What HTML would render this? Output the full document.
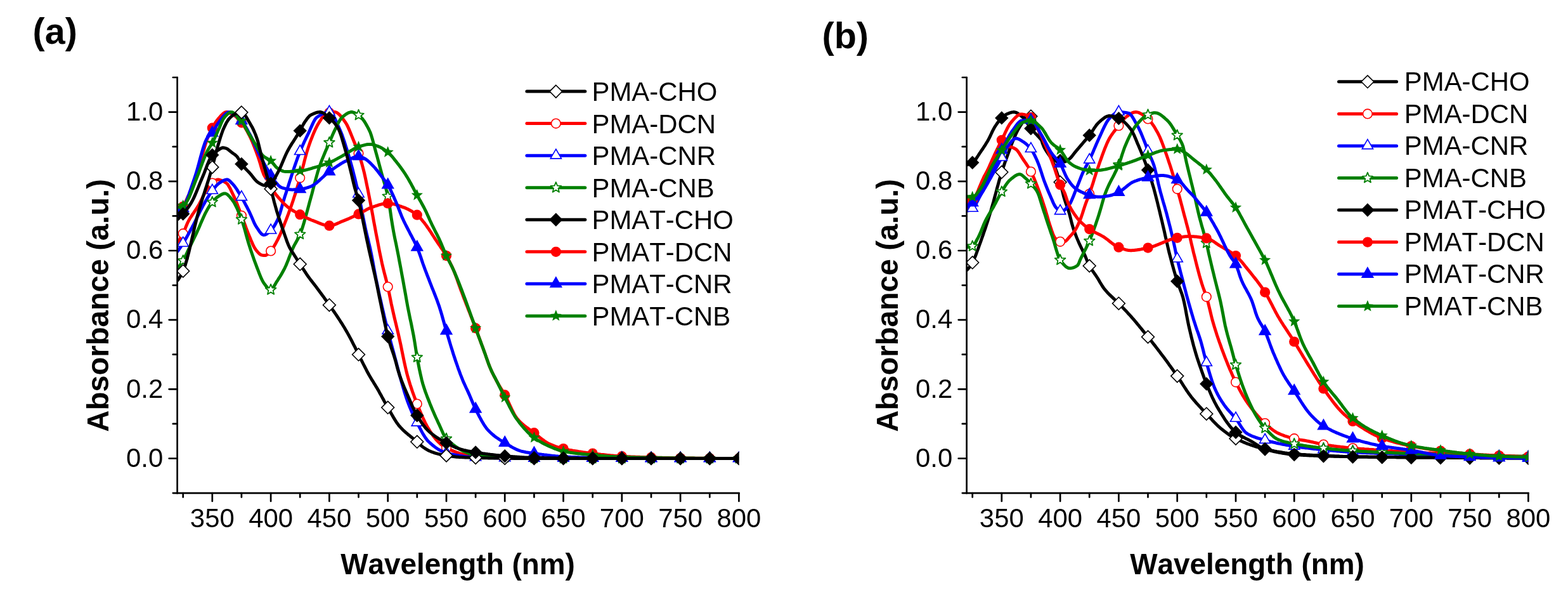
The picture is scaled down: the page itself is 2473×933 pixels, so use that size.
<!DOCTYPE html><html><head><meta charset="utf-8"><title>Absorbance spectra</title><style>html,body{margin:0;padding:0;background:#fff;}svg{display:block;} text{font-kerning:none;}</style></head><body>
<svg width="2473" height="933" viewBox="0 0 2473 933">
<rect width="2473" height="933" fill="#fff"/>
<text x="51.5" y="69.0" font-family="Liberation Sans, Arial, sans-serif" font-weight="bold" font-size="57.5">(a)</text>
<text x="1296.5" y="75.9" font-family="Liberation Sans, Arial, sans-serif" font-weight="bold" font-size="57.5">(b)</text>
<clipPath id="ca"><rect x="279.6" y="100" width="885.9" height="680"/></clipPath>
<g clip-path="url(#ca)">
<path d="M279.4,382.4 281.3,380.2 283.1,377.6 285,374.7 286.8,371.6 288.7,368.2 290.5,364.3 292.3,359.7 294.2,355 296,350.8 297.9,347.2 299.7,344 301.6,341.1 303.4,338.3 305.3,335.6 307.1,332.9 309,330.2 310.8,327.4 312.7,324.4 314.5,321.1 316.3,317.6 318.2,313.8 320,310 321.9,306.3 323.7,302.7 325.6,299.5 327.4,296.7 329.3,294.3 331.1,292.1 333,290.2 334.8,288.5 336.6,286.9 338.5,285.3 340.3,284 342.2,283.2 344,283.1 345.9,283.3 347.7,283.8 349.6,284.5 351.4,285.3 353.3,286.2 355.1,287.3 356.9,288.5 358.8,290.2 360.6,292.9 362.5,296.2 364.3,299.9 366.2,303.8 368,307.6 369.9,311.6 371.7,315.9 373.6,320.5 375.4,325.3 377.3,330.1 379.1,335 380.9,339.8 382.8,344.7 384.6,349.7 386.5,354.7 388.3,359.7 390.2,364.6 392,369.3 393.9,373.7 395.7,378.2 397.6,382.6 399.4,386.7 401.2,390.2 403.1,393 404.9,395.4 406.8,397.6 408.6,399.5 410.5,401 412.3,401.9 414.2,402.3 416,402.5 417.9,402.6 419.7,402.2 421.6,401 423.4,399.4 425.2,397.5 427.1,395.5 428.9,393.3 430.8,390.7 432.6,387.6 434.5,384.3 436.3,380.9 438.2,377.3 440,373.6 441.9,369.6 443.7,365.4 445.5,361 447.4,356.4 449.2,351.7 451.1,346.9 452.9,342.1 454.8,337.2 456.6,332.2 458.5,327 460.3,321.7 462.2,316.2 464,310.6 465.9,304.9 467.7,299 469.5,292.9 471.4,286.7 473.2,280.3 475.1,273.6 476.9,266.5 478.8,259.2 480.6,251.9 482.5,244.9 484.3,238.4 486.2,232.5 488,227.2 489.8,222.2 491.7,217.3 493.5,212.7 495.4,208.3 497.2,204.2 499.1,200.4 500.9,196.9 502.8,193.8 504.6,190.9 506.5,188 508.3,185.2 510.2,182.7 512,180.6 513.8,179.1 515.7,178.2 517.5,177.8 519.4,177.5 521.2,177.1 523.1,176.9 524.9,176.7 526.8,176.6 528.6,176.6 530.5,177.1 532.3,178.1 534.1,179.6 536,181.4 537.8,183.5 539.7,185.9 541.5,188.3 543.4,190.9 545.2,193.5 547.1,196.6 548.9,200.4 550.8,204.6 552.6,209 554.5,213.6 556.3,218.1 558.1,222.5 560,226.9 561.8,231.5 563.7,236.4 565.5,241.6 567.4,247.1 569.2,253 571.1,259.3 572.9,266.1 574.8,273.7 576.6,281.9 578.4,290.7 580.3,299.8 582.1,309.1 584,318.5 585.8,328.3 587.7,338.5 589.5,348.7 591.4,358.8 593.2,368.5 595.1,378.1 596.9,387.6 598.7,397 600.6,406 602.4,414.6 604.3,422.6 606.1,429.9 608,437 609.8,444.2 611.7,452 613.5,460.7 615.4,469.9 617.2,479.1 619.1,487.6 620.9,495.6 622.7,503.4 624.6,511.1 626.4,518.8 628.3,526.6 630.1,534.7 632,543.3 633.8,552.3 635.7,561.4 637.5,570.3 639.4,578.8 641.2,586.5 643,593.3 644.9,599.7 646.7,605.7 648.6,611.4 650.4,616.8 652.3,622 654.1,627 656,631.8 657.8,636.5 659.7,641.1 661.5,645.6 663.4,650.1 665.2,654.4 667,658.5 668.9,662.5 670.7,666.3 672.6,669.9 674.4,673.3 676.3,676.4 678.1,679.3 680,682.1 681.8,684.8 683.7,687.4 685.5,689.8 687.3,692.1 689.2,694.2 691,696.2 692.9,698 694.7,699.7 696.6,701.2 698.4,702.7 700.3,704 702.1,705.2 704,706.1 705.8,707 707.7,707.8 709.5,708.6 711.3,709.4 713.2,710.1 715,710.9 716.9,711.6 718.7,712.3 720.6,713 722.4,713.6 724.3,714.3 726.1,714.9 728,715.4 729.8,716 731.6,716.5 733.5,717 735.3,717.4 737.2,717.8 739,718.2 740.9,718.6 742.7,718.9 744.6,719.1 746.4,719.4 748.3,719.6 750.1,719.8 752,719.9 753.8,720.1 755.6,720.2 757.5,720.3 759.3,720.5 761.2,720.6 763,720.7 764.9,720.8 766.7,720.9 768.6,721 770.4,721.1 772.3,721.2 774.1,721.3 775.9,721.3 777.8,721.4 779.6,721.5 781.5,721.6 783.3,721.6 785.2,721.7 787,721.7 788.9,721.8 790.7,721.8 792.6,721.9 794.4,721.9 796.2,722 798.1,722 799.9,722 801.8,722.1 803.6,722.1 805.5,722.1 807.3,722.2 809.2,722.2 811,722.2 812.9,722.2 814.7,722.3 816.6,722.3 818.4,722.3 820.2,722.3 822.1,722.4 823.9,722.4 825.8,722.4 827.6,722.4 829.5,722.4 831.3,722.5 833.2,722.5 835,722.5 836.9,722.5 838.7,722.5 840.5,722.5 842.4,722.5 844.2,722.5 846.1,722.5 847.9,722.5 849.8,722.5 851.6,722.5 853.5,722.5 855.3,722.5 857.2,722.5 859,722.5 860.9,722.5 862.7,722.5 864.5,722.5 866.4,722.5 868.2,722.5 870.1,722.5 871.9,722.5 873.8,722.5 875.6,722.5 877.5,722.5 879.3,722.5 881.2,722.5 883,722.5 884.8,722.5 886.7,722.5 888.5,722.5 890.4,722.5 892.2,722.5 894.1,722.5 895.9,722.5 897.8,722.5 899.6,722.5 901.5,722.5 903.3,722.5 905.2,722.5 907,722.5 908.8,722.5 910.7,722.5 912.5,722.5 914.4,722.5 916.2,722.5 918.1,722.5 919.9,722.5 921.8,722.5 923.6,722.5 925.5,722.5 927.3,722.5 929.1,722.5 931,722.5 932.8,722.5 934.7,722.5 936.5,722.5 938.4,722.5 940.2,722.5 942.1,722.5 943.9,722.5 945.8,722.5 947.6,722.5 949.5,722.5 951.3,722.5 953.1,722.5 955,722.5 956.8,722.5 958.7,722.5 960.5,722.5 962.4,722.5 964.2,722.5 966.1,722.5 967.9,722.5 969.8,722.5 971.6,722.5 973.4,722.5 975.3,722.5 977.1,722.5 979,722.5 980.8,722.5 982.7,722.5 984.5,722.5 986.4,722.5 988.2,722.5 990.1,722.5 991.9,722.5 993.8,722.5 995.6,722.5 997.4,722.5 999.3,722.5 1001.1,722.5 1003,722.5 1004.8,722.5 1006.7,722.5 1008.5,722.5 1010.4,722.5 1012.2,722.5 1014.1,722.5 1015.9,722.5 1017.7,722.5 1019.6,722.5 1021.4,722.5 1023.3,722.5 1025.1,722.5 1027,722.5 1028.8,722.5 1030.7,722.5 1032.5,722.5 1034.4,722.5 1036.2,722.5 1038,722.5 1039.9,722.5 1041.7,722.5 1043.6,722.5 1045.4,722.5 1047.3,722.5 1049.1,722.5 1051,722.5 1052.8,722.5 1054.7,722.5 1056.5,722.5 1058.4,722.5 1060.2,722.5 1062,722.5 1063.9,722.5 1065.7,722.5 1067.6,722.5 1069.4,722.5 1071.3,722.5 1073.1,722.5 1075,722.5 1076.8,722.5 1078.7,722.5 1080.5,722.5 1082.3,722.5 1084.2,722.5 1086,722.5 1087.9,722.5 1089.7,722.5 1091.6,722.5 1093.4,722.5 1095.3,722.5 1097.1,722.5 1099,722.5 1100.8,722.5 1102.7,722.5 1104.5,722.5 1106.3,722.5 1108.2,722.5 1110,722.5 1111.9,722.5 1113.7,722.5 1115.6,722.5 1117.4,722.5 1119.3,722.5 1121.1,722.5 1123,722.5 1124.8,722.5 1126.6,722.5 1128.5,722.5 1130.3,722.5 1132.2,722.5 1134,722.5 1135.9,722.5 1137.7,722.5 1139.6,722.5 1141.4,722.5 1143.3,722.5 1145.1,722.5 1147,722.5 1148.8,722.5 1150.6,722.5 1152.5,722.5 1154.3,722.5 1156.2,722.5 1158,722.5 1159.9,722.5 1161.7,722.5 1163.6,722.5 1165.4,722.5" fill="none" stroke="#ff0000" stroke-width="5.0" stroke-linejoin="round"/>
<circle cx="288.7" cy="368.2" r="7.3" fill="#fff" stroke="#ff0000" stroke-width="1.6"/>
<circle cx="334.8" cy="288.5" r="7.3" fill="#fff" stroke="#ff0000" stroke-width="1.6"/>
<circle cx="380.9" cy="339.8" r="7.3" fill="#fff" stroke="#ff0000" stroke-width="1.6"/>
<circle cx="427.1" cy="395.5" r="7.3" fill="#fff" stroke="#ff0000" stroke-width="1.6"/>
<circle cx="473.2" cy="280.3" r="7.3" fill="#fff" stroke="#ff0000" stroke-width="1.6"/>
<circle cx="519.4" cy="177.5" r="7.3" fill="#fff" stroke="#ff0000" stroke-width="1.6"/>
<circle cx="565.5" cy="241.6" r="7.3" fill="#fff" stroke="#ff0000" stroke-width="1.6"/>
<circle cx="611.7" cy="452" r="7.3" fill="#fff" stroke="#ff0000" stroke-width="1.6"/>
<circle cx="657.8" cy="636.5" r="7.3" fill="#fff" stroke="#ff0000" stroke-width="1.6"/>
<circle cx="704" cy="706.1" r="7.3" fill="#fff" stroke="#ff0000" stroke-width="1.6"/>
<circle cx="750.1" cy="719.8" r="7.3" fill="#fff" stroke="#ff0000" stroke-width="1.6"/>
<circle cx="796.2" cy="722" r="7.3" fill="#fff" stroke="#ff0000" stroke-width="1.6"/>
<circle cx="842.4" cy="722.5" r="7.3" fill="#fff" stroke="#ff0000" stroke-width="1.6"/>
<circle cx="888.5" cy="722.5" r="7.3" fill="#fff" stroke="#ff0000" stroke-width="1.6"/>
<circle cx="934.7" cy="722.5" r="7.3" fill="#fff" stroke="#ff0000" stroke-width="1.6"/>
<circle cx="980.8" cy="722.5" r="7.3" fill="#fff" stroke="#ff0000" stroke-width="1.6"/>
<circle cx="1027" cy="722.5" r="7.3" fill="#fff" stroke="#ff0000" stroke-width="1.6"/>
<circle cx="1073.1" cy="722.5" r="7.3" fill="#fff" stroke="#ff0000" stroke-width="1.6"/>
<circle cx="1119.3" cy="722.5" r="7.3" fill="#fff" stroke="#ff0000" stroke-width="1.6"/>
<circle cx="1165.4" cy="722.5" r="7.3" fill="#fff" stroke="#ff0000" stroke-width="1.6"/>
<path d="M279.4,397.1 281.3,394.6 283.1,391.9 285,389.2 286.8,386.4 288.7,383.5 290.5,380.5 292.3,377.4 294.2,374.2 296,370.9 297.9,367.6 299.7,364.2 301.6,360.8 303.4,357.3 305.3,353.9 307.1,350.3 309,346.6 310.8,342.9 312.7,339.1 314.5,335.3 316.3,331.6 318.2,328 320,324.5 321.9,321.2 323.7,317.9 325.6,314.7 327.4,311.6 329.3,308.6 331.1,305.7 333,303 334.8,300.5 336.6,298.1 338.5,295.8 340.3,293.6 342.2,291.6 344,289.9 345.9,288.5 347.7,287.3 349.6,286.2 351.4,285.1 353.3,284.2 355.1,283.5 356.9,283.1 358.8,283.1 360.6,283.9 362.5,285.3 364.3,287.2 366.2,289.2 368,291.2 369.9,293.4 371.7,295.9 373.6,298.6 375.4,301.6 377.3,304.6 379.1,307.8 380.9,310.9 382.8,314.1 384.6,317.4 386.5,320.8 388.3,324.3 390.2,327.8 392,331.4 393.9,335.2 395.7,339.2 397.6,343.5 399.4,347.8 401.2,351.9 403.1,355.5 404.9,358.4 406.8,361.1 408.6,363.9 410.5,366.4 412.3,368.5 414.2,369.9 416,370.4 417.9,370.1 419.7,369.3 421.6,368.1 423.4,366.6 425.2,365 427.1,363.3 428.9,361.4 430.8,359 432.6,356.1 434.5,352.9 436.3,349.4 438.2,345.6 440,340.8 441.9,335.1 443.7,328.8 445.5,322.3 447.4,315.8 449.2,309.8 451.1,304.1 452.9,298.3 454.8,292.5 456.6,286.7 458.5,281 460.3,275.3 462.2,269.7 464,264.1 465.9,258.7 467.7,253.5 469.5,248.4 471.4,243.5 473.2,238.8 475.1,234.4 476.9,230.1 478.8,226 480.6,222 482.5,218.2 484.3,214.4 486.2,210.6 488,206.8 489.8,202.6 491.7,198.4 493.5,194.4 495.4,190.7 497.2,187.6 499.1,185.4 500.9,184 502.8,182.8 504.6,181.6 506.5,180.5 508.3,179.6 510.2,178.7 512,178 513.8,177.4 515.7,177 517.5,176.7 519.4,176.6 521.2,177.1 523.1,178.7 524.9,181.1 526.8,184.1 528.6,187.7 530.5,191.7 532.3,195.8 534.1,200.1 536,204.2 537.8,208.4 539.7,213.2 541.5,218.5 543.4,224.1 545.2,229.9 547.1,235.7 548.9,241.7 550.8,248 552.6,254.5 554.5,261.2 556.3,268 558.1,275.1 560,282.4 561.8,290 563.7,297.8 565.5,306 567.4,314.7 569.2,324 571.1,333.6 572.9,343.2 574.8,352.5 576.6,361.2 578.4,369.1 580.3,376.7 582.1,384.3 584,392.4 585.8,401.3 587.7,411.1 589.5,421.2 591.4,431.1 593.2,440.4 595.1,449.3 596.9,457.9 598.7,466.4 600.6,474.6 602.4,482.8 604.3,490.8 606.1,498.8 608,506.6 609.8,514.2 611.7,521.6 613.5,528.8 615.4,535.7 617.2,542.5 619.1,549.3 620.9,556 622.7,562.8 624.6,569.7 626.4,576.8 628.3,583.8 630.1,590.7 632,597.4 633.8,603.9 635.7,610.2 637.5,616.4 639.4,622.4 641.2,628 643,633.2 644.9,638 646.7,642.6 648.6,647 650.4,651.2 652.3,655.2 654.1,659.1 656,662.8 657.8,666.4 659.7,669.9 661.5,673.4 663.4,676.9 665.2,680.3 667,683.6 668.9,686.6 670.7,689.5 672.6,692.1 674.4,694.4 676.3,696.3 678.1,698 680,699.6 681.8,701.2 683.7,702.7 685.5,704.1 687.3,705.5 689.2,706.8 691,708 692.9,709.1 694.7,710.1 696.6,711 698.4,711.9 700.3,712.6 702.1,713.2 704,713.8 705.8,714.2 707.7,714.7 709.5,715.1 711.3,715.6 713.2,716 715,716.4 716.9,716.8 718.7,717.1 720.6,717.5 722.4,717.8 724.3,718.1 726.1,718.4 728,718.7 729.8,719 731.6,719.2 733.5,719.5 735.3,719.7 737.2,719.9 739,720.1 740.9,720.3 742.7,720.4 744.6,720.6 746.4,720.7 748.3,720.8 750.1,720.9 752,720.9 753.8,721 755.6,721.1 757.5,721.1 759.3,721.2 761.2,721.3 763,721.3 764.9,721.4 766.7,721.4 768.6,721.4 770.4,721.5 772.3,721.5 774.1,721.6 775.9,721.6 777.8,721.6 779.6,721.7 781.5,721.7 783.3,721.7 785.2,721.8 787,721.8 788.9,721.8 790.7,721.9 792.6,721.9 794.4,721.9 796.2,722 798.1,722 799.9,722 801.8,722 803.6,722.1 805.5,722.1 807.3,722.1 809.2,722.2 811,722.2 812.9,722.2 814.7,722.3 816.6,722.3 818.4,722.3 820.2,722.3 822.1,722.4 823.9,722.4 825.8,722.4 827.6,722.4 829.5,722.4 831.3,722.5 833.2,722.5 835,722.5 836.9,722.5 838.7,722.5 840.5,722.5 842.4,722.5 844.2,722.5 846.1,722.5 847.9,722.5 849.8,722.5 851.6,722.5 853.5,722.5 855.3,722.5 857.2,722.5 859,722.5 860.9,722.5 862.7,722.5 864.5,722.5 866.4,722.5 868.2,722.5 870.1,722.5 871.9,722.5 873.8,722.5 875.6,722.5 877.5,722.5 879.3,722.5 881.2,722.5 883,722.5 884.8,722.5 886.7,722.5 888.5,722.5 890.4,722.5 892.2,722.5 894.1,722.5 895.9,722.5 897.8,722.5 899.6,722.5 901.5,722.5 903.3,722.5 905.2,722.5 907,722.5 908.8,722.5 910.7,722.5 912.5,722.5 914.4,722.5 916.2,722.5 918.1,722.5 919.9,722.5 921.8,722.5 923.6,722.5 925.5,722.5 927.3,722.5 929.1,722.5 931,722.5 932.8,722.5 934.7,722.5 936.5,722.5 938.4,722.5 940.2,722.5 942.1,722.5 943.9,722.5 945.8,722.5 947.6,722.5 949.5,722.5 951.3,722.5 953.1,722.5 955,722.5 956.8,722.5 958.7,722.5 960.5,722.5 962.4,722.5 964.2,722.5 966.1,722.5 967.9,722.5 969.8,722.5 971.6,722.5 973.4,722.5 975.3,722.5 977.1,722.5 979,722.5 980.8,722.5 982.7,722.5 984.5,722.5 986.4,722.5 988.2,722.5 990.1,722.5 991.9,722.5 993.8,722.5 995.6,722.5 997.4,722.5 999.3,722.5 1001.1,722.5 1003,722.5 1004.8,722.5 1006.7,722.5 1008.5,722.5 1010.4,722.5 1012.2,722.5 1014.1,722.5 1015.9,722.5 1017.7,722.5 1019.6,722.5 1021.4,722.5 1023.3,722.5 1025.1,722.5 1027,722.5 1028.8,722.5 1030.7,722.5 1032.5,722.5 1034.4,722.5 1036.2,722.5 1038,722.5 1039.9,722.5 1041.7,722.5 1043.6,722.5 1045.4,722.5 1047.3,722.5 1049.1,722.5 1051,722.5 1052.8,722.5 1054.7,722.5 1056.5,722.5 1058.4,722.5 1060.2,722.5 1062,722.5 1063.9,722.5 1065.7,722.5 1067.6,722.5 1069.4,722.5 1071.3,722.5 1073.1,722.5 1075,722.5 1076.8,722.5 1078.7,722.5 1080.5,722.5 1082.3,722.5 1084.2,722.5 1086,722.5 1087.9,722.5 1089.7,722.5 1091.6,722.5 1093.4,722.5 1095.3,722.5 1097.1,722.5 1099,722.5 1100.8,722.5 1102.7,722.5 1104.5,722.5 1106.3,722.5 1108.2,722.5 1110,722.5 1111.9,722.5 1113.7,722.5 1115.6,722.5 1117.4,722.5 1119.3,722.5 1121.1,722.5 1123,722.5 1124.8,722.5 1126.6,722.5 1128.5,722.5 1130.3,722.5 1132.2,722.5 1134,722.5 1135.9,722.5 1137.7,722.5 1139.6,722.5 1141.4,722.5 1143.3,722.5 1145.1,722.5 1147,722.5 1148.8,722.5 1150.6,722.5 1152.5,722.5 1154.3,722.5 1156.2,722.5 1158,722.5 1159.9,722.5 1161.7,722.5 1163.6,722.5 1165.4,722.5" fill="none" stroke="#0000ff" stroke-width="5.0" stroke-linejoin="round"/>
<path d="M288.7,373.3 297.3,388.2 280.1,388.2Z" fill="#fff" stroke="#0000ff" stroke-width="1.6" stroke-linejoin="miter"/>
<path d="M334.8,290.3 343.4,305.2 326.2,305.2Z" fill="#fff" stroke="#0000ff" stroke-width="1.6" stroke-linejoin="miter"/>
<path d="M380.9,300.7 389.5,315.6 372.3,315.6Z" fill="#fff" stroke="#0000ff" stroke-width="1.6" stroke-linejoin="miter"/>
<path d="M427.1,353.1 435.7,368 418.5,368Z" fill="#fff" stroke="#0000ff" stroke-width="1.6" stroke-linejoin="miter"/>
<path d="M473.2,228.6 481.8,243.5 464.6,243.5Z" fill="#fff" stroke="#0000ff" stroke-width="1.6" stroke-linejoin="miter"/>
<path d="M519.4,166.4 528,181.3 510.8,181.3Z" fill="#fff" stroke="#0000ff" stroke-width="1.6" stroke-linejoin="miter"/>
<path d="M565.5,295.8 574.1,310.7 556.9,310.7Z" fill="#fff" stroke="#0000ff" stroke-width="1.6" stroke-linejoin="miter"/>
<path d="M611.7,511.4 620.3,526.3 603.1,526.3Z" fill="#fff" stroke="#0000ff" stroke-width="1.6" stroke-linejoin="miter"/>
<path d="M657.8,656.2 666.4,671.1 649.2,671.1Z" fill="#fff" stroke="#0000ff" stroke-width="1.6" stroke-linejoin="miter"/>
<path d="M704,703.6 712.6,718.5 695.4,718.5Z" fill="#fff" stroke="#0000ff" stroke-width="1.6" stroke-linejoin="miter"/>
<path d="M750.1,710.7 758.7,725.6 741.5,725.6Z" fill="#fff" stroke="#0000ff" stroke-width="1.6" stroke-linejoin="miter"/>
<path d="M796.2,711.8 804.9,726.7 787.6,726.7Z" fill="#fff" stroke="#0000ff" stroke-width="1.6" stroke-linejoin="miter"/>
<path d="M842.4,712.3 851,727.2 833.8,727.2Z" fill="#fff" stroke="#0000ff" stroke-width="1.6" stroke-linejoin="miter"/>
<path d="M888.5,712.3 897.1,727.2 879.9,727.2Z" fill="#fff" stroke="#0000ff" stroke-width="1.6" stroke-linejoin="miter"/>
<path d="M934.7,712.3 943.3,727.2 926.1,727.2Z" fill="#fff" stroke="#0000ff" stroke-width="1.6" stroke-linejoin="miter"/>
<path d="M980.8,712.3 989.4,727.2 972.2,727.2Z" fill="#fff" stroke="#0000ff" stroke-width="1.6" stroke-linejoin="miter"/>
<path d="M1027,712.3 1035.6,727.2 1018.4,727.2Z" fill="#fff" stroke="#0000ff" stroke-width="1.6" stroke-linejoin="miter"/>
<path d="M1073.1,712.3 1081.7,727.2 1064.5,727.2Z" fill="#fff" stroke="#0000ff" stroke-width="1.6" stroke-linejoin="miter"/>
<path d="M1119.3,712.3 1127.9,727.2 1110.7,727.2Z" fill="#fff" stroke="#0000ff" stroke-width="1.6" stroke-linejoin="miter"/>
<path d="M1165.4,712.3 1174,727.2 1156.8,727.2Z" fill="#fff" stroke="#0000ff" stroke-width="1.6" stroke-linejoin="miter"/>
<path d="M279.4,423.3 281.3,421.3 283.1,419 285,416.5 286.8,413.7 288.7,410.8 290.5,407.5 292.3,403.9 294.2,400 296,396.1 297.9,392.2 299.7,388.5 301.6,384.7 303.4,380.9 305.3,377 307.1,373.2 309,369.3 310.8,365.4 312.7,361.3 314.5,357.2 316.3,352.9 318.2,348.6 320,344.4 321.9,340.3 323.7,336.4 325.6,332.8 327.4,329.5 329.3,326.4 331.1,323.5 333,320.9 334.8,318.5 336.6,316.4 338.5,314.5 340.3,312.7 342.2,311.1 344,309.8 345.9,308.6 347.7,307.5 349.6,306.4 351.4,305.6 353.3,305 355.1,304.9 356.9,305.5 358.8,306.7 360.6,308.4 362.5,310.4 364.3,312.7 366.2,315 368,317.5 369.9,320.5 371.7,324 373.6,327.8 375.4,332 377.3,336.4 379.1,341.1 380.9,345.8 382.8,351.1 384.6,357.1 386.5,363.6 388.3,370.3 390.2,377 392,383.3 393.9,389.1 395.7,394.7 397.6,400.2 399.4,405.5 401.2,410.7 403.1,415.7 404.9,420.5 406.8,425.3 408.6,430.2 410.5,434.9 412.3,439.2 414.2,443 416,446 417.9,448.5 419.7,451 421.6,453.2 423.4,455 425.2,456.2 427.1,456.6 428.9,455.8 430.8,453.6 432.6,450.5 434.5,447.2 436.3,444.1 438.2,441.3 440,438.4 441.9,435.5 443.7,432.4 445.5,429.2 447.4,425.8 449.2,422.3 451.1,418.3 452.9,413.9 454.8,409.2 456.6,404.4 458.5,399.6 460.3,395 462.2,390.7 464,386.9 465.9,383.5 467.7,380.2 469.5,377 471.4,373.4 473.2,369.3 475.1,364.5 476.9,359.1 478.8,353.1 480.6,346.8 482.5,340.1 484.3,333.3 486.2,326.5 488,319.7 489.8,313.1 491.7,306.4 493.5,299.4 495.4,292.2 497.2,285.2 499.1,278.3 500.9,271.8 502.8,265.8 504.6,260.5 506.5,255.4 508.3,250.6 510.2,246.1 512,241.7 513.8,237.4 515.7,233.2 517.5,228.9 519.4,224.6 521.2,220.3 523.1,215.9 524.9,211.7 526.8,207.6 528.6,203.9 530.5,200.1 532.3,196.3 534.1,192.7 536,189.5 537.8,186.8 539.7,184.8 541.5,183.2 543.4,181.8 545.2,180.4 547.1,179.2 548.9,178.1 550.8,177.3 552.6,176.8 554.5,176.6 556.3,176.8 558.1,177.3 560,178.1 561.8,179.1 563.7,180.3 565.5,181.5 567.4,182.9 569.2,184.6 571.1,186.6 572.9,189 574.8,191.6 576.6,194.5 578.4,197.7 580.3,201.1 582.1,204.7 584,208.8 585.8,214.1 587.7,220.5 589.5,227.5 591.4,234.5 593.2,241.2 595.1,247.9 596.9,254.6 598.7,261.4 600.6,268.3 602.4,275.1 604.3,281.7 606.1,288 608,294.3 609.8,301.3 611.7,309.3 613.5,319.4 615.4,331.5 617.2,344.2 619.1,356 620.9,366.1 622.7,375.4 624.6,384.3 626.4,393.3 628.3,402.8 630.1,412.5 632,422.4 633.8,432.4 635.7,442.5 637.5,452.6 639.4,463 641.2,473.4 643,483.4 644.9,492.8 646.7,501.7 648.6,510.4 650.4,519.4 652.3,529 654.1,539.7 656,551.8 657.8,563.1 659.7,572.9 661.5,582.3 663.4,591 665.2,598.8 667,605.5 668.9,611.5 670.7,616.9 672.6,622 674.4,626.8 676.3,631.5 678.1,636.2 680,640.7 681.8,645.2 683.7,649.5 685.5,653.7 687.3,657.8 689.2,661.8 691,665.8 692.9,669.7 694.7,673.8 696.6,678 698.4,682.1 700.3,685.9 702.1,689.1 704,691.4 705.8,693.2 707.7,694.9 709.5,696.5 711.3,698.1 713.2,699.6 715,701.1 716.9,702.5 718.7,703.8 720.6,705.1 722.4,706.3 724.3,707.4 726.1,708.5 728,709.5 729.8,710.5 731.6,711.4 733.5,712.2 735.3,713 737.2,713.7 739,714.4 740.9,715 742.7,715.5 744.6,716 746.4,716.4 748.3,716.7 750.1,717 752,717.3 753.8,717.6 755.6,717.8 757.5,718 759.3,718.2 761.2,718.4 763,718.6 764.9,718.8 766.7,719 768.6,719.2 770.4,719.3 772.3,719.5 774.1,719.6 775.9,719.8 777.8,719.9 779.6,720 781.5,720.2 783.3,720.3 785.2,720.4 787,720.5 788.9,720.6 790.7,720.6 792.6,720.7 794.4,720.8 796.2,720.9 798.1,720.9 799.9,721 801.8,721.1 803.6,721.1 805.5,721.2 807.3,721.2 809.2,721.3 811,721.3 812.9,721.4 814.7,721.4 816.6,721.5 818.4,721.5 820.2,721.5 822.1,721.6 823.9,721.6 825.8,721.7 827.6,721.7 829.5,721.7 831.3,721.8 833.2,721.8 835,721.8 836.9,721.9 838.7,721.9 840.5,721.9 842.4,722 844.2,722 846.1,722 847.9,722 849.8,722.1 851.6,722.1 853.5,722.1 855.3,722.2 857.2,722.2 859,722.2 860.9,722.3 862.7,722.3 864.5,722.3 866.4,722.3 868.2,722.4 870.1,722.4 871.9,722.4 873.8,722.4 875.6,722.4 877.5,722.5 879.3,722.5 881.2,722.5 883,722.5 884.8,722.5 886.7,722.5 888.5,722.5 890.4,722.5 892.2,722.5 894.1,722.5 895.9,722.5 897.8,722.5 899.6,722.5 901.5,722.5 903.3,722.5 905.2,722.5 907,722.5 908.8,722.5 910.7,722.5 912.5,722.5 914.4,722.5 916.2,722.5 918.1,722.5 919.9,722.5 921.8,722.5 923.6,722.5 925.5,722.5 927.3,722.5 929.1,722.5 931,722.5 932.8,722.5 934.7,722.5 936.5,722.5 938.4,722.5 940.2,722.5 942.1,722.5 943.9,722.5 945.8,722.5 947.6,722.5 949.5,722.5 951.3,722.5 953.1,722.5 955,722.5 956.8,722.5 958.7,722.5 960.5,722.5 962.4,722.5 964.2,722.5 966.1,722.5 967.9,722.5 969.8,722.5 971.6,722.5 973.4,722.5 975.3,722.5 977.1,722.5 979,722.5 980.8,722.5 982.7,722.5 984.5,722.5 986.4,722.5 988.2,722.5 990.1,722.5 991.9,722.5 993.8,722.5 995.6,722.5 997.4,722.5 999.3,722.5 1001.1,722.5 1003,722.5 1004.8,722.5 1006.7,722.5 1008.5,722.5 1010.4,722.5 1012.2,722.5 1014.1,722.5 1015.9,722.5 1017.7,722.5 1019.6,722.5 1021.4,722.5 1023.3,722.5 1025.1,722.5 1027,722.5 1028.8,722.5 1030.7,722.5 1032.5,722.5 1034.4,722.5 1036.2,722.5 1038,722.5 1039.9,722.5 1041.7,722.5 1043.6,722.5 1045.4,722.5 1047.3,722.5 1049.1,722.5 1051,722.5 1052.8,722.5 1054.7,722.5 1056.5,722.5 1058.4,722.5 1060.2,722.5 1062,722.5 1063.9,722.5 1065.7,722.5 1067.6,722.5 1069.4,722.5 1071.3,722.5 1073.1,722.5 1075,722.5 1076.8,722.5 1078.7,722.5 1080.5,722.5 1082.3,722.5 1084.2,722.5 1086,722.5 1087.9,722.5 1089.7,722.5 1091.6,722.5 1093.4,722.5 1095.3,722.5 1097.1,722.5 1099,722.5 1100.8,722.5 1102.7,722.5 1104.5,722.5 1106.3,722.5 1108.2,722.5 1110,722.5 1111.9,722.5 1113.7,722.5 1115.6,722.5 1117.4,722.5 1119.3,722.5 1121.1,722.5 1123,722.5 1124.8,722.5 1126.6,722.5 1128.5,722.5 1130.3,722.5 1132.2,722.5 1134,722.5 1135.9,722.5 1137.7,722.5 1139.6,722.5 1141.4,722.5 1143.3,722.5 1145.1,722.5 1147,722.5 1148.8,722.5 1150.6,722.5 1152.5,722.5 1154.3,722.5 1156.2,722.5 1158,722.5 1159.9,722.5 1161.7,722.5 1163.6,722.5 1165.4,722.5" fill="none" stroke="#008000" stroke-width="5.0" stroke-linejoin="round"/>
<path d="M288.7,402.1 290.9,407.7 296.9,408.1 292.3,412 293.8,417.8 288.7,414.6 283.5,417.8 285,412 280.4,408.1 286.4,407.7Z" fill="#fff" stroke="#008000" stroke-width="1.8" stroke-linejoin="round"/>
<path d="M334.8,309.8 337.1,315.4 343.1,315.8 338.4,319.7 339.9,325.6 334.8,322.4 329.7,325.6 331.2,319.7 326.5,315.8 332.5,315.4Z" fill="#fff" stroke="#008000" stroke-width="1.8" stroke-linejoin="round"/>
<path d="M380.9,337.1 383.2,342.7 389.2,343.1 384.6,347 386.1,352.9 380.9,349.7 375.8,352.9 377.3,347 372.7,343.1 378.7,342.7Z" fill="#fff" stroke="#008000" stroke-width="1.8" stroke-linejoin="round"/>
<path d="M427.1,447.9 429.3,453.5 435.4,454 430.7,457.8 432.2,463.7 427.1,460.5 422,463.7 423.4,457.8 418.8,454 424.8,453.5Z" fill="#fff" stroke="#008000" stroke-width="1.8" stroke-linejoin="round"/>
<path d="M473.2,360.6 475.5,366.2 481.5,366.6 476.9,370.5 478.3,376.3 473.2,373.1 468.1,376.3 469.6,370.5 465,366.6 471,366.2Z" fill="#fff" stroke="#008000" stroke-width="1.8" stroke-linejoin="round"/>
<path d="M519.4,215.9 521.6,221.5 527.7,222 523,225.8 524.5,231.7 519.4,228.5 514.3,231.7 515.7,225.8 511.1,222 517.1,221.5Z" fill="#fff" stroke="#008000" stroke-width="1.8" stroke-linejoin="round"/>
<path d="M565.5,172.8 567.8,178.4 573.8,178.8 569.2,182.7 570.6,188.6 565.5,185.3 560.4,188.6 561.9,182.7 557.3,178.8 563.3,178.4Z" fill="#fff" stroke="#008000" stroke-width="1.8" stroke-linejoin="round"/>
<path d="M611.7,300.6 613.9,306.2 619.9,306.6 615.3,310.4 616.8,316.3 611.7,313.1 606.6,316.3 608,310.4 603.4,306.6 609.4,306.2Z" fill="#fff" stroke="#008000" stroke-width="1.8" stroke-linejoin="round"/>
<path d="M657.8,554.4 660.1,560 666.1,560.4 661.5,564.3 662.9,570.1 657.8,566.9 652.7,570.1 654.2,564.3 649.5,560.4 655.6,560Z" fill="#fff" stroke="#008000" stroke-width="1.8" stroke-linejoin="round"/>
<path d="M704,682.7 706.2,688.3 712.2,688.7 707.6,692.6 709.1,698.4 704,695.2 698.8,698.4 700.3,692.6 695.7,688.7 701.7,688.3Z" fill="#fff" stroke="#008000" stroke-width="1.8" stroke-linejoin="round"/>
<path d="M750.1,708.3 752.4,713.9 758.4,714.4 753.7,718.2 755.2,724.1 750.1,720.9 745,724.1 746.5,718.2 741.8,714.4 747.9,713.9Z" fill="#fff" stroke="#008000" stroke-width="1.8" stroke-linejoin="round"/>
<path d="M796.2,712.2 798.5,717.8 804.5,718.2 799.9,722 801.4,727.9 796.2,724.7 791.1,727.9 792.6,722 788,718.2 794,717.8Z" fill="#fff" stroke="#008000" stroke-width="1.8" stroke-linejoin="round"/>
<path d="M842.4,713.3 844.6,718.9 850.7,719.3 846,723.1 847.5,729 842.4,725.8 837.3,729 838.8,723.1 834.1,719.3 840.1,718.9Z" fill="#fff" stroke="#008000" stroke-width="1.8" stroke-linejoin="round"/>
<path d="M888.5,713.8 890.8,719.4 896.8,719.8 892.2,723.7 893.7,729.5 888.5,726.3 883.4,729.5 884.9,723.7 880.3,719.8 886.3,719.4Z" fill="#fff" stroke="#008000" stroke-width="1.8" stroke-linejoin="round"/>
<path d="M934.7,713.8 936.9,719.4 943,719.8 938.3,723.7 939.8,729.5 934.7,726.3 929.6,729.5 931,723.7 926.4,719.8 932.4,719.4Z" fill="#fff" stroke="#008000" stroke-width="1.8" stroke-linejoin="round"/>
<path d="M980.8,713.8 983.1,719.4 989.1,719.8 984.5,723.7 985.9,729.5 980.8,726.3 975.7,729.5 977.2,723.7 972.6,719.8 978.6,719.4Z" fill="#fff" stroke="#008000" stroke-width="1.8" stroke-linejoin="round"/>
<path d="M1027,713.8 1029.2,719.4 1035.2,719.8 1030.6,723.7 1032.1,729.5 1027,726.3 1021.9,729.5 1023.3,723.7 1018.7,719.8 1024.7,719.4Z" fill="#fff" stroke="#008000" stroke-width="1.8" stroke-linejoin="round"/>
<path d="M1073.1,713.8 1075.4,719.4 1081.4,719.8 1076.8,723.7 1078.2,729.5 1073.1,726.3 1068,729.5 1069.5,723.7 1064.8,719.8 1070.9,719.4Z" fill="#fff" stroke="#008000" stroke-width="1.8" stroke-linejoin="round"/>
<path d="M1119.3,713.8 1121.5,719.4 1127.5,719.8 1122.9,723.7 1124.4,729.5 1119.3,726.3 1114.2,729.5 1115.6,723.7 1111,719.8 1117,719.4Z" fill="#fff" stroke="#008000" stroke-width="1.8" stroke-linejoin="round"/>
<path d="M1165.4,713.8 1167.7,719.4 1173.7,719.8 1169.1,723.7 1170.5,729.5 1165.4,726.3 1160.3,729.5 1161.8,723.7 1157.1,719.8 1163.2,719.4Z" fill="#fff" stroke="#008000" stroke-width="1.8" stroke-linejoin="round"/>
<path d="M279.4,340.4 281.3,337.7 283.1,335 285,332 286.8,328.9 288.7,325.6 290.5,322.2 292.3,318.5 294.2,314.8 296,310.8 297.9,306.8 299.7,302.5 301.6,298.2 303.4,293.7 305.3,289 307.1,284.2 309,279.2 310.8,273.9 312.7,267.9 314.5,261.5 316.3,254.8 318.2,247.9 320,241.2 321.9,234.6 323.7,228.3 325.6,222.6 327.4,217.5 329.3,213.1 331.1,209 333,205.2 334.8,201.7 336.6,198.4 338.5,195.3 340.3,192.4 342.2,189.8 344,187.5 345.9,185.4 347.7,183.3 349.6,181.2 351.4,179.4 353.3,177.9 355.1,177 356.9,176.6 358.8,176.8 360.6,177.3 362.5,178 364.3,178.9 366.2,179.9 368,181 369.9,182.1 371.7,183.5 373.6,185.2 375.4,187 377.3,189 379.1,191.1 380.9,193.3 382.8,195.7 384.6,198.3 386.5,201.2 388.3,204.3 390.2,207.6 392,211 393.9,214.6 395.7,218.4 397.6,222.6 399.4,227 401.2,231.7 403.1,236.5 404.9,241.5 406.8,246.5 408.6,252 410.5,258.1 412.3,264.4 414.2,270.2 416,275 417.9,278.5 419.7,281.3 421.6,283.7 423.4,285.9 425.2,288.4 427.1,291.2 428.9,295 430.8,299.2 432.6,302.9 434.5,305.7 436.3,308 438.2,310.2 440,312.3 441.9,314.4 443.7,316.4 445.5,318.4 447.4,320.4 449.2,322.2 451.1,323.9 452.9,325.5 454.8,327 456.6,328.4 458.5,329.6 460.3,330.9 462.2,332 464,333.1 465.9,334.2 467.7,335.2 469.5,336.2 471.4,337.2 473.2,338.2 475.1,339.2 476.9,340.1 478.8,341 480.6,342 482.5,342.9 484.3,343.7 486.2,344.6 488,345.4 489.8,346.2 491.7,347 493.5,347.7 495.4,348.4 497.2,349.1 499.1,349.8 500.9,350.6 502.8,351.4 504.6,352.1 506.5,352.8 508.3,353.5 510.2,354.1 512,354.6 513.8,355 515.7,355.4 517.5,355.6 519.4,355.7 521.2,355.6 523.1,355.3 524.9,354.9 526.8,354.3 528.6,353.7 530.5,352.9 532.3,352.1 534.1,351.3 536,350.5 537.8,349.6 539.7,348.8 541.5,348.1 543.4,347.4 545.2,346.6 547.1,345.9 548.9,345.1 550.8,344.3 552.6,343.4 554.5,342.6 556.3,341.7 558.1,340.9 560,340 561.8,339.1 563.7,338.2 565.5,337.4 567.4,336.5 569.2,335.5 571.1,334.5 572.9,333.4 574.8,332.4 576.6,331.3 578.4,330.3 580.3,329.3 582.1,328.4 584,327.6 585.8,326.9 587.7,326.3 589.5,325.7 591.4,325 593.2,324.4 595.1,323.8 596.9,323.2 598.7,322.6 600.6,322.1 602.4,321.7 604.3,321.3 606.1,320.9 608,320.7 609.8,320.6 611.7,320.5 613.5,320.6 615.4,320.7 617.2,321 619.1,321.3 620.9,321.7 622.7,322.2 624.6,322.7 626.4,323.3 628.3,323.9 630.1,324.6 632,325.2 633.8,325.9 635.7,326.5 637.5,327.2 639.4,327.9 641.2,328.7 643,329.6 644.9,330.5 646.7,331.5 648.6,332.5 650.4,333.6 652.3,334.8 654.1,336 656,337.4 657.8,338.7 659.7,340.3 661.5,342.1 663.4,344.2 665.2,346.4 667,348.6 668.9,350.8 670.7,353.3 672.6,355.8 674.4,358.5 676.3,361.1 678.1,363.9 680,366.7 681.8,369.6 683.7,372.5 685.5,375.3 687.3,378.1 689.2,380.8 691,383.5 692.9,386.2 694.7,389 696.6,391.7 698.4,394.4 700.3,397.2 702.1,400.1 704,403.1 705.8,406.4 707.7,409.8 709.5,413.3 711.3,417 713.2,420.9 715,425 716.9,429.5 718.7,434.3 720.6,439.5 722.4,444.7 724.3,450 726.1,455 728,459.9 729.8,464.7 731.6,469.5 733.5,474.3 735.3,479 737.2,483.8 739,488.5 740.9,493.2 742.7,498 744.6,502.7 746.4,507.5 748.3,512.4 750.1,517.2 752,522.2 753.8,527.1 755.6,532.1 757.5,537.1 759.3,542.2 761.2,547.2 763,552.2 764.9,557.3 766.7,562.5 768.6,567.8 770.4,573 772.3,577.8 774.1,582.1 775.9,586.2 777.8,590 779.6,593.6 781.5,597.2 783.3,600.6 785.2,603.9 787,607.1 788.9,610.2 790.7,613.2 792.6,616.1 794.4,619.2 796.2,622.4 798.1,625.8 799.9,629.6 801.8,633.5 803.6,637.5 805.5,641.5 807.3,645.4 809.2,649.2 811,652.7 812.9,655.8 814.7,658.5 816.6,660.8 818.4,662.9 820.2,664.8 822.1,666.5 823.9,668.2 825.8,669.8 827.6,671.3 829.5,672.7 831.3,674.1 833.2,675.5 835,676.8 836.9,678.1 838.7,679.4 840.5,680.8 842.4,682.2 844.2,683.7 846.1,685.1 847.9,686.7 849.8,688.2 851.6,689.6 853.5,691.1 855.3,692.6 857.2,693.9 859,695.2 860.9,696.5 862.7,697.6 864.5,698.7 866.4,699.6 868.2,700.4 870.1,701.2 871.9,701.9 873.8,702.7 875.6,703.3 877.5,704 879.3,704.6 881.2,705.2 883,705.7 884.8,706.2 886.7,706.7 888.5,707.1 890.4,707.5 892.2,707.9 894.1,708.3 895.9,708.7 897.8,709.1 899.6,709.4 901.5,709.7 903.3,710.1 905.2,710.4 907,710.7 908.8,711 910.7,711.3 912.5,711.6 914.4,711.9 916.2,712.1 918.1,712.4 919.9,712.7 921.8,712.9 923.6,713.2 925.5,713.4 927.3,713.7 929.1,713.9 931,714.1 932.8,714.4 934.7,714.6 936.5,714.8 938.4,715 940.2,715.3 942.1,715.5 943.9,715.7 945.8,715.9 947.6,716.2 949.5,716.4 951.3,716.6 953.1,716.8 955,717 956.8,717.2 958.7,717.4 960.5,717.6 962.4,717.8 964.2,718 966.1,718.1 967.9,718.3 969.8,718.5 971.6,718.6 973.4,718.8 975.3,718.9 977.1,719 979,719.1 980.8,719.2 982.7,719.3 984.5,719.4 986.4,719.5 988.2,719.6 990.1,719.7 991.9,719.7 993.8,719.8 995.6,719.9 997.4,720 999.3,720 1001.1,720.1 1003,720.2 1004.8,720.2 1006.7,720.3 1008.5,720.3 1010.4,720.4 1012.2,720.4 1014.1,720.5 1015.9,720.5 1017.7,720.6 1019.6,720.7 1021.4,720.7 1023.3,720.8 1025.1,720.8 1027,720.9 1028.8,720.9 1030.7,721 1032.5,721 1034.4,721.1 1036.2,721.1 1038,721.2 1039.9,721.2 1041.7,721.3 1043.6,721.3 1045.4,721.4 1047.3,721.4 1049.1,721.5 1051,721.5 1052.8,721.6 1054.7,721.6 1056.5,721.7 1058.4,721.7 1060.2,721.8 1062,721.8 1063.9,721.8 1065.7,721.9 1067.6,721.9 1069.4,721.9 1071.3,721.9 1073.1,722 1075,722 1076.8,722 1078.7,722 1080.5,722 1082.3,722 1084.2,722.1 1086,722.1 1087.9,722.1 1089.7,722.1 1091.6,722.1 1093.4,722.1 1095.3,722.2 1097.1,722.2 1099,722.2 1100.8,722.2 1102.7,722.2 1104.5,722.2 1106.3,722.3 1108.2,722.3 1110,722.3 1111.9,722.3 1113.7,722.3 1115.6,722.3 1117.4,722.3 1119.3,722.3 1121.1,722.4 1123,722.4 1124.8,722.4 1126.6,722.4 1128.5,722.4 1130.3,722.4 1132.2,722.4 1134,722.4 1135.9,722.4 1137.7,722.4 1139.6,722.4 1141.4,722.5 1143.3,722.5 1145.1,722.5 1147,722.5 1148.8,722.5 1150.6,722.5 1152.5,722.5 1154.3,722.5 1156.2,722.5 1158,722.5 1159.9,722.5 1161.7,722.5 1163.6,722.5 1165.4,722.5" fill="none" stroke="#ff0000" stroke-width="5.0" stroke-linejoin="round"/>
<circle cx="288.7" cy="325.6" r="8.1" fill="#ff0000"/>
<circle cx="334.8" cy="201.7" r="8.1" fill="#ff0000"/>
<circle cx="380.9" cy="193.3" r="8.1" fill="#ff0000"/>
<circle cx="427.1" cy="291.2" r="8.1" fill="#ff0000"/>
<circle cx="473.2" cy="338.2" r="8.1" fill="#ff0000"/>
<circle cx="519.4" cy="355.7" r="8.1" fill="#ff0000"/>
<circle cx="565.5" cy="337.4" r="8.1" fill="#ff0000"/>
<circle cx="611.7" cy="320.5" r="8.1" fill="#ff0000"/>
<circle cx="657.8" cy="338.7" r="8.1" fill="#ff0000"/>
<circle cx="704" cy="403.1" r="8.1" fill="#ff0000"/>
<circle cx="750.1" cy="517.2" r="8.1" fill="#ff0000"/>
<circle cx="796.2" cy="622.4" r="8.1" fill="#ff0000"/>
<circle cx="842.4" cy="682.2" r="8.1" fill="#ff0000"/>
<circle cx="888.5" cy="707.1" r="8.1" fill="#ff0000"/>
<circle cx="934.7" cy="714.6" r="8.1" fill="#ff0000"/>
<circle cx="980.8" cy="719.2" r="8.1" fill="#ff0000"/>
<circle cx="1027" cy="720.9" r="8.1" fill="#ff0000"/>
<circle cx="1073.1" cy="722" r="8.1" fill="#ff0000"/>
<circle cx="1119.3" cy="722.3" r="8.1" fill="#ff0000"/>
<circle cx="1165.4" cy="722.5" r="8.1" fill="#ff0000"/>
<path d="M279.4,341.5 281.3,339.4 283.1,337.1 285,334.4 286.8,331.5 288.7,328.4 290.5,324.8 292.3,320.8 294.2,316.3 296,311.6 297.9,306.5 299.7,301.3 301.6,295.9 303.4,290.5 305.3,285.1 307.1,279.8 309,274.1 310.8,267.9 312.7,261.3 314.5,254.4 316.3,247.6 318.2,240.9 320,234.6 321.9,228.8 323.7,223.7 325.6,219.6 327.4,216.5 329.3,214.3 331.1,212.8 333,211.2 334.8,209.4 336.6,206.7 338.5,203.5 340.3,200.1 342.2,196.8 344,194.1 345.9,191.7 347.7,189.2 349.6,186.7 351.4,184.3 353.3,182.1 355.1,180.1 356.9,178.5 358.8,177.4 360.6,176.7 362.5,176.7 364.3,177.2 366.2,178.1 368,179.4 369.9,180.7 371.7,182.1 373.6,183.4 375.4,184.8 377.3,186.5 379.1,188.3 380.9,190.2 382.8,192.5 384.6,195.2 386.5,198.2 388.3,201.3 390.2,204.6 392,208.1 393.9,211.5 395.7,215 397.6,218.7 399.4,222.6 401.2,226.6 403.1,230.7 404.9,234.7 406.8,238.6 408.6,242.4 410.5,246 412.3,249.6 414.2,253.1 416,256.6 417.9,260.1 419.7,263.4 421.6,266.7 423.4,269.9 425.2,273.2 427.1,276.4 428.9,279.4 430.8,282 432.6,284.4 434.5,286.8 436.3,289 438.2,291.2 440,293 441.9,294.5 443.7,295.5 445.5,296.1 447.4,296.7 449.2,297.2 451.1,297.7 452.9,298.1 454.8,298.4 456.6,298.7 458.5,298.8 460.3,298.9 462.2,298.9 464,298.8 465.9,298.8 467.7,298.7 469.5,298.6 471.4,298.5 473.2,298.3 475.1,298.2 476.9,297.9 478.8,297.5 480.6,297 482.5,296.5 484.3,295.9 486.2,295.3 488,294.7 489.8,294 491.7,293.2 493.5,292.2 495.4,291 497.2,289.7 499.1,288.3 500.9,286.7 502.8,285.1 504.6,283.4 506.5,281.7 508.3,280 510.2,278.3 512,276.6 513.8,274.9 515.7,273.3 517.5,271.9 519.4,270.5 521.2,269.2 523.1,267.9 524.9,266.6 526.8,265.3 528.6,264 530.5,262.7 532.3,261.5 534.1,260.3 536,259.1 537.8,257.9 539.7,256.8 541.5,255.8 543.4,254.8 545.2,253.9 547.1,253 548.9,252.2 550.8,251.3 552.6,250.4 554.5,249.5 556.3,248.7 558.1,248 560,247.4 561.8,246.9 563.7,246.6 565.5,246.5 567.4,246.7 569.2,247.2 571.1,247.9 572.9,248.8 574.8,249.8 576.6,250.8 578.4,252.1 580.3,253.5 582.1,255.2 584,256.9 585.8,258.8 587.7,260.7 589.5,262.6 591.4,264.6 593.2,266.8 595.1,269 596.9,271.4 598.7,273.9 600.6,276.3 602.4,278.8 604.3,281.2 606.1,283.6 608,286 609.8,288.6 611.7,291.4 613.5,294.6 615.4,298.1 617.2,302 619.1,306 620.9,310.1 622.7,314.3 624.6,318.5 626.4,322.9 628.3,327.5 630.1,332.3 632,337 633.8,341.6 635.7,345.8 637.5,349.7 639.4,353.5 641.2,357 643,360.5 644.9,364.1 646.7,367.7 648.6,371.2 650.4,374.7 652.3,378.2 654.1,381.8 656,385.6 657.8,389.7 659.7,394.3 661.5,399.3 663.4,404.6 665.2,410.1 667,415.5 668.9,420.7 670.7,425.7 672.6,430.5 674.4,435.3 676.3,440 678.1,444.8 680,449.6 681.8,454.3 683.7,458.9 685.5,463.5 687.3,468.2 689.2,473 691,478.1 692.9,483.4 694.7,489.2 696.6,495.5 698.4,502 700.3,508.7 702.1,515.3 704,521.6 705.8,527.8 707.7,534 709.5,540.1 711.3,546.1 713.2,552.1 715,557.9 716.9,563.6 718.7,569.1 720.6,574.5 722.4,579.8 724.3,584.9 726.1,589.9 728,594.6 729.8,599.2 731.6,603.4 733.5,607.5 735.3,611.5 737.2,615.4 739,619.4 740.9,623.6 742.7,628 744.6,632.4 746.4,636.8 748.3,641 750.1,644.8 752,648.5 753.8,652.1 755.6,655.7 757.5,659.1 759.3,662.5 761.2,665.7 763,668.8 764.9,671.6 766.7,674.2 768.6,676.6 770.4,678.6 772.3,680.5 774.1,682.2 775.9,683.9 777.8,685.5 779.6,687 781.5,688.4 783.3,689.7 785.2,691 787,692.3 788.9,693.5 790.7,694.6 792.6,695.8 794.4,696.9 796.2,698 798.1,699.1 799.9,700.2 801.8,701.3 803.6,702.4 805.5,703.5 807.3,704.6 809.2,705.6 811,706.6 812.9,707.5 814.7,708.4 816.6,709.2 818.4,709.9 820.2,710.5 822.1,711.1 823.9,711.5 825.8,711.9 827.6,712.3 829.5,712.7 831.3,713 833.2,713.3 835,713.6 836.9,713.8 838.7,714.1 840.5,714.3 842.4,714.6 844.2,714.8 846.1,715.1 847.9,715.4 849.8,715.6 851.6,715.9 853.5,716.1 855.3,716.4 857.2,716.6 859,716.9 860.9,717.1 862.7,717.3 864.5,717.6 866.4,717.8 868.2,718 870.1,718.2 871.9,718.4 873.8,718.6 875.6,718.8 877.5,719 879.3,719.1 881.2,719.3 883,719.4 884.8,719.5 886.7,719.7 888.5,719.8 890.4,719.9 892.2,720 894.1,720.1 895.9,720.1 897.8,720.2 899.6,720.3 901.5,720.4 903.3,720.5 905.2,720.6 907,720.6 908.8,720.7 910.7,720.8 912.5,720.8 914.4,720.9 916.2,721 918.1,721 919.9,721.1 921.8,721.1 923.6,721.2 925.5,721.2 927.3,721.3 929.1,721.3 931,721.3 932.8,721.4 934.7,721.4 936.5,721.4 938.4,721.5 940.2,721.5 942.1,721.5 943.9,721.6 945.8,721.6 947.6,721.6 949.5,721.6 951.3,721.6 953.1,721.7 955,721.7 956.8,721.7 958.7,721.7 960.5,721.7 962.4,721.8 964.2,721.8 966.1,721.8 967.9,721.8 969.8,721.8 971.6,721.9 973.4,721.9 975.3,721.9 977.1,721.9 979,721.9 980.8,722 982.7,722 984.5,722 986.4,722 988.2,722.1 990.1,722.1 991.9,722.1 993.8,722.1 995.6,722.2 997.4,722.2 999.3,722.2 1001.1,722.3 1003,722.3 1004.8,722.3 1006.7,722.3 1008.5,722.4 1010.4,722.4 1012.2,722.4 1014.1,722.4 1015.9,722.4 1017.7,722.5 1019.6,722.5 1021.4,722.5 1023.3,722.5 1025.1,722.5 1027,722.5 1028.8,722.5 1030.7,722.5 1032.5,722.5 1034.4,722.5 1036.2,722.5 1038,722.5 1039.9,722.5 1041.7,722.5 1043.6,722.5 1045.4,722.5 1047.3,722.5 1049.1,722.5 1051,722.5 1052.8,722.5 1054.7,722.5 1056.5,722.5 1058.4,722.5 1060.2,722.5 1062,722.5 1063.9,722.5 1065.7,722.5 1067.6,722.5 1069.4,722.5 1071.3,722.5 1073.1,722.5 1075,722.5 1076.8,722.5 1078.7,722.5 1080.5,722.5 1082.3,722.5 1084.2,722.5 1086,722.5 1087.9,722.5 1089.7,722.5 1091.6,722.5 1093.4,722.5 1095.3,722.5 1097.1,722.5 1099,722.5 1100.8,722.5 1102.7,722.5 1104.5,722.5 1106.3,722.5 1108.2,722.5 1110,722.5 1111.9,722.5 1113.7,722.5 1115.6,722.5 1117.4,722.5 1119.3,722.5 1121.1,722.5 1123,722.5 1124.8,722.5 1126.6,722.5 1128.5,722.5 1130.3,722.5 1132.2,722.5 1134,722.5 1135.9,722.5 1137.7,722.5 1139.6,722.5 1141.4,722.5 1143.3,722.5 1145.1,722.5 1147,722.5 1148.8,722.5 1150.6,722.5 1152.5,722.5 1154.3,722.5 1156.2,722.5 1158,722.5 1159.9,722.5 1161.7,722.5 1163.6,722.5 1165.4,722.5" fill="none" stroke="#0000ff" stroke-width="5.0" stroke-linejoin="round"/>
<path d="M288.7,316.4 298.9,334.4 278.5,334.4Z" fill="#0000ff"/>
<path d="M334.8,197.4 345,215.4 324.6,215.4Z" fill="#0000ff"/>
<path d="M380.9,178.2 391.1,196.2 370.7,196.2Z" fill="#0000ff"/>
<path d="M427.1,264.4 437.3,282.4 416.9,282.4Z" fill="#0000ff"/>
<path d="M473.2,286.3 483.4,304.3 463,304.3Z" fill="#0000ff"/>
<path d="M519.4,258.5 529.6,276.5 509.2,276.5Z" fill="#0000ff"/>
<path d="M565.5,234.5 575.7,252.5 555.3,252.5Z" fill="#0000ff"/>
<path d="M611.7,279.4 621.9,297.4 601.5,297.4Z" fill="#0000ff"/>
<path d="M657.8,377.7 668,395.7 647.6,395.7Z" fill="#0000ff"/>
<path d="M704,509.6 714.2,527.6 693.8,527.6Z" fill="#0000ff"/>
<path d="M750.1,632.8 760.3,650.8 739.9,650.8Z" fill="#0000ff"/>
<path d="M796.2,686 806.5,704 786,704Z" fill="#0000ff"/>
<path d="M842.4,702.6 852.6,720.6 832.2,720.6Z" fill="#0000ff"/>
<path d="M888.5,707.8 898.7,725.8 878.3,725.8Z" fill="#0000ff"/>
<path d="M934.7,709.4 944.9,727.4 924.5,727.4Z" fill="#0000ff"/>
<path d="M980.8,710 991,728 970.6,728Z" fill="#0000ff"/>
<path d="M1027,710.5 1037.2,728.5 1016.8,728.5Z" fill="#0000ff"/>
<path d="M1073.1,710.5 1083.3,728.5 1062.9,728.5Z" fill="#0000ff"/>
<path d="M1119.3,710.5 1129.5,728.5 1109.1,728.5Z" fill="#0000ff"/>
<path d="M1165.4,710.5 1175.6,728.5 1155.2,728.5Z" fill="#0000ff"/>
<path d="M279.4,326.7 281.3,326.6 283.1,326.2 285,325.6 286.8,324.8 288.7,324 290.5,322.7 292.3,320.7 294.2,318.4 296,315.3 297.9,311.7 299.7,307.5 301.6,302.9 303.4,298.1 305.3,293.2 307.1,288.3 309,283.5 310.8,279 312.7,274.3 314.5,269.4 316.3,264.5 318.2,259.4 320,254.5 321.9,249.7 323.7,245.2 325.6,241 327.4,237.2 329.3,234 331.1,231.1 333,228.3 334.8,225.2 336.6,221.6 338.5,217.8 340.3,213.8 342.2,209.7 344,205.6 345.9,201.5 347.7,197 349.6,192.6 351.4,188.7 353.3,185.9 355.1,183.7 356.9,181.7 358.8,179.9 360.6,178.4 362.5,177.3 364.3,176.7 366.2,176.7 368,177.7 369.9,179.3 371.7,181.3 373.6,183.3 375.4,185 377.3,186.6 379.1,188.3 380.9,190.2 382.8,192.9 384.6,196.1 386.5,199.7 388.3,203.3 390.2,206.6 392,209.8 393.9,212.8 395.7,215.9 397.6,218.9 399.4,221.9 401.2,224.8 403.1,227.8 404.9,230.9 406.8,234 408.6,237.1 410.5,240.1 412.3,242.7 414.2,244.9 416,246.5 417.9,247.9 419.7,249 421.6,250 423.4,251.1 425.2,252.2 427.1,253.6 428.9,255.4 430.8,257.6 432.6,259.9 434.5,262.2 436.3,264.1 438.2,265.4 440,266.5 441.9,267.6 443.7,268.6 445.5,269.5 447.4,270.1 449.2,270.4 451.1,270.5 452.9,270.5 454.8,270.4 456.6,270.4 458.5,270.3 460.3,270.2 462.2,270.2 464,270.1 465.9,269.9 467.7,269.8 469.5,269.7 471.4,269.5 473.2,269.4 475.1,269.2 476.9,269 478.8,268.6 480.6,268.3 482.5,267.8 484.3,267.4 486.2,266.9 488,266.3 489.8,265.8 491.7,265.3 493.5,264.7 495.4,264.2 497.2,263.7 499.1,263.2 500.9,262.6 502.8,262.1 504.6,261.5 506.5,260.9 508.3,260.3 510.2,259.7 512,259.1 513.8,258.4 515.7,257.7 517.5,257 519.4,256.3 521.2,255.5 523.1,254.7 524.9,253.8 526.8,252.9 528.6,251.9 530.5,250.9 532.3,249.9 534.1,248.9 536,247.9 537.8,246.9 539.7,245.8 541.5,244.8 543.4,243.8 545.2,242.7 547.1,241.6 548.9,240.4 550.8,239.2 552.6,238 554.5,236.9 556.3,235.8 558.1,234.7 560,233.7 561.8,232.9 563.7,232.1 565.5,231.4 567.4,230.8 569.2,230.2 571.1,229.6 572.9,229.1 574.8,228.6 576.6,228.1 578.4,227.8 580.3,227.5 582.1,227.4 584,227.4 585.8,227.6 587.7,227.9 589.5,228.4 591.4,228.9 593.2,229.5 595.1,230.1 596.9,230.8 598.7,231.6 600.6,232.5 602.4,233.5 604.3,234.6 606.1,235.8 608,237.1 609.8,238.5 611.7,239.9 613.5,241.5 615.4,243.3 617.2,245.4 619.1,247.5 620.9,249.8 622.7,252.1 624.6,254.4 626.4,256.7 628.3,259.1 630.1,261.5 632,264 633.8,266.6 635.7,269.2 637.5,271.9 639.4,274.7 641.2,277.6 643,280.5 644.9,283.7 646.7,287 648.6,290.3 650.4,293.8 652.3,297.3 654.1,300.8 656,304.2 657.8,307.6 659.7,310.9 661.5,314.2 663.4,317.4 665.2,320.7 667,324 668.9,327.5 670.7,331.1 672.6,334.9 674.4,339 676.3,343.1 678.1,347.2 680,351.2 681.8,355.2 683.7,358.9 685.5,362.5 687.3,366.1 689.2,369.7 691,373.4 692.9,377.2 694.7,381.3 696.6,385.6 698.4,390.1 700.3,394.5 702.1,398.9 704,403 705.8,406.8 707.7,410.4 709.5,413.9 711.3,417.4 713.2,421.1 715,425 716.9,429.2 718.7,433.5 720.6,437.9 722.4,442.5 724.3,447.2 726.1,451.9 728,456.6 729.8,461.5 731.6,466.4 733.5,471.4 735.3,476.4 737.2,481.5 739,486.6 740.9,491.7 742.7,496.9 744.6,502 746.4,507.1 748.3,512.2 750.1,517.2 752,522.3 753.8,527.3 755.6,532.2 757.5,537.2 759.3,542.2 761.2,547.2 763,552.2 764.9,557.3 766.7,562.5 768.6,567.8 770.4,573 772.3,577.8 774.1,582.1 775.9,586.1 777.8,589.8 779.6,593.3 781.5,596.8 783.3,600.4 785.2,604.1 787,607.8 788.9,611.6 790.7,615.4 792.6,619.1 794.4,622.8 796.2,626.4 798.1,630 799.9,633.6 801.8,637.2 803.6,640.8 805.5,644.4 807.3,647.8 809.2,651.2 811,654.3 812.9,657.3 814.7,660.1 816.6,662.6 818.4,665 820.2,667.4 822.1,669.7 823.9,671.9 825.8,674 827.6,676.1 829.5,678.1 831.3,680 833.2,681.9 835,683.6 836.9,685.3 838.7,686.8 840.5,688.3 842.4,689.7 844.2,691.1 846.1,692.4 847.9,693.6 849.8,694.7 851.6,695.9 853.5,696.9 855.3,698 857.2,699 859,699.9 860.9,700.8 862.7,701.7 864.5,702.6 866.4,703.4 868.2,704.2 870.1,705 871.9,705.8 873.8,706.6 875.6,707.3 877.5,708 879.3,708.7 881.2,709.3 883,709.9 884.8,710.4 886.7,710.9 888.5,711.3 890.4,711.7 892.2,712 894.1,712.3 895.9,712.6 897.8,712.9 899.6,713.2 901.5,713.5 903.3,713.7 905.2,714 907,714.2 908.8,714.5 910.7,714.7 912.5,714.9 914.4,715.1 916.2,715.3 918.1,715.5 919.9,715.7 921.8,715.8 923.6,716 925.5,716.2 927.3,716.4 929.1,716.5 931,716.7 932.8,716.9 934.7,717 936.5,717.2 938.4,717.4 940.2,717.5 942.1,717.7 943.9,717.9 945.8,718 947.6,718.2 949.5,718.4 951.3,718.5 953.1,718.7 955,718.8 956.8,719 958.7,719.1 960.5,719.2 962.4,719.4 964.2,719.5 966.1,719.6 967.9,719.7 969.8,719.8 971.6,719.9 973.4,720 975.3,720.1 977.1,720.2 979,720.3 980.8,720.3 982.7,720.4 984.5,720.4 986.4,720.5 988.2,720.5 990.1,720.6 991.9,720.6 993.8,720.7 995.6,720.7 997.4,720.8 999.3,720.8 1001.1,720.9 1003,720.9 1004.8,720.9 1006.7,721 1008.5,721 1010.4,721.1 1012.2,721.1 1014.1,721.1 1015.9,721.2 1017.7,721.2 1019.6,721.3 1021.4,721.3 1023.3,721.3 1025.1,721.4 1027,721.4 1028.8,721.4 1030.7,721.4 1032.5,721.5 1034.4,721.5 1036.2,721.5 1038,721.6 1039.9,721.6 1041.7,721.6 1043.6,721.6 1045.4,721.7 1047.3,721.7 1049.1,721.7 1051,721.7 1052.8,721.7 1054.7,721.8 1056.5,721.8 1058.4,721.8 1060.2,721.8 1062,721.8 1063.9,721.9 1065.7,721.9 1067.6,721.9 1069.4,721.9 1071.3,721.9 1073.1,722 1075,722 1076.8,722 1078.7,722 1080.5,722 1082.3,722 1084.2,722.1 1086,722.1 1087.9,722.1 1089.7,722.1 1091.6,722.1 1093.4,722.1 1095.3,722.1 1097.1,722.2 1099,722.2 1100.8,722.2 1102.7,722.2 1104.5,722.2 1106.3,722.2 1108.2,722.3 1110,722.3 1111.9,722.3 1113.7,722.3 1115.6,722.3 1117.4,722.3 1119.3,722.3 1121.1,722.3 1123,722.4 1124.8,722.4 1126.6,722.4 1128.5,722.4 1130.3,722.4 1132.2,722.4 1134,722.4 1135.9,722.4 1137.7,722.4 1139.6,722.4 1141.4,722.4 1143.3,722.5 1145.1,722.5 1147,722.5 1148.8,722.5 1150.6,722.5 1152.5,722.5 1154.3,722.5 1156.2,722.5 1158,722.5 1159.9,722.5 1161.7,722.5 1163.6,722.5 1165.4,722.5" fill="none" stroke="#008000" stroke-width="5.0" stroke-linejoin="round"/>
<path d="M288.7,314.4 291.1,320.6 297.8,321 292.7,325.3 294.3,331.8 288.7,328.2 283,331.8 284.6,325.3 279.5,321 286.2,320.6Z" fill="#008000"/>
<path d="M334.8,215.6 337.3,221.8 343.9,222.2 338.8,226.5 340.4,233 334.8,229.4 329.2,233 330.8,226.5 325.7,222.2 332.3,221.8Z" fill="#008000"/>
<path d="M380.9,180.6 383.4,186.8 390.1,187.3 385,191.6 386.6,198 380.9,194.5 375.3,198 376.9,191.6 371.8,187.3 378.5,186.8Z" fill="#008000"/>
<path d="M427.1,244 429.6,250.2 436.2,250.6 431.1,254.9 432.7,261.3 427.1,257.8 421.4,261.3 423.1,254.9 418,250.6 424.6,250.2Z" fill="#008000"/>
<path d="M473.2,259.8 475.7,266 482.4,266.4 477.3,270.7 478.9,277.2 473.2,273.6 467.6,277.2 469.2,270.7 464.1,266.4 470.8,266Z" fill="#008000"/>
<path d="M519.4,246.7 521.9,252.9 528.5,253.3 523.4,257.6 525,264.1 519.4,260.5 513.7,264.1 515.4,257.6 510.2,253.3 516.9,252.9Z" fill="#008000"/>
<path d="M565.5,221.8 568,228 574.7,228.4 569.5,232.7 571.2,239.2 565.5,235.6 559.9,239.2 561.5,232.7 556.4,228.4 563,228Z" fill="#008000"/>
<path d="M611.7,230.3 614.2,236.5 620.8,237 615.7,241.2 617.3,247.7 611.7,244.1 606,247.7 607.7,241.2 602.5,237 609.2,236.5Z" fill="#008000"/>
<path d="M657.8,298 660.3,304.2 666.9,304.6 661.8,308.9 663.5,315.4 657.8,311.8 652.2,315.4 653.8,308.9 648.7,304.6 655.3,304.2Z" fill="#008000"/>
<path d="M704,393.4 706.4,399.6 713.1,400 708,404.3 709.6,410.8 704,407.2 698.3,410.8 699.9,404.3 694.8,400 701.5,399.6Z" fill="#008000"/>
<path d="M750.1,507.6 752.6,513.8 759.2,514.3 754.1,518.5 755.7,525 750.1,521.5 744.5,525 746.1,518.5 741,514.3 747.6,513.8Z" fill="#008000"/>
<path d="M796.2,616.8 798.7,623 805.4,623.5 800.3,627.7 801.9,634.2 796.2,630.6 790.6,634.2 792.2,627.7 787.1,623.5 793.8,623Z" fill="#008000"/>
<path d="M842.4,680.1 844.9,686.3 851.5,686.8 846.4,691.1 848,697.5 842.4,694 836.8,697.5 838.4,691.1 833.3,686.8 839.9,686.3Z" fill="#008000"/>
<path d="M888.5,701.7 891,707.9 897.7,708.3 892.6,712.6 894.2,719.1 888.5,715.5 882.9,719.1 884.5,712.6 879.4,708.3 886.1,707.9Z" fill="#008000"/>
<path d="M934.7,707.4 937.2,713.6 943.8,714.1 938.7,718.3 940.3,724.8 934.7,721.3 929,724.8 930.7,718.3 925.6,714.1 932.2,713.6Z" fill="#008000"/>
<path d="M980.8,710.7 983.3,716.9 990,717.3 984.8,721.6 986.5,728.1 980.8,724.5 975.2,728.1 976.8,721.6 971.7,717.3 978.3,716.9Z" fill="#008000"/>
<path d="M1027,711.8 1029.5,718 1036.1,718.4 1031,722.7 1032.6,729.2 1027,725.6 1021.3,729.2 1023,722.7 1017.8,718.4 1024.5,718Z" fill="#008000"/>
<path d="M1073.1,712.4 1075.6,718.5 1082.3,719 1077.1,723.3 1078.8,729.7 1073.1,726.2 1067.5,729.7 1069.1,723.3 1064,719 1070.6,718.5Z" fill="#008000"/>
<path d="M1119.3,712.7 1121.7,718.9 1128.4,719.4 1123.3,723.6 1124.9,730.1 1119.3,726.6 1113.6,730.1 1115.2,723.6 1110.1,719.4 1116.8,718.9Z" fill="#008000"/>
<path d="M1165.4,712.9 1167.9,719.1 1174.5,719.5 1169.4,723.8 1171.1,730.3 1165.4,726.7 1159.8,730.3 1161.4,723.8 1156.3,719.5 1162.9,719.1Z" fill="#008000"/>
<path d="M279.4,442.5 281.3,440.3 283.1,437.6 285,434.5 286.8,431 288.7,427.2 290.5,422.7 292.3,417.3 294.2,411.1 296,404.4 297.9,397.1 299.7,389.4 301.6,381.5 303.4,373.4 305.3,365.3 307.1,357.3 309,349.6 310.8,342.2 312.7,335.2 314.5,328.8 316.3,322.6 318.2,316.6 320,310.8 321.9,305 323.7,299.3 325.6,293.5 327.4,287.8 329.3,281.9 331.1,275.9 333,269.8 334.8,263.4 336.6,256.6 338.5,249.4 340.3,242 342.2,235 344,228.5 345.9,222.3 347.7,216.3 349.6,210.7 351.4,205.5 353.3,201.2 355.1,197.4 356.9,193.8 358.8,190.7 360.6,188 362.5,185.9 364.3,184.1 366.2,182.6 368,181.2 369.9,180.1 371.7,179.3 373.6,178.7 375.4,178.1 377.3,177.6 379.1,177.3 380.9,177.1 382.8,177.7 384.6,179.2 386.5,181.5 388.3,184.3 390.2,187.4 392,190.6 393.9,193.8 395.7,196.9 397.6,200.2 399.4,203.9 401.2,207.9 403.1,212.4 404.9,217.3 406.8,223.1 408.6,230.3 410.5,238.1 412.3,246 414.2,253 416,259.8 417.9,266.4 419.7,272.8 421.6,279.2 423.4,285.4 425.2,291.5 427.1,297.8 428.9,304.5 430.8,311.6 432.6,318.8 434.5,325.7 436.3,332.2 438.2,338.2 440,343.9 441.9,349.4 443.7,354.8 445.5,360.1 447.4,365.4 449.2,370.8 451.1,376.2 452.9,381.3 454.8,386 456.6,390 458.5,393.4 460.3,396.2 462.2,399 464,401.9 465.9,404.8 467.7,407.7 469.5,410.6 471.4,413.4 473.2,416.3 475.1,419.1 476.9,422 478.8,424.9 480.6,427.7 482.5,430.5 484.3,433.3 486.2,435.9 488,438.4 489.8,440.9 491.7,443.2 493.5,445.6 495.4,447.9 497.2,450.3 499.1,452.7 500.9,455.2 502.8,457.7 504.6,460.2 506.5,462.7 508.3,465.2 510.2,467.7 512,470.3 513.8,472.8 515.7,475.4 517.5,478 519.4,480.7 521.2,483.3 523.1,486 524.9,488.6 526.8,491.3 528.6,493.9 530.5,496.6 532.3,499.4 534.1,502.1 536,505 537.8,507.8 539.7,510.7 541.5,513.7 543.4,516.8 545.2,519.9 547.1,523.1 548.9,526.4 550.8,529.8 552.6,533.2 554.5,536.7 556.3,540.3 558.1,543.8 560,547.4 561.8,551.2 563.7,555 565.5,558.8 567.4,562.5 569.2,566.2 571.1,569.9 572.9,573.5 574.8,577.2 576.6,580.7 578.4,584.2 580.3,587.7 582.1,591 584,594.2 585.8,597.3 587.7,600.3 589.5,603.3 591.4,606.3 593.2,609.4 595.1,612.4 596.9,615.6 598.7,618.9 600.6,622.2 602.4,625.6 604.3,629 606.1,632.4 608,635.8 609.8,639.1 611.7,642.3 613.5,645.5 615.4,648.7 617.2,652 619.1,655.2 620.9,658.4 622.7,661.4 624.6,664.4 626.4,667.1 628.3,669.6 630.1,671.8 632,673.9 633.8,675.8 635.7,677.7 637.5,679.4 639.4,681.1 641.2,682.7 643,684.2 644.9,685.7 646.7,687.2 648.6,688.7 650.4,690.1 652.3,691.6 654.1,693.1 656,694.7 657.8,696.3 659.7,698 661.5,699.7 663.4,701.4 665.2,703.1 667,704.5 668.9,705.8 670.7,707 672.6,708.1 674.4,709.2 676.3,710.2 678.1,711 680,711.8 681.8,712.5 683.7,713.2 685.5,713.8 687.3,714.4 689.2,714.9 691,715.4 692.9,715.8 694.7,716.2 696.6,716.6 698.4,717 700.3,717.3 702.1,717.6 704,717.9 705.8,718.2 707.7,718.5 709.5,718.8 711.3,719.1 713.2,719.3 715,719.6 716.9,719.8 718.7,720 720.6,720.2 722.4,720.3 724.3,720.4 726.1,720.5 728,720.6 729.8,720.7 731.6,720.8 733.5,720.9 735.3,721 737.2,721 739,721.1 740.9,721.2 742.7,721.2 744.6,721.3 746.4,721.3 748.3,721.4 750.1,721.4 752,721.5 753.8,721.5 755.6,721.5 757.5,721.6 759.3,721.6 761.2,721.7 763,721.7 764.9,721.8 766.7,721.8 768.6,721.8 770.4,721.9 772.3,721.9 774.1,721.9 775.9,722 777.8,722 779.6,722 781.5,722 783.3,722.1 785.2,722.1 787,722.1 788.9,722.1 790.7,722.2 792.6,722.2 794.4,722.2 796.2,722.2 798.1,722.2 799.9,722.3 801.8,722.3 803.6,722.3 805.5,722.3 807.3,722.3 809.2,722.3 811,722.4 812.9,722.4 814.7,722.4 816.6,722.4 818.4,722.4 820.2,722.4 822.1,722.4 823.9,722.4 825.8,722.5 827.6,722.5 829.5,722.5 831.3,722.5 833.2,722.5 835,722.5 836.9,722.5 838.7,722.5 840.5,722.5 842.4,722.5 844.2,722.5 846.1,722.5 847.9,722.5 849.8,722.5 851.6,722.5 853.5,722.5 855.3,722.5 857.2,722.5 859,722.5 860.9,722.5 862.7,722.5 864.5,722.5 866.4,722.5 868.2,722.5 870.1,722.5 871.9,722.5 873.8,722.5 875.6,722.5 877.5,722.5 879.3,722.5 881.2,722.5 883,722.5 884.8,722.5 886.7,722.5 888.5,722.5 890.4,722.5 892.2,722.5 894.1,722.5 895.9,722.5 897.8,722.5 899.6,722.5 901.5,722.5 903.3,722.5 905.2,722.5 907,722.5 908.8,722.5 910.7,722.5 912.5,722.5 914.4,722.5 916.2,722.5 918.1,722.5 919.9,722.5 921.8,722.5 923.6,722.5 925.5,722.5 927.3,722.5 929.1,722.5 931,722.5 932.8,722.5 934.7,722.5 936.5,722.5 938.4,722.5 940.2,722.5 942.1,722.5 943.9,722.5 945.8,722.5 947.6,722.5 949.5,722.5 951.3,722.5 953.1,722.5 955,722.5 956.8,722.5 958.7,722.5 960.5,722.5 962.4,722.5 964.2,722.5 966.1,722.5 967.9,722.5 969.8,722.5 971.6,722.5 973.4,722.5 975.3,722.5 977.1,722.5 979,722.5 980.8,722.5 982.7,722.5 984.5,722.5 986.4,722.5 988.2,722.5 990.1,722.5 991.9,722.5 993.8,722.5 995.6,722.5 997.4,722.5 999.3,722.5 1001.1,722.5 1003,722.5 1004.8,722.5 1006.7,722.5 1008.5,722.5 1010.4,722.5 1012.2,722.5 1014.1,722.5 1015.9,722.5 1017.7,722.5 1019.6,722.5 1021.4,722.5 1023.3,722.5 1025.1,722.5 1027,722.5 1028.8,722.5 1030.7,722.5 1032.5,722.5 1034.4,722.5 1036.2,722.5 1038,722.5 1039.9,722.5 1041.7,722.5 1043.6,722.5 1045.4,722.5 1047.3,722.5 1049.1,722.5 1051,722.5 1052.8,722.5 1054.7,722.5 1056.5,722.5 1058.4,722.5 1060.2,722.5 1062,722.5 1063.9,722.5 1065.7,722.5 1067.6,722.5 1069.4,722.5 1071.3,722.5 1073.1,722.5 1075,722.5 1076.8,722.5 1078.7,722.5 1080.5,722.5 1082.3,722.5 1084.2,722.5 1086,722.5 1087.9,722.5 1089.7,722.5 1091.6,722.5 1093.4,722.5 1095.3,722.5 1097.1,722.5 1099,722.5 1100.8,722.5 1102.7,722.5 1104.5,722.5 1106.3,722.5 1108.2,722.5 1110,722.5 1111.9,722.5 1113.7,722.5 1115.6,722.5 1117.4,722.5 1119.3,722.5 1121.1,722.5 1123,722.5 1124.8,722.5 1126.6,722.5 1128.5,722.5 1130.3,722.5 1132.2,722.5 1134,722.5 1135.9,722.5 1137.7,722.5 1139.6,722.5 1141.4,722.5 1143.3,722.5 1145.1,722.5 1147,722.5 1148.8,722.5 1150.6,722.5 1152.5,722.5 1154.3,722.5 1156.2,722.5 1158,722.5 1159.9,722.5 1161.7,722.5 1163.6,722.5 1165.4,722.5" fill="none" stroke="#000000" stroke-width="5.0" stroke-linejoin="round"/>
<path d="M288.7,417.3 298.6,427.2 288.7,437.1 278.8,427.2Z" fill="#fff" stroke="#000000" stroke-width="1.6" stroke-linejoin="miter"/>
<path d="M334.8,253.5 344.7,263.4 334.8,273.3 324.9,263.4Z" fill="#fff" stroke="#000000" stroke-width="1.6" stroke-linejoin="miter"/>
<path d="M380.9,167.2 390.8,177.1 380.9,187 371,177.1Z" fill="#fff" stroke="#000000" stroke-width="1.6" stroke-linejoin="miter"/>
<path d="M427.1,287.9 437,297.8 427.1,307.7 417.2,297.8Z" fill="#fff" stroke="#000000" stroke-width="1.6" stroke-linejoin="miter"/>
<path d="M473.2,406.4 483.1,416.3 473.2,426.2 463.3,416.3Z" fill="#fff" stroke="#000000" stroke-width="1.6" stroke-linejoin="miter"/>
<path d="M519.4,470.8 529.3,480.7 519.4,490.6 509.5,480.7Z" fill="#fff" stroke="#000000" stroke-width="1.6" stroke-linejoin="miter"/>
<path d="M565.5,548.9 575.4,558.8 565.5,568.7 555.6,558.8Z" fill="#fff" stroke="#000000" stroke-width="1.6" stroke-linejoin="miter"/>
<path d="M611.7,632.4 621.6,642.3 611.7,652.2 601.8,642.3Z" fill="#fff" stroke="#000000" stroke-width="1.6" stroke-linejoin="miter"/>
<path d="M657.8,686.4 667.7,696.3 657.8,706.2 647.9,696.3Z" fill="#fff" stroke="#000000" stroke-width="1.6" stroke-linejoin="miter"/>
<path d="M704,708 713.9,717.9 704,727.8 694.1,717.9Z" fill="#fff" stroke="#000000" stroke-width="1.6" stroke-linejoin="miter"/>
<path d="M750.1,711.5 760,721.4 750.1,731.3 740.2,721.4Z" fill="#fff" stroke="#000000" stroke-width="1.6" stroke-linejoin="miter"/>
<path d="M796.2,712.3 806.1,722.2 796.2,732.1 786.4,722.2Z" fill="#fff" stroke="#000000" stroke-width="1.6" stroke-linejoin="miter"/>
<path d="M842.4,712.6 852.3,722.5 842.4,732.4 832.5,722.5Z" fill="#fff" stroke="#000000" stroke-width="1.6" stroke-linejoin="miter"/>
<path d="M888.5,712.6 898.4,722.5 888.5,732.4 878.6,722.5Z" fill="#fff" stroke="#000000" stroke-width="1.6" stroke-linejoin="miter"/>
<path d="M934.7,712.6 944.6,722.5 934.7,732.4 924.8,722.5Z" fill="#fff" stroke="#000000" stroke-width="1.6" stroke-linejoin="miter"/>
<path d="M980.8,712.6 990.7,722.5 980.8,732.4 970.9,722.5Z" fill="#fff" stroke="#000000" stroke-width="1.6" stroke-linejoin="miter"/>
<path d="M1027,712.6 1036.9,722.5 1027,732.4 1017.1,722.5Z" fill="#fff" stroke="#000000" stroke-width="1.6" stroke-linejoin="miter"/>
<path d="M1073.1,712.6 1083,722.5 1073.1,732.4 1063.2,722.5Z" fill="#fff" stroke="#000000" stroke-width="1.6" stroke-linejoin="miter"/>
<path d="M1119.3,712.6 1129.2,722.5 1119.3,732.4 1109.4,722.5Z" fill="#fff" stroke="#000000" stroke-width="1.6" stroke-linejoin="miter"/>
<path d="M1165.4,712.6 1175.3,722.5 1165.4,732.4 1155.5,722.5Z" fill="#fff" stroke="#000000" stroke-width="1.6" stroke-linejoin="miter"/>
<path d="M279.4,346.4 281.3,344.7 283.1,343 285,341.1 286.8,339.2 288.7,337.1 290.5,335 292.3,332.7 294.2,330.4 296,328 297.9,325.4 299.7,322.6 301.6,319.6 303.4,316.3 305.3,312.6 307.1,308.6 309,304.3 310.8,299.9 312.7,295.4 314.5,290.9 316.3,286.4 318.2,282 320,277.7 321.9,273.1 323.7,268.3 325.6,263.5 327.4,258.7 329.3,254.3 331.1,250.3 333,246.9 334.8,244.3 336.6,242.3 338.5,240.6 340.3,239.1 342.2,237.8 344,236.6 345.9,235.4 347.7,234.2 349.6,233.2 351.4,232.8 353.3,233 355.1,233.4 356.9,233.9 358.8,234.8 360.6,236.2 362.5,237.7 364.3,239.3 366.2,240.7 368,242 369.9,243.3 371.7,244.7 373.6,246.5 375.4,249 377.3,252.2 379.1,255.6 380.9,258.5 382.8,260.8 384.6,263 386.5,265 388.3,267 390.2,268.9 392,270.8 393.9,272.8 395.7,274.9 397.6,277.3 399.4,279.6 401.2,281.9 403.1,284 404.9,285.9 406.8,287.3 408.6,288.5 410.5,289.6 412.3,290.6 414.2,291.5 416,292.1 417.9,292.3 419.7,292.2 421.6,291.7 423.4,291 425.2,290.1 427.1,289.1 428.9,287.5 430.8,285.2 432.6,282.3 434.5,278.9 436.3,275.4 438.2,271.8 440,268.3 441.9,264.5 443.7,260.3 445.5,256 447.4,251.6 449.2,247.2 451.1,243 452.9,239.2 454.8,235.7 456.6,232.5 458.5,229.4 460.3,226.4 462.2,223.6 464,220.7 465.9,217.8 467.7,214.9 469.5,212 471.4,209.1 473.2,206.1 475.1,202.6 476.9,198.9 478.8,195.4 480.6,192.4 482.5,189.7 484.3,187.1 486.2,184.8 488,182.8 489.8,181.5 491.7,180.6 493.5,179.7 495.4,178.8 497.2,178.1 499.1,177.5 500.9,177 502.8,176.7 504.6,176.6 506.5,176.8 508.3,177.4 510.2,178.3 512,179.6 513.8,181.1 515.7,182.7 517.5,184.3 519.4,185.9 521.2,187.5 523.1,189.1 524.9,190.9 526.8,193 528.6,195.2 530.5,197.7 532.3,200.5 534.1,203.8 536,208.1 537.8,213.3 539.7,219.2 541.5,225.5 543.4,232 545.2,238.4 547.1,245.2 548.9,252.4 550.8,260 552.6,267.5 554.5,275.1 556.3,283 558.1,290.7 560,297.8 561.8,303.9 563.7,309.5 565.5,315.8 567.4,323.6 569.2,332.2 571.1,341 572.9,350.2 574.8,359.4 576.6,368.3 578.4,377.1 580.3,385.8 582.1,394.2 584,402.4 585.8,410.4 587.7,418.4 589.5,426.5 591.4,434.6 593.2,443.1 595.1,451.9 596.9,460.9 598.7,470 600.6,479 602.4,487.9 604.3,496.7 606.1,505.7 608,514.5 609.8,522.9 611.7,530.3 613.5,536.9 615.4,542.8 617.2,548.4 619.1,553.8 620.9,559.3 622.7,565.1 624.6,571.6 626.4,578.5 628.3,585.2 630.1,591.1 632,596.4 633.8,601.3 635.7,605.9 637.5,610.4 639.4,614.7 641.2,618.9 643,623.1 644.9,627.4 646.7,631.7 648.6,636 650.4,640.2 652.3,644.2 654.1,648 656,651.6 657.8,654.8 659.7,657.9 661.5,660.8 663.4,663.7 665.2,666.4 667,669 668.9,671.5 670.7,673.8 672.6,676 674.4,677.9 676.3,679.7 678.1,681.3 680,682.9 681.8,684.3 683.7,685.7 685.5,687.1 687.3,688.3 689.2,689.6 691,690.7 692.9,691.8 694.7,692.9 696.6,694 698.4,695 700.3,696 702.1,697 704,698 705.8,699 707.7,699.9 709.5,700.9 711.3,701.8 713.2,702.8 715,703.6 716.9,704.5 718.7,705.3 720.6,706 722.4,706.7 724.3,707.4 726.1,707.9 728,708.4 729.8,708.9 731.6,709.4 733.5,709.8 735.3,710.2 737.2,710.6 739,711 740.9,711.3 742.7,711.7 744.6,712 746.4,712.3 748.3,712.6 750.1,712.9 752,713.2 753.8,713.5 755.6,713.8 757.5,714 759.3,714.3 761.2,714.6 763,714.9 764.9,715.1 766.7,715.4 768.6,715.6 770.4,715.9 772.3,716.1 774.1,716.4 775.9,716.6 777.8,716.8 779.6,717 781.5,717.2 783.3,717.5 785.2,717.6 787,717.8 788.9,718 790.7,718.2 792.6,718.4 794.4,718.5 796.2,718.7 798.1,718.8 799.9,719 801.8,719.1 803.6,719.3 805.5,719.4 807.3,719.5 809.2,719.7 811,719.8 812.9,720 814.7,720.1 816.6,720.2 818.4,720.3 820.2,720.5 822.1,720.6 823.9,720.7 825.8,720.8 827.6,720.9 829.5,721 831.3,721 833.2,721.1 835,721.2 836.9,721.3 838.7,721.3 840.5,721.4 842.4,721.4 844.2,721.4 846.1,721.5 847.9,721.5 849.8,721.5 851.6,721.6 853.5,721.6 855.3,721.6 857.2,721.6 859,721.7 860.9,721.7 862.7,721.7 864.5,721.7 866.4,721.8 868.2,721.8 870.1,721.8 871.9,721.8 873.8,721.8 875.6,721.8 877.5,721.9 879.3,721.9 881.2,721.9 883,721.9 884.8,721.9 886.7,721.9 888.5,722 890.4,722 892.2,722 894.1,722 895.9,722 897.8,722 899.6,722 901.5,722.1 903.3,722.1 905.2,722.1 907,722.1 908.8,722.1 910.7,722.1 912.5,722.2 914.4,722.2 916.2,722.2 918.1,722.2 919.9,722.2 921.8,722.2 923.6,722.2 925.5,722.3 927.3,722.3 929.1,722.3 931,722.3 932.8,722.3 934.7,722.3 936.5,722.3 938.4,722.3 940.2,722.4 942.1,722.4 943.9,722.4 945.8,722.4 947.6,722.4 949.5,722.4 951.3,722.4 953.1,722.4 955,722.4 956.8,722.4 958.7,722.5 960.5,722.5 962.4,722.5 964.2,722.5 966.1,722.5 967.9,722.5 969.8,722.5 971.6,722.5 973.4,722.5 975.3,722.5 977.1,722.5 979,722.5 980.8,722.5 982.7,722.5 984.5,722.5 986.4,722.5 988.2,722.5 990.1,722.5 991.9,722.5 993.8,722.5 995.6,722.5 997.4,722.5 999.3,722.5 1001.1,722.5 1003,722.5 1004.8,722.5 1006.7,722.5 1008.5,722.5 1010.4,722.5 1012.2,722.5 1014.1,722.5 1015.9,722.5 1017.7,722.5 1019.6,722.5 1021.4,722.5 1023.3,722.5 1025.1,722.5 1027,722.5 1028.8,722.5 1030.7,722.5 1032.5,722.5 1034.4,722.5 1036.2,722.5 1038,722.5 1039.9,722.5 1041.7,722.5 1043.6,722.5 1045.4,722.5 1047.3,722.5 1049.1,722.5 1051,722.5 1052.8,722.5 1054.7,722.5 1056.5,722.5 1058.4,722.5 1060.2,722.5 1062,722.5 1063.9,722.5 1065.7,722.5 1067.6,722.5 1069.4,722.5 1071.3,722.5 1073.1,722.5 1075,722.5 1076.8,722.5 1078.7,722.5 1080.5,722.5 1082.3,722.5 1084.2,722.5 1086,722.5 1087.9,722.5 1089.7,722.5 1091.6,722.5 1093.4,722.5 1095.3,722.5 1097.1,722.5 1099,722.5 1100.8,722.5 1102.7,722.5 1104.5,722.5 1106.3,722.5 1108.2,722.5 1110,722.5 1111.9,722.5 1113.7,722.5 1115.6,722.5 1117.4,722.5 1119.3,722.5 1121.1,722.5 1123,722.5 1124.8,722.5 1126.6,722.5 1128.5,722.5 1130.3,722.5 1132.2,722.5 1134,722.5 1135.9,722.5 1137.7,722.5 1139.6,722.5 1141.4,722.5 1143.3,722.5 1145.1,722.5 1147,722.5 1148.8,722.5 1150.6,722.5 1152.5,722.5 1154.3,722.5 1156.2,722.5 1158,722.5 1159.9,722.5 1161.7,722.5 1163.6,722.5 1165.4,722.5" fill="none" stroke="#000000" stroke-width="5.0" stroke-linejoin="round"/>
<path d="M288.7,326.4 299.4,337.1 288.7,347.8 278,337.1Z" fill="#000000"/>
<path d="M334.8,233.6 345.5,244.3 334.8,255 324.1,244.3Z" fill="#000000"/>
<path d="M380.9,247.8 391.6,258.5 380.9,269.2 370.2,258.5Z" fill="#000000"/>
<path d="M427.1,278.4 437.8,289.1 427.1,299.8 416.4,289.1Z" fill="#000000"/>
<path d="M473.2,195.4 483.9,206.1 473.2,216.8 462.5,206.1Z" fill="#000000"/>
<path d="M519.4,175.2 530.1,185.9 519.4,196.6 508.7,185.9Z" fill="#000000"/>
<path d="M565.5,305.1 576.2,315.8 565.5,326.5 554.8,315.8Z" fill="#000000"/>
<path d="M611.7,519.6 622.4,530.3 611.7,541 601,530.3Z" fill="#000000"/>
<path d="M657.8,644.1 668.5,654.8 657.8,665.5 647.1,654.8Z" fill="#000000"/>
<path d="M704,687.3 714.7,698 704,708.7 693.3,698Z" fill="#000000"/>
<path d="M750.1,702.2 760.8,712.9 750.1,723.6 739.4,712.9Z" fill="#000000"/>
<path d="M796.2,708 807,718.7 796.2,729.4 785.5,718.7Z" fill="#000000"/>
<path d="M842.4,710.7 853.1,721.4 842.4,732.1 831.7,721.4Z" fill="#000000"/>
<path d="M888.5,711.3 899.2,722 888.5,732.7 877.8,722Z" fill="#000000"/>
<path d="M934.7,711.6 945.4,722.3 934.7,733 924,722.3Z" fill="#000000"/>
<path d="M980.8,711.8 991.5,722.5 980.8,733.2 970.1,722.5Z" fill="#000000"/>
<path d="M1027,711.8 1037.7,722.5 1027,733.2 1016.3,722.5Z" fill="#000000"/>
<path d="M1073.1,711.8 1083.8,722.5 1073.1,733.2 1062.4,722.5Z" fill="#000000"/>
<path d="M1119.3,711.8 1130,722.5 1119.3,733.2 1108.6,722.5Z" fill="#000000"/>
<path d="M1165.4,711.8 1176.1,722.5 1165.4,733.2 1154.7,722.5Z" fill="#000000"/>
</g>
<g stroke="#000" stroke-width="2.7" stroke-linecap="round" fill="none">
<path d="M279.6,122 V777.2"/>
<path d="M279.6,777.2 H1165.5"/>
<path d="M279.6,777.1 H272.8"/>
<path d="M279.6,722.5 H266.7"/>
<path d="M279.6,667.9 H272.8"/>
<path d="M279.6,613.3 H266.7"/>
<path d="M279.6,558.7 H272.8"/>
<path d="M279.6,504.1 H266.7"/>
<path d="M279.6,449.6 H272.8"/>
<path d="M279.6,395 H266.7"/>
<path d="M279.6,340.4 H272.8"/>
<path d="M279.6,285.8 H266.7"/>
<path d="M279.6,231.2 H272.8"/>
<path d="M279.6,176.6 H266.7"/>
<path d="M279.6,122 H272.8"/>
<path d="M288.7,777.2 V783.6"/>
<path d="M334.8,777.2 V790"/>
<path d="M380.9,777.2 V783.6"/>
<path d="M427.1,777.2 V790"/>
<path d="M473.2,777.2 V783.6"/>
<path d="M519.4,777.2 V790"/>
<path d="M565.5,777.2 V783.6"/>
<path d="M611.7,777.2 V790"/>
<path d="M657.8,777.2 V783.6"/>
<path d="M704,777.2 V790"/>
<path d="M750.1,777.2 V783.6"/>
<path d="M796.2,777.2 V790"/>
<path d="M842.4,777.2 V783.6"/>
<path d="M888.5,777.2 V790"/>
<path d="M934.7,777.2 V783.6"/>
<path d="M980.8,777.2 V790"/>
<path d="M1027,777.2 V783.6"/>
<path d="M1073.1,777.2 V790"/>
<path d="M1119.3,777.2 V783.6"/>
<path d="M1165.4,777.2 V790"/>
</g>
<g font-family="Liberation Sans, Arial, sans-serif" font-size="41.9" fill="#000">
<text x="257.3" y="735.8" text-anchor="end">0.0</text>
<text x="257.3" y="626.6" text-anchor="end">0.2</text>
<text x="257.3" y="517.4" text-anchor="end">0.4</text>
<text x="257.3" y="408.3" text-anchor="end">0.6</text>
<text x="257.3" y="299.1" text-anchor="end">0.8</text>
<text x="257.3" y="189.9" text-anchor="end">1.0</text>
<text x="334.8" y="831.2" text-anchor="middle">350</text>
<text x="427.1" y="831.2" text-anchor="middle">400</text>
<text x="519.4" y="831.2" text-anchor="middle">450</text>
<text x="611.7" y="831.2" text-anchor="middle">500</text>
<text x="704" y="831.2" text-anchor="middle">550</text>
<text x="796.2" y="831.2" text-anchor="middle">600</text>
<text x="888.5" y="831.2" text-anchor="middle">650</text>
<text x="980.8" y="831.2" text-anchor="middle">700</text>
<text x="1073.1" y="831.2" text-anchor="middle">750</text>
<text x="1165.4" y="831.2" text-anchor="middle">800</text>
</g>
<text x="722" y="905.2" text-anchor="middle" font-family="Liberation Sans, Arial, sans-serif" font-weight="bold" font-size="45.9">Wavelength (nm)</text>
<text transform="translate(170.7,481.4) rotate(-90)" text-anchor="middle" font-family="Liberation Sans, Arial, sans-serif" font-weight="bold" font-size="47.2">Absorbance (a.u.)</text>
<clipPath id="cb"><rect x="1524.6" y="100" width="885.9" height="680"/></clipPath>
<g clip-path="url(#cb)">
<path d="M1524.4,426.1 1526.3,424.3 1528.1,422.2 1530,419.7 1531.8,416.9 1533.7,413.8 1535.5,410.3 1537.3,406.1 1539.2,401.5 1541,396.5 1542.9,391.3 1544.7,386.2 1546.6,381.1 1548.4,376 1550.3,370.7 1552.1,365.3 1554,359.9 1555.8,354.3 1557.7,348.6 1559.5,342.8 1561.3,336.9 1563.2,330.8 1565,324.5 1566.9,317.9 1568.7,311 1570.6,304.1 1572.4,297.2 1574.3,290.4 1576.1,283.7 1578,277.3 1579.8,271.3 1581.6,265.7 1583.5,260.3 1585.3,255 1587.2,249.9 1589,244.8 1590.9,239.7 1592.7,234.6 1594.6,229.6 1596.4,224.8 1598.3,220.3 1600.1,216 1601.9,211.9 1603.8,208 1605.6,204.4 1607.5,201.2 1609.3,198.2 1611.2,195.3 1613,192.7 1614.9,190.4 1616.7,188.6 1618.6,187.1 1620.4,185.6 1622.3,184.3 1624.1,183.5 1625.9,183.2 1627.8,184 1629.6,186.3 1631.5,189.6 1633.3,193.5 1635.2,197.3 1637,201.9 1638.9,207.7 1640.7,214.2 1642.6,220.6 1644.4,226.4 1646.2,230.9 1648.1,234.5 1649.9,237.6 1651.8,240.4 1653.6,243 1655.5,245.7 1657.3,248.6 1659.2,251.9 1661,255.8 1662.9,260.5 1664.7,265.8 1666.6,271.2 1668.4,276.6 1670.2,281.6 1672.1,287.1 1673.9,294.2 1675.8,302.2 1677.6,309.7 1679.5,315.7 1681.3,321.1 1683.2,326.2 1685,331.6 1686.9,337.8 1688.7,345 1690.5,352.3 1692.4,358.7 1694.2,364.2 1696.1,369.2 1697.9,373.9 1699.8,378.4 1701.6,382.6 1703.5,386.6 1705.3,390.3 1707.2,394.1 1709,397.9 1710.9,402 1712.7,406.4 1714.5,410.9 1716.4,415.2 1718.2,419 1720.1,422.2 1721.9,425.1 1723.8,427.7 1725.6,430.3 1727.5,432.9 1729.3,435.6 1731.2,438.5 1733,441.6 1734.8,444.7 1736.7,447.8 1738.5,450.8 1740.4,453.5 1742.2,455.9 1744.1,458.1 1745.9,460.2 1747.8,462.2 1749.6,464.1 1751.5,465.9 1753.3,467.6 1755.2,469.4 1757,471.1 1758.8,472.8 1760.7,474.5 1762.5,476.3 1764.4,478.2 1766.2,480.1 1768.1,482 1769.9,483.9 1771.8,485.9 1773.6,487.8 1775.5,489.7 1777.3,491.7 1779.1,493.7 1781,495.7 1782.8,497.7 1784.7,499.8 1786.5,501.9 1788.4,504 1790.2,506.2 1792.1,508.4 1793.9,510.6 1795.8,512.8 1797.6,515.1 1799.5,517.3 1801.3,519.6 1803.1,521.8 1805,524.1 1806.8,526.4 1808.7,528.7 1810.5,531 1812.4,533.3 1814.2,535.6 1816.1,537.9 1817.9,540.2 1819.8,542.6 1821.6,544.9 1823.4,547.3 1825.3,549.7 1827.1,552.1 1829,554.5 1830.8,556.9 1832.7,559.4 1834.5,561.8 1836.4,564.3 1838.2,566.8 1840.1,569.3 1841.9,571.8 1843.7,574.4 1845.6,576.9 1847.4,579.5 1849.3,582.1 1851.1,584.7 1853,587.3 1854.8,589.9 1856.7,592.6 1858.5,595.3 1860.4,598.1 1862.2,600.9 1864.1,603.8 1865.9,606.7 1867.7,609.5 1869.6,612.4 1871.4,615.2 1873.3,617.9 1875.1,620.6 1877,623.1 1878.8,625.5 1880.7,627.8 1882.5,630 1884.4,632.2 1886.2,634.3 1888,636.4 1889.9,638.4 1891.7,640.4 1893.6,642.4 1895.4,644.4 1897.3,646.3 1899.1,648.3 1901,650.2 1902.8,652.2 1904.7,654.2 1906.5,656.2 1908.4,658.2 1910.2,660.2 1912,662.2 1913.9,664.2 1915.7,666.1 1917.6,668 1919.4,669.8 1921.3,671.6 1923.1,673.2 1925,674.8 1926.8,676.3 1928.7,677.8 1930.5,679.2 1932.3,680.6 1934.2,682 1936,683.4 1937.9,684.6 1939.7,685.9 1941.6,687.1 1943.4,688.2 1945.3,689.3 1947.1,690.3 1949,691.2 1950.8,692.1 1952.7,693 1954.5,693.8 1956.3,694.7 1958.2,695.5 1960,696.3 1961.9,697.1 1963.7,697.8 1965.6,698.6 1967.4,699.3 1969.3,700 1971.1,700.7 1973,701.3 1974.8,702 1976.6,702.6 1978.5,703.2 1980.3,703.8 1982.2,704.3 1984,704.9 1985.9,705.4 1987.7,705.9 1989.6,706.4 1991.4,706.9 1993.3,707.3 1995.1,707.8 1997,708.2 1998.8,708.6 2000.6,709 2002.5,709.4 2004.3,709.8 2006.2,710.1 2008,710.5 2009.9,710.9 2011.7,711.2 2013.6,711.6 2015.4,711.9 2017.3,712.2 2019.1,712.5 2020.9,712.8 2022.8,713.1 2024.6,713.4 2026.5,713.7 2028.3,713.9 2030.2,714.2 2032,714.4 2033.9,714.6 2035.7,714.9 2037.6,715.1 2039.4,715.2 2041.2,715.4 2043.1,715.6 2044.9,715.7 2046.8,715.9 2048.6,716 2050.5,716.1 2052.3,716.3 2054.2,716.4 2056,716.5 2057.9,716.6 2059.7,716.7 2061.6,716.9 2063.4,717 2065.2,717.1 2067.1,717.2 2068.9,717.3 2070.8,717.4 2072.6,717.5 2074.5,717.5 2076.3,717.6 2078.2,717.7 2080,717.8 2081.9,717.9 2083.7,718 2085.5,718.1 2087.4,718.1 2089.2,718.2 2091.1,718.3 2092.9,718.4 2094.8,718.5 2096.6,718.5 2098.5,718.6 2100.3,718.7 2102.2,718.8 2104,718.8 2105.9,718.9 2107.7,719 2109.5,719.1 2111.4,719.1 2113.2,719.2 2115.1,719.3 2116.9,719.3 2118.8,719.4 2120.6,719.4 2122.5,719.5 2124.3,719.6 2126.2,719.6 2128,719.7 2129.8,719.7 2131.7,719.7 2133.5,719.8 2135.4,719.8 2137.2,719.8 2139.1,719.9 2140.9,719.9 2142.8,719.9 2144.6,720 2146.5,720 2148.3,720 2150.2,720.1 2152,720.1 2153.8,720.1 2155.7,720.1 2157.5,720.2 2159.4,720.2 2161.2,720.2 2163.1,720.2 2164.9,720.3 2166.8,720.3 2168.6,720.3 2170.5,720.3 2172.3,720.4 2174.1,720.4 2176,720.4 2177.8,720.4 2179.7,720.4 2181.5,720.5 2183.4,720.5 2185.2,720.5 2187.1,720.5 2188.9,720.5 2190.8,720.6 2192.6,720.6 2194.5,720.6 2196.3,720.6 2198.1,720.6 2200,720.6 2201.8,720.7 2203.7,720.7 2205.5,720.7 2207.4,720.7 2209.2,720.7 2211.1,720.7 2212.9,720.8 2214.8,720.8 2216.6,720.8 2218.4,720.8 2220.3,720.8 2222.1,720.8 2224,720.8 2225.8,720.9 2227.7,720.9 2229.5,720.9 2231.4,720.9 2233.2,720.9 2235.1,720.9 2236.9,721 2238.8,721 2240.6,721 2242.4,721 2244.3,721 2246.1,721 2248,721 2249.8,721.1 2251.7,721.1 2253.5,721.1 2255.4,721.1 2257.2,721.1 2259.1,721.1 2260.9,721.1 2262.7,721.2 2264.6,721.2 2266.4,721.2 2268.3,721.2 2270.1,721.2 2272,721.2 2273.8,721.2 2275.7,721.3 2277.5,721.3 2279.4,721.3 2281.2,721.3 2283,721.3 2284.9,721.3 2286.7,721.3 2288.6,721.4 2290.4,721.4 2292.3,721.4 2294.1,721.4 2296,721.4 2297.8,721.4 2299.7,721.4 2301.5,721.4 2303.4,721.5 2305.2,721.5 2307,721.5 2308.9,721.5 2310.7,721.5 2312.6,721.5 2314.4,721.5 2316.3,721.5 2318.1,721.6 2320,721.6 2321.8,721.6 2323.7,721.6 2325.5,721.6 2327.3,721.6 2329.2,721.6 2331,721.6 2332.9,721.6 2334.7,721.7 2336.6,721.7 2338.4,721.7 2340.3,721.7 2342.1,721.7 2344,721.7 2345.8,721.7 2347.7,721.7 2349.5,721.7 2351.3,721.7 2353.2,721.8 2355,721.8 2356.9,721.8 2358.7,721.8 2360.6,721.8 2362.4,721.8 2364.3,721.8 2366.1,721.8 2368,721.8 2369.8,721.8 2371.6,721.8 2373.5,721.8 2375.3,721.8 2377.2,721.9 2379,721.9 2380.9,721.9 2382.7,721.9 2384.6,721.9 2386.4,721.9 2388.3,721.9 2390.1,721.9 2392,721.9 2393.8,721.9 2395.6,721.9 2397.5,721.9 2399.3,721.9 2401.2,721.9 2403,721.9 2404.9,721.9 2406.7,721.9 2408.6,722 2410.4,722" fill="none" stroke="#000000" stroke-width="5.0" stroke-linejoin="round"/>
<path d="M1533.7,403.9 1543.6,413.8 1533.7,423.7 1523.8,413.8Z" fill="#fff" stroke="#000000" stroke-width="1.6" stroke-linejoin="miter"/>
<path d="M1579.8,261.4 1589.7,271.3 1579.8,281.2 1569.9,271.3Z" fill="#fff" stroke="#000000" stroke-width="1.6" stroke-linejoin="miter"/>
<path d="M1625.9,173.3 1635.8,183.2 1625.9,193.1 1616,183.2Z" fill="#fff" stroke="#000000" stroke-width="1.6" stroke-linejoin="miter"/>
<path d="M1672.1,277.2 1682,287.1 1672.1,297 1662.2,287.1Z" fill="#fff" stroke="#000000" stroke-width="1.6" stroke-linejoin="miter"/>
<path d="M1718.2,409.1 1728.1,419 1718.2,428.9 1708.3,419Z" fill="#fff" stroke="#000000" stroke-width="1.6" stroke-linejoin="miter"/>
<path d="M1764.4,468.3 1774.3,478.2 1764.4,488.1 1754.5,478.2Z" fill="#fff" stroke="#000000" stroke-width="1.6" stroke-linejoin="miter"/>
<path d="M1810.5,521.1 1820.4,531 1810.5,540.9 1800.6,531Z" fill="#fff" stroke="#000000" stroke-width="1.6" stroke-linejoin="miter"/>
<path d="M1856.7,582.7 1866.6,592.6 1856.7,602.5 1846.8,592.6Z" fill="#fff" stroke="#000000" stroke-width="1.6" stroke-linejoin="miter"/>
<path d="M1902.8,642.3 1912.7,652.2 1902.8,662.1 1892.9,652.2Z" fill="#fff" stroke="#000000" stroke-width="1.6" stroke-linejoin="miter"/>
<path d="M1949,681.3 1958.9,691.2 1949,701.1 1939.1,691.2Z" fill="#fff" stroke="#000000" stroke-width="1.6" stroke-linejoin="miter"/>
<path d="M1995.1,697.9 2005,707.8 1995.1,717.7 1985.2,707.8Z" fill="#fff" stroke="#000000" stroke-width="1.6" stroke-linejoin="miter"/>
<path d="M2041.2,705.5 2051.2,715.4 2041.2,725.3 2031.3,715.4Z" fill="#fff" stroke="#000000" stroke-width="1.6" stroke-linejoin="miter"/>
<path d="M2087.4,708.2 2097.3,718.1 2087.4,728 2077.5,718.1Z" fill="#fff" stroke="#000000" stroke-width="1.6" stroke-linejoin="miter"/>
<path d="M2133.5,709.9 2143.4,719.8 2133.5,729.7 2123.6,719.8Z" fill="#fff" stroke="#000000" stroke-width="1.6" stroke-linejoin="miter"/>
<path d="M2179.7,710.5 2189.6,720.4 2179.7,730.3 2169.8,720.4Z" fill="#fff" stroke="#000000" stroke-width="1.6" stroke-linejoin="miter"/>
<path d="M2225.8,711 2235.7,720.9 2225.8,730.8 2215.9,720.9Z" fill="#fff" stroke="#000000" stroke-width="1.6" stroke-linejoin="miter"/>
<path d="M2272,711.3 2281.9,721.2 2272,731.1 2262.1,721.2Z" fill="#fff" stroke="#000000" stroke-width="1.6" stroke-linejoin="miter"/>
<path d="M2318.1,711.7 2328,721.6 2318.1,731.5 2308.2,721.6Z" fill="#fff" stroke="#000000" stroke-width="1.6" stroke-linejoin="miter"/>
<path d="M2364.3,711.9 2374.2,721.8 2364.3,731.7 2354.4,721.8Z" fill="#fff" stroke="#000000" stroke-width="1.6" stroke-linejoin="miter"/>
<path d="M2410.4,712.1 2420.3,722 2410.4,731.9 2400.5,722Z" fill="#fff" stroke="#000000" stroke-width="1.6" stroke-linejoin="miter"/>
<path d="M1524.4,329.5 1526.3,327.7 1528.1,325.7 1530,323.6 1531.8,321.1 1533.7,318.5 1535.5,315.5 1537.3,312.1 1539.2,308.2 1541,304 1542.9,299.7 1544.7,295.2 1546.6,290.7 1548.4,286.4 1550.3,282.2 1552.1,278.3 1554,274.9 1555.8,271.6 1557.7,268.2 1559.5,264.9 1561.3,261.6 1563.2,258.3 1565,255.1 1566.9,252 1568.7,249.1 1570.6,246.4 1572.4,243.9 1574.3,241.6 1576.1,239.6 1578,238 1579.8,236.6 1581.6,235.5 1583.5,234.4 1585.3,233.4 1587.2,232.6 1589,231.9 1590.9,231.5 1592.7,231.4 1594.6,231.7 1596.4,232.2 1598.3,233 1600.1,234 1601.9,235 1603.8,236.5 1605.6,238.7 1607.5,241.4 1609.3,244.4 1611.2,247.4 1613,250.3 1614.9,253 1616.7,255.6 1618.6,258.3 1620.4,261.1 1622.3,264 1624.1,267.1 1625.9,270.5 1627.8,274.2 1629.6,278.3 1631.5,282.6 1633.3,287.2 1635.2,291.9 1637,296.7 1638.9,301.7 1640.7,306.8 1642.6,312.1 1644.4,317.6 1646.2,323.1 1648.1,328.8 1649.9,334.9 1651.8,341.3 1653.6,347.7 1655.5,353.7 1657.3,359.2 1659.2,364.7 1661,369.8 1662.9,373.7 1664.7,376 1666.6,377.9 1668.4,379.4 1670.2,380.4 1672.1,380.8 1673.9,380.8 1675.8,380.8 1677.6,380.8 1679.5,380.7 1681.3,379.6 1683.2,377.7 1685,375.5 1686.9,373.3 1688.7,371.4 1690.5,369.4 1692.4,367.3 1694.2,364.9 1696.1,362.1 1697.9,358.9 1699.8,355.2 1701.6,351.1 1703.5,346.8 1705.3,342 1707.2,336.5 1709,330.7 1710.9,325 1712.7,319.8 1714.5,315.1 1716.4,310.5 1718.2,305.6 1720.1,300.3 1721.9,294.6 1723.8,288.7 1725.6,282.8 1727.5,276.8 1729.3,271 1731.2,265.5 1733,260.2 1734.8,255 1736.7,249.8 1738.5,244.7 1740.4,239.7 1742.2,234.8 1744.1,230.2 1745.9,225.9 1747.8,221.9 1749.6,218.4 1751.5,215.3 1753.3,212.5 1755.2,209.9 1757,207.4 1758.8,205.1 1760.7,202.8 1762.5,200.5 1764.4,198.2 1766.2,195.8 1768.1,193.2 1769.9,190.8 1771.8,188.4 1773.6,186.4 1775.5,184.8 1777.3,183.4 1779.1,182.1 1781,180.8 1782.8,179.6 1784.7,178.5 1786.5,177.6 1788.4,177 1790.2,176.7 1792.1,176.6 1793.9,176.9 1795.8,177.4 1797.6,178.2 1799.5,179.2 1801.3,180.3 1803.1,181.6 1805,183 1806.8,184.5 1808.7,186 1810.5,187.5 1812.4,189.2 1814.2,191.2 1816.1,193.5 1817.9,196.1 1819.8,198.8 1821.6,201.8 1823.4,204.9 1825.3,208.2 1827.1,211.7 1829,215.5 1830.8,219.8 1832.7,224.5 1834.5,229.4 1836.4,234.5 1838.2,239.7 1840.1,245 1841.9,250.2 1843.7,255.7 1845.6,261.3 1847.4,267 1849.3,273 1851.1,279 1853,285.2 1854.8,291.5 1856.7,297.8 1858.5,304.3 1860.4,311 1862.2,317.9 1864.1,324.9 1865.9,331.9 1867.7,338.8 1869.6,345.7 1871.4,352.6 1873.3,359.7 1875.1,367 1877,374.7 1878.8,382.7 1880.7,390.7 1882.5,398.4 1884.4,405.7 1886.2,413 1888,420.2 1889.9,427.3 1891.7,434.1 1893.6,440.6 1895.4,446.8 1897.3,452.5 1899.1,457.5 1901,462.4 1902.8,467.8 1904.7,474.2 1906.5,481.5 1908.4,489.1 1910.2,496.8 1912,504 1913.9,510.5 1915.7,516.6 1917.6,522.5 1919.4,528.2 1921.3,533.7 1923.1,539 1925,544.2 1926.8,549.3 1928.7,554.3 1930.5,559.1 1932.3,563.9 1934.2,568.6 1936,573.2 1937.9,577.7 1939.7,582.1 1941.6,586.3 1943.4,590.5 1945.3,594.6 1947.1,598.5 1949,602.3 1950.8,606 1952.7,609.6 1954.5,613.2 1956.3,616.6 1958.2,619.9 1960,623.2 1961.9,626.2 1963.7,629.2 1965.6,632 1967.4,634.7 1969.3,637.3 1971.1,639.8 1973,642.3 1974.8,644.7 1976.6,647 1978.5,649.3 1980.3,651.6 1982.2,653.7 1984,655.8 1985.9,657.9 1987.7,659.9 1989.6,661.8 1991.4,663.6 1993.3,665.4 1995.1,667.1 1997,668.8 1998.8,670.4 2000.6,672 2002.5,673.6 2004.3,675.1 2006.2,676.6 2008,678 2009.9,679.3 2011.7,680.5 2013.6,681.6 2015.4,682.6 2017.3,683.4 2019.1,684.2 2020.9,685 2022.8,685.7 2024.6,686.4 2026.5,687.1 2028.3,687.7 2030.2,688.2 2032,688.8 2033.9,689.3 2035.7,689.8 2037.6,690.3 2039.4,690.8 2041.2,691.2 2043.1,691.6 2044.9,692 2046.8,692.4 2048.6,692.7 2050.5,693.1 2052.3,693.4 2054.2,693.7 2056,694 2057.9,694.3 2059.7,694.6 2061.6,695 2063.4,695.3 2065.2,695.7 2067.1,696.1 2068.9,696.5 2070.8,696.9 2072.6,697.4 2074.5,697.8 2076.3,698.2 2078.2,698.6 2080,699.1 2081.9,699.5 2083.7,699.8 2085.5,700.2 2087.4,700.5 2089.2,700.8 2091.1,701.1 2092.9,701.4 2094.8,701.7 2096.6,701.9 2098.5,702.2 2100.3,702.5 2102.2,702.7 2104,703 2105.9,703.2 2107.7,703.5 2109.5,703.7 2111.4,703.9 2113.2,704.1 2115.1,704.4 2116.9,704.6 2118.8,704.8 2120.6,705 2122.5,705.2 2124.3,705.4 2126.2,705.6 2128,705.8 2129.8,705.9 2131.7,706.1 2133.5,706.3 2135.4,706.5 2137.2,706.6 2139.1,706.8 2140.9,706.9 2142.8,707.1 2144.6,707.2 2146.5,707.4 2148.3,707.5 2150.2,707.6 2152,707.8 2153.8,707.9 2155.7,708 2157.5,708.1 2159.4,708.3 2161.2,708.4 2163.1,708.5 2164.9,708.6 2166.8,708.8 2168.6,708.9 2170.5,709 2172.3,709.1 2174.1,709.2 2176,709.4 2177.8,709.5 2179.7,709.6 2181.5,709.7 2183.4,709.9 2185.2,710 2187.1,710.1 2188.9,710.3 2190.8,710.4 2192.6,710.5 2194.5,710.6 2196.3,710.8 2198.1,710.9 2200,711 2201.8,711.2 2203.7,711.3 2205.5,711.4 2207.4,711.5 2209.2,711.7 2211.1,711.8 2212.9,711.9 2214.8,712 2216.6,712.1 2218.4,712.2 2220.3,712.4 2222.1,712.5 2224,712.6 2225.8,712.7 2227.7,712.8 2229.5,712.9 2231.4,713 2233.2,713.1 2235.1,713.2 2236.9,713.2 2238.8,713.3 2240.6,713.4 2242.4,713.5 2244.3,713.6 2246.1,713.7 2248,713.8 2249.8,713.9 2251.7,713.9 2253.5,714 2255.4,714.1 2257.2,714.2 2259.1,714.3 2260.9,714.3 2262.7,714.4 2264.6,714.5 2266.4,714.6 2268.3,714.7 2270.1,714.8 2272,714.9 2273.8,714.9 2275.7,715 2277.5,715.1 2279.4,715.2 2281.2,715.3 2283,715.4 2284.9,715.5 2286.7,715.6 2288.6,715.7 2290.4,715.8 2292.3,715.9 2294.1,715.9 2296,716 2297.8,716.1 2299.7,716.2 2301.5,716.3 2303.4,716.4 2305.2,716.5 2307,716.6 2308.9,716.6 2310.7,716.7 2312.6,716.8 2314.4,716.9 2316.3,717 2318.1,717 2320,717.1 2321.8,717.2 2323.7,717.3 2325.5,717.3 2327.3,717.4 2329.2,717.5 2331,717.6 2332.9,717.6 2334.7,717.7 2336.6,717.8 2338.4,717.8 2340.3,717.9 2342.1,718 2344,718 2345.8,718.1 2347.7,718.2 2349.5,718.2 2351.3,718.3 2353.2,718.3 2355,718.4 2356.9,718.5 2358.7,718.5 2360.6,718.6 2362.4,718.6 2364.3,718.7 2366.1,718.7 2368,718.8 2369.8,718.8 2371.6,718.9 2373.5,718.9 2375.3,719 2377.2,719 2379,719.1 2380.9,719.1 2382.7,719.2 2384.6,719.2 2386.4,719.3 2388.3,719.3 2390.1,719.4 2392,719.4 2393.8,719.4 2395.6,719.5 2397.5,719.5 2399.3,719.6 2401.2,719.6 2403,719.6 2404.9,719.7 2406.7,719.7 2408.6,719.7 2410.4,719.8" fill="none" stroke="#ff0000" stroke-width="5.0" stroke-linejoin="round"/>
<circle cx="1533.7" cy="318.5" r="7.3" fill="#fff" stroke="#ff0000" stroke-width="1.6"/>
<circle cx="1579.8" cy="236.6" r="7.3" fill="#fff" stroke="#ff0000" stroke-width="1.6"/>
<circle cx="1625.9" cy="270.5" r="7.3" fill="#fff" stroke="#ff0000" stroke-width="1.6"/>
<circle cx="1672.1" cy="380.8" r="7.3" fill="#fff" stroke="#ff0000" stroke-width="1.6"/>
<circle cx="1718.2" cy="305.6" r="7.3" fill="#fff" stroke="#ff0000" stroke-width="1.6"/>
<circle cx="1764.4" cy="198.2" r="7.3" fill="#fff" stroke="#ff0000" stroke-width="1.6"/>
<circle cx="1810.5" cy="187.5" r="7.3" fill="#fff" stroke="#ff0000" stroke-width="1.6"/>
<circle cx="1856.7" cy="297.8" r="7.3" fill="#fff" stroke="#ff0000" stroke-width="1.6"/>
<circle cx="1902.8" cy="467.8" r="7.3" fill="#fff" stroke="#ff0000" stroke-width="1.6"/>
<circle cx="1949" cy="602.3" r="7.3" fill="#fff" stroke="#ff0000" stroke-width="1.6"/>
<circle cx="1995.1" cy="667.1" r="7.3" fill="#fff" stroke="#ff0000" stroke-width="1.6"/>
<circle cx="2041.2" cy="691.2" r="7.3" fill="#fff" stroke="#ff0000" stroke-width="1.6"/>
<circle cx="2087.4" cy="700.5" r="7.3" fill="#fff" stroke="#ff0000" stroke-width="1.6"/>
<circle cx="2133.5" cy="706.3" r="7.3" fill="#fff" stroke="#ff0000" stroke-width="1.6"/>
<circle cx="2179.7" cy="709.6" r="7.3" fill="#fff" stroke="#ff0000" stroke-width="1.6"/>
<circle cx="2225.8" cy="712.7" r="7.3" fill="#fff" stroke="#ff0000" stroke-width="1.6"/>
<circle cx="2272" cy="714.9" r="7.3" fill="#fff" stroke="#ff0000" stroke-width="1.6"/>
<circle cx="2318.1" cy="717" r="7.3" fill="#fff" stroke="#ff0000" stroke-width="1.6"/>
<circle cx="2364.3" cy="718.7" r="7.3" fill="#fff" stroke="#ff0000" stroke-width="1.6"/>
<circle cx="2410.4" cy="719.8" r="7.3" fill="#fff" stroke="#ff0000" stroke-width="1.6"/>
<path d="M1524.4,332.2 1526.3,332 1528.1,331.5 1530,330.7 1531.8,329.7 1533.7,328.6 1535.5,327 1537.3,324.6 1539.2,321.5 1541,318.1 1542.9,314.5 1544.7,310.9 1546.6,307.6 1548.4,304.5 1550.3,301.4 1552.1,298.2 1554,295.1 1555.8,291.9 1557.7,288.7 1559.5,285.4 1561.3,282.2 1563.2,278.9 1565,275.6 1566.9,272.2 1568.7,268.8 1570.6,265.4 1572.4,262 1574.3,258.5 1576.1,255.1 1578,251.7 1579.8,248.3 1581.6,244.8 1583.5,241.1 1585.3,237.5 1587.2,234.1 1589,231 1590.9,228.5 1592.7,226.2 1594.6,223.9 1596.4,221.7 1598.3,220 1600.1,218.7 1601.9,218.1 1603.8,218.2 1605.6,218.8 1607.5,219.6 1609.3,220.7 1611.2,221.8 1613,223 1614.9,224.2 1616.7,225.5 1618.6,227 1620.4,228.7 1622.3,230.6 1624.1,232.6 1625.9,234.8 1627.8,237.4 1629.6,240.5 1631.5,244.1 1633.3,247.9 1635.2,252 1637,256.3 1638.9,261.2 1640.7,266.6 1642.6,272.3 1644.4,277.9 1646.2,283.3 1648.1,288.3 1649.9,293 1651.8,297.7 1653.6,302.2 1655.5,306.6 1657.3,310.8 1659.2,315 1661,319.3 1662.9,323.1 1664.7,326.1 1666.6,328.2 1668.4,330.1 1670.2,331.7 1672.1,332.9 1673.9,333.3 1675.8,332.9 1677.6,332 1679.5,330.5 1681.3,328.7 1683.2,326.6 1685,324.4 1686.9,322 1688.7,318.9 1690.5,315 1692.4,310.6 1694.2,306 1696.1,301.2 1697.9,296.5 1699.8,292.1 1701.6,287.5 1703.5,282.7 1705.3,278 1707.2,273.5 1709,269.4 1710.9,265.8 1712.7,262.4 1714.5,259.2 1716.4,255.8 1718.2,252.2 1720.1,248.3 1721.9,244.1 1723.8,239.8 1725.6,235.4 1727.5,231 1729.3,226.7 1731.2,222.5 1733,218.5 1734.8,214.6 1736.7,210.5 1738.5,206.4 1740.4,202.4 1742.2,198.6 1744.1,195 1745.9,191.8 1747.8,189 1749.6,186.8 1751.5,184.9 1753.3,183.1 1755.2,181.4 1757,179.9 1758.8,178.5 1760.7,177.5 1762.5,176.8 1764.4,176.6 1766.2,176.6 1768.1,176.7 1769.9,176.8 1771.8,177 1773.6,177.2 1775.5,177.5 1777.3,177.8 1779.1,178.1 1781,178.7 1782.8,180.2 1784.7,182.4 1786.5,185.2 1788.4,188.3 1790.2,191.6 1792.1,194.9 1793.9,198.1 1795.8,201.6 1797.6,205.4 1799.5,209.5 1801.3,213.9 1803.1,218.4 1805,223 1806.8,227.7 1808.7,233.1 1810.5,238.3 1812.4,242.7 1814.2,246.7 1816.1,250.7 1817.9,255.1 1819.8,260.1 1821.6,266.5 1823.4,273.9 1825.3,282 1827.1,290.1 1829,297.8 1830.8,304.8 1832.7,311.4 1834.5,317.9 1836.4,324.2 1838.2,330.7 1840.1,337.3 1841.9,344.3 1843.7,351.4 1845.6,358.7 1847.4,366.2 1849.3,374 1851.1,382.2 1853,391 1854.8,399.8 1856.7,408.1 1858.5,415.7 1860.4,423 1862.2,430.1 1864.1,437.1 1865.9,444.1 1867.7,451.1 1869.6,458.1 1871.4,465.1 1873.3,471.9 1875.1,478.5 1877,485 1878.8,491.3 1880.7,497.6 1882.5,503.7 1884.4,509.6 1886.2,515.2 1888,520.5 1889.9,525.7 1891.7,531.1 1893.6,536.9 1895.4,543.4 1897.3,550.6 1899.1,558 1901,565.2 1902.8,571.8 1904.7,578.1 1906.5,584.3 1908.4,590.4 1910.2,596.3 1912,601.9 1913.9,607 1915.7,611.6 1917.6,615.7 1919.4,619.5 1921.3,623.1 1923.1,626.4 1925,629.5 1926.8,632.4 1928.7,635.2 1930.5,637.9 1932.3,640.4 1934.2,642.8 1936,645 1937.9,647.1 1939.7,649.1 1941.6,651.1 1943.4,653.2 1945.3,655.2 1947.1,657.4 1949,659.6 1950.8,662.1 1952.7,664.8 1954.5,667.7 1956.3,670.6 1958.2,673.5 1960,676.2 1961.9,678.7 1963.7,680.8 1965.6,682.4 1967.4,683.6 1969.3,684.6 1971.1,685.6 1973,686.5 1974.8,687.3 1976.6,688 1978.5,688.7 1980.3,689.4 1982.2,690 1984,690.6 1985.9,691.1 1987.7,691.7 1989.6,692.2 1991.4,692.7 1993.3,693.2 1995.1,693.7 1997,694.2 1998.8,694.7 2000.6,695.2 2002.5,695.6 2004.3,696.1 2006.2,696.5 2008,697 2009.9,697.4 2011.7,697.8 2013.6,698.3 2015.4,698.7 2017.3,699.1 2019.1,699.4 2020.9,699.8 2022.8,700.2 2024.6,700.5 2026.5,700.9 2028.3,701.2 2030.2,701.6 2032,701.9 2033.9,702.2 2035.7,702.5 2037.6,702.8 2039.4,703.1 2041.2,703.4 2043.1,703.7 2044.9,703.9 2046.8,704.2 2048.6,704.5 2050.5,704.7 2052.3,705 2054.2,705.2 2056,705.4 2057.9,705.7 2059.7,705.9 2061.6,706.1 2063.4,706.3 2065.2,706.5 2067.1,706.7 2068.9,707 2070.8,707.2 2072.6,707.4 2074.5,707.6 2076.3,707.7 2078.2,707.9 2080,708.1 2081.9,708.3 2083.7,708.5 2085.5,708.7 2087.4,708.9 2089.2,709 2091.1,709.2 2092.9,709.4 2094.8,709.6 2096.6,709.7 2098.5,709.9 2100.3,710.1 2102.2,710.3 2104,710.4 2105.9,710.6 2107.7,710.8 2109.5,710.9 2111.4,711.1 2113.2,711.3 2115.1,711.4 2116.9,711.6 2118.8,711.7 2120.6,711.8 2122.5,712 2124.3,712.1 2126.2,712.2 2128,712.4 2129.8,712.5 2131.7,712.6 2133.5,712.7 2135.4,712.8 2137.2,712.9 2139.1,713 2140.9,713 2142.8,713.1 2144.6,713.2 2146.5,713.3 2148.3,713.4 2150.2,713.5 2152,713.5 2153.8,713.6 2155.7,713.7 2157.5,713.8 2159.4,713.8 2161.2,713.9 2163.1,714 2164.9,714 2166.8,714.1 2168.6,714.2 2170.5,714.2 2172.3,714.3 2174.1,714.4 2176,714.4 2177.8,714.5 2179.7,714.5 2181.5,714.6 2183.4,714.7 2185.2,714.7 2187.1,714.8 2188.9,714.8 2190.8,714.9 2192.6,714.9 2194.5,715 2196.3,715.1 2198.1,715.1 2200,715.2 2201.8,715.2 2203.7,715.3 2205.5,715.3 2207.4,715.4 2209.2,715.4 2211.1,715.5 2212.9,715.5 2214.8,715.6 2216.6,715.7 2218.4,715.7 2220.3,715.8 2222.1,715.8 2224,715.9 2225.8,715.9 2227.7,716 2229.5,716.1 2231.4,716.1 2233.2,716.2 2235.1,716.2 2236.9,716.3 2238.8,716.4 2240.6,716.4 2242.4,716.5 2244.3,716.5 2246.1,716.6 2248,716.7 2249.8,716.7 2251.7,716.8 2253.5,716.8 2255.4,716.9 2257.2,717 2259.1,717 2260.9,717.1 2262.7,717.1 2264.6,717.2 2266.4,717.3 2268.3,717.3 2270.1,717.4 2272,717.4 2273.8,717.5 2275.7,717.5 2277.5,717.6 2279.4,717.7 2281.2,717.7 2283,717.8 2284.9,717.8 2286.7,717.9 2288.6,717.9 2290.4,718 2292.3,718 2294.1,718.1 2296,718.1 2297.8,718.2 2299.7,718.2 2301.5,718.3 2303.4,718.3 2305.2,718.4 2307,718.4 2308.9,718.5 2310.7,718.5 2312.6,718.6 2314.4,718.6 2316.3,718.6 2318.1,718.7 2320,718.7 2321.8,718.8 2323.7,718.8 2325.5,718.8 2327.3,718.9 2329.2,718.9 2331,719 2332.9,719 2334.7,719 2336.6,719.1 2338.4,719.1 2340.3,719.2 2342.1,719.2 2344,719.2 2345.8,719.3 2347.7,719.3 2349.5,719.3 2351.3,719.4 2353.2,719.4 2355,719.4 2356.9,719.5 2358.7,719.5 2360.6,719.5 2362.4,719.6 2364.3,719.6 2366.1,719.7 2368,719.7 2369.8,719.7 2371.6,719.7 2373.5,719.8 2375.3,719.8 2377.2,719.8 2379,719.9 2380.9,719.9 2382.7,719.9 2384.6,720 2386.4,720 2388.3,720 2390.1,720 2392,720.1 2393.8,720.1 2395.6,720.1 2397.5,720.2 2399.3,720.2 2401.2,720.2 2403,720.2 2404.9,720.2 2406.7,720.3 2408.6,720.3 2410.4,720.3" fill="none" stroke="#0000ff" stroke-width="5.0" stroke-linejoin="round"/>
<path d="M1533.7,318.4 1542.3,333.3 1525.1,333.3Z" fill="#fff" stroke="#0000ff" stroke-width="1.6" stroke-linejoin="miter"/>
<path d="M1579.8,238.1 1588.4,253 1571.2,253Z" fill="#fff" stroke="#0000ff" stroke-width="1.6" stroke-linejoin="miter"/>
<path d="M1625.9,224.6 1634.5,239.5 1617.3,239.5Z" fill="#fff" stroke="#0000ff" stroke-width="1.6" stroke-linejoin="miter"/>
<path d="M1672.1,322.7 1680.7,337.6 1663.5,337.6Z" fill="#fff" stroke="#0000ff" stroke-width="1.6" stroke-linejoin="miter"/>
<path d="M1718.2,242 1726.8,256.9 1709.6,256.9Z" fill="#fff" stroke="#0000ff" stroke-width="1.6" stroke-linejoin="miter"/>
<path d="M1764.4,166.4 1773,181.3 1755.8,181.3Z" fill="#fff" stroke="#0000ff" stroke-width="1.6" stroke-linejoin="miter"/>
<path d="M1810.5,228.1 1819.1,243 1801.9,243Z" fill="#fff" stroke="#0000ff" stroke-width="1.6" stroke-linejoin="miter"/>
<path d="M1856.7,397.9 1865.3,412.8 1848.1,412.8Z" fill="#fff" stroke="#0000ff" stroke-width="1.6" stroke-linejoin="miter"/>
<path d="M1902.8,561.6 1911.4,576.5 1894.2,576.5Z" fill="#fff" stroke="#0000ff" stroke-width="1.6" stroke-linejoin="miter"/>
<path d="M1949,649.4 1957.6,664.3 1940.4,664.3Z" fill="#fff" stroke="#0000ff" stroke-width="1.6" stroke-linejoin="miter"/>
<path d="M1995.1,683.5 2003.7,698.4 1986.5,698.4Z" fill="#fff" stroke="#0000ff" stroke-width="1.6" stroke-linejoin="miter"/>
<path d="M2041.2,693.2 2049.8,708.1 2032.7,708.1Z" fill="#fff" stroke="#0000ff" stroke-width="1.6" stroke-linejoin="miter"/>
<path d="M2087.4,698.7 2096,713.6 2078.8,713.6Z" fill="#fff" stroke="#0000ff" stroke-width="1.6" stroke-linejoin="miter"/>
<path d="M2133.5,702.5 2142.1,717.4 2124.9,717.4Z" fill="#fff" stroke="#0000ff" stroke-width="1.6" stroke-linejoin="miter"/>
<path d="M2179.7,704.3 2188.3,719.2 2171.1,719.2Z" fill="#fff" stroke="#0000ff" stroke-width="1.6" stroke-linejoin="miter"/>
<path d="M2225.8,705.7 2234.4,720.6 2217.2,720.6Z" fill="#fff" stroke="#0000ff" stroke-width="1.6" stroke-linejoin="miter"/>
<path d="M2272,707.2 2280.6,722.1 2263.4,722.1Z" fill="#fff" stroke="#0000ff" stroke-width="1.6" stroke-linejoin="miter"/>
<path d="M2318.1,708.5 2326.7,723.4 2309.5,723.4Z" fill="#fff" stroke="#0000ff" stroke-width="1.6" stroke-linejoin="miter"/>
<path d="M2364.3,709.4 2372.9,724.3 2355.7,724.3Z" fill="#fff" stroke="#0000ff" stroke-width="1.6" stroke-linejoin="miter"/>
<path d="M2410.4,710.1 2419,725 2401.8,725Z" fill="#fff" stroke="#0000ff" stroke-width="1.6" stroke-linejoin="miter"/>
<path d="M1524.4,389.7 1526.3,389.6 1528.1,389.4 1530,389 1531.8,388.6 1533.7,388 1535.5,386.6 1537.3,384.2 1539.2,381 1541,377.5 1542.9,374.1 1544.7,370.3 1546.6,366.1 1548.4,361.6 1550.3,357 1552.1,352.5 1554,348.4 1555.8,344.8 1557.7,341.5 1559.5,338.3 1561.3,335.3 1563.2,332.3 1565,329.2 1566.9,326.1 1568.7,322.7 1570.6,319.2 1572.4,315.7 1574.3,312.1 1576.1,308.6 1578,305.3 1579.8,302.2 1581.6,299.2 1583.5,296.1 1585.3,293.2 1587.2,290.4 1589,287.8 1590.9,285.6 1592.7,283.8 1594.6,282.2 1596.4,280.7 1598.3,279.2 1600.1,277.9 1601.9,276.7 1603.8,275.7 1605.6,275 1607.5,274.6 1609.3,274.7 1611.2,275.6 1613,277 1614.9,278.7 1616.7,280.3 1618.6,281.9 1620.4,283.7 1622.3,285.6 1624.1,287.6 1625.9,289.6 1627.8,291.6 1629.6,293.6 1631.5,295.7 1633.3,298.1 1635.2,300.8 1637,304.3 1638.9,309.2 1640.7,315.1 1642.6,321.2 1644.4,327.1 1646.2,332.7 1648.1,338.3 1649.9,344 1651.8,349.6 1653.6,355.2 1655.5,360.6 1657.3,366.1 1659.2,371.5 1661,377 1662.9,383.1 1664.7,389.5 1666.6,395.8 1668.4,401.5 1670.2,406.3 1672.1,409.7 1673.9,412.2 1675.8,414.6 1677.6,416.8 1679.5,418.7 1681.3,420.4 1683.2,421.6 1685,422.5 1686.9,422.8 1688.7,422.7 1690.5,422.4 1692.4,422 1694.2,421.3 1696.1,420.4 1697.9,419.3 1699.8,418 1701.6,414.7 1703.5,409.7 1705.3,405.8 1707.2,402.1 1709,398.5 1710.9,394.9 1712.7,391.4 1714.5,387.7 1716.4,383.8 1718.2,379.7 1720.1,375.2 1721.9,370.5 1723.8,365.6 1725.6,360.5 1727.5,355.2 1729.3,349.8 1731.2,344.3 1733,338.7 1734.8,332.8 1736.7,326.4 1738.5,319.8 1740.4,313.3 1742.2,307.5 1744.1,302.5 1745.9,298 1747.8,293.8 1749.6,289.9 1751.5,286.2 1753.3,282.6 1755.2,279.1 1757,275.6 1758.8,271.9 1760.7,268.1 1762.5,264 1764.4,259.6 1766.2,254.6 1768.1,249.1 1769.9,243.3 1771.8,237.7 1773.6,232.5 1775.5,228.1 1777.3,223.8 1779.1,219.8 1781,215.8 1782.8,212.1 1784.7,208.6 1786.5,205.3 1788.4,202.3 1790.2,199.6 1792.1,197.3 1793.9,195.1 1795.8,193 1797.6,191 1799.5,189.1 1801.3,187.3 1803.1,185.7 1805,184.2 1806.8,183 1808.7,181.9 1810.5,181 1812.4,180.2 1814.2,179.4 1816.1,178.7 1817.9,178.2 1819.8,177.8 1821.6,177.7 1823.4,177.9 1825.3,178.3 1827.1,179.1 1829,180 1830.8,181.2 1832.7,182.6 1834.5,184 1836.4,185.6 1838.2,187.3 1840.1,188.9 1841.9,190.6 1843.7,192.6 1845.6,195 1847.4,197.7 1849.3,200.6 1851.1,203.6 1853,206.8 1854.8,210 1856.7,213.2 1858.5,216.2 1860.4,219.1 1862.2,222.4 1864.1,226.2 1865.9,230.9 1867.7,238.5 1869.6,248.2 1871.4,256.5 1873.3,264.3 1875.1,272 1877,279.5 1878.8,287 1880.7,294.5 1882.5,302.1 1884.4,310 1886.2,318.2 1888,326.5 1889.9,334.6 1891.7,342.2 1893.6,349.2 1895.4,355.8 1897.3,362.3 1899.1,368.8 1901,375.6 1902.8,383 1904.7,391.4 1906.5,400 1908.4,408 1910.2,415.8 1912,423.4 1913.9,431 1915.7,438.5 1917.6,446 1919.4,453.2 1921.3,460.3 1923.1,467.7 1925,475.7 1926.8,484.6 1928.7,494.3 1930.5,504 1932.3,513.1 1934.2,520.9 1936,527.9 1937.9,534.6 1939.7,541 1941.6,547.4 1943.4,554.2 1945.3,561.3 1947.1,568.3 1949,574.9 1950.8,580.9 1952.7,586.8 1954.5,592.6 1956.3,598.1 1958.2,603.5 1960,608.7 1961.9,613.7 1963.7,618.5 1965.6,623 1967.4,627.4 1969.3,631.6 1971.1,635.7 1973,639.6 1974.8,643.4 1976.6,647 1978.5,650.5 1980.3,653.8 1982.2,656.9 1984,659.8 1985.9,662.7 1987.7,665.3 1989.6,667.9 1991.4,670.3 1993.3,672.5 1995.1,674.6 1997,676.6 1998.8,678.6 2000.6,680.6 2002.5,682.5 2004.3,684.3 2006.2,686 2008,687.7 2009.9,689.2 2011.7,690.5 2013.6,691.6 2015.4,692.6 2017.3,693.4 2019.1,694 2020.9,694.7 2022.8,695.3 2024.6,695.8 2026.5,696.3 2028.3,696.8 2030.2,697.2 2032,697.7 2033.9,698.1 2035.7,698.4 2037.6,698.8 2039.4,699.2 2041.2,699.5 2043.1,699.9 2044.9,700.2 2046.8,700.6 2048.6,700.9 2050.5,701.2 2052.3,701.5 2054.2,701.8 2056,702.1 2057.9,702.4 2059.7,702.7 2061.6,703 2063.4,703.2 2065.2,703.5 2067.1,703.8 2068.9,704 2070.8,704.3 2072.6,704.5 2074.5,704.7 2076.3,705 2078.2,705.2 2080,705.4 2081.9,705.6 2083.7,705.9 2085.5,706.1 2087.4,706.3 2089.2,706.5 2091.1,706.7 2092.9,706.9 2094.8,707.1 2096.6,707.3 2098.5,707.5 2100.3,707.7 2102.2,707.9 2104,708 2105.9,708.2 2107.7,708.4 2109.5,708.6 2111.4,708.7 2113.2,708.9 2115.1,709.1 2116.9,709.2 2118.8,709.4 2120.6,709.5 2122.5,709.7 2124.3,709.8 2126.2,710 2128,710.1 2129.8,710.2 2131.7,710.4 2133.5,710.5 2135.4,710.6 2137.2,710.7 2139.1,710.8 2140.9,711 2142.8,711.1 2144.6,711.2 2146.5,711.3 2148.3,711.4 2150.2,711.5 2152,711.6 2153.8,711.7 2155.7,711.8 2157.5,711.9 2159.4,712 2161.2,712.1 2163.1,712.2 2164.9,712.3 2166.8,712.4 2168.6,712.5 2170.5,712.6 2172.3,712.7 2174.1,712.7 2176,712.8 2177.8,712.9 2179.7,713 2181.5,713.1 2183.4,713.2 2185.2,713.2 2187.1,713.3 2188.9,713.4 2190.8,713.5 2192.6,713.6 2194.5,713.6 2196.3,713.7 2198.1,713.8 2200,713.9 2201.8,713.9 2203.7,714 2205.5,714.1 2207.4,714.2 2209.2,714.2 2211.1,714.3 2212.9,714.4 2214.8,714.4 2216.6,714.5 2218.4,714.6 2220.3,714.7 2222.1,714.7 2224,714.8 2225.8,714.9 2227.7,714.9 2229.5,715 2231.4,715.1 2233.2,715.1 2235.1,715.2 2236.9,715.3 2238.8,715.3 2240.6,715.4 2242.4,715.4 2244.3,715.5 2246.1,715.6 2248,715.6 2249.8,715.7 2251.7,715.8 2253.5,715.8 2255.4,715.9 2257.2,715.9 2259.1,716 2260.9,716 2262.7,716.1 2264.6,716.2 2266.4,716.2 2268.3,716.3 2270.1,716.3 2272,716.4 2273.8,716.4 2275.7,716.5 2277.5,716.5 2279.4,716.6 2281.2,716.7 2283,716.7 2284.9,716.8 2286.7,716.8 2288.6,716.9 2290.4,716.9 2292.3,717 2294.1,717 2296,717.1 2297.8,717.1 2299.7,717.1 2301.5,717.2 2303.4,717.2 2305.2,717.3 2307,717.3 2308.9,717.4 2310.7,717.4 2312.6,717.5 2314.4,717.5 2316.3,717.5 2318.1,717.6 2320,717.6 2321.8,717.7 2323.7,717.7 2325.5,717.7 2327.3,717.8 2329.2,717.8 2331,717.9 2332.9,717.9 2334.7,717.9 2336.6,718 2338.4,718 2340.3,718.1 2342.1,718.1 2344,718.1 2345.8,718.2 2347.7,718.2 2349.5,718.2 2351.3,718.3 2353.2,718.3 2355,718.4 2356.9,718.4 2358.7,718.4 2360.6,718.5 2362.4,718.5 2364.3,718.5 2366.1,718.6 2368,718.6 2369.8,718.6 2371.6,718.7 2373.5,718.7 2375.3,718.7 2377.2,718.7 2379,718.8 2380.9,718.8 2382.7,718.8 2384.6,718.9 2386.4,718.9 2388.3,718.9 2390.1,719 2392,719 2393.8,719 2395.6,719 2397.5,719.1 2399.3,719.1 2401.2,719.1 2403,719.1 2404.9,719.2 2406.7,719.2 2408.6,719.2 2410.4,719.2" fill="none" stroke="#008000" stroke-width="5.0" stroke-linejoin="round"/>
<path d="M1533.7,379.3 1535.9,384.9 1541.9,385.3 1537.3,389.2 1538.8,395 1533.7,391.8 1528.5,395 1530,389.2 1525.4,385.3 1531.4,384.9Z" fill="#fff" stroke="#008000" stroke-width="1.8" stroke-linejoin="round"/>
<path d="M1579.8,293.5 1582.1,299.1 1588.1,299.5 1583.4,303.3 1584.9,309.2 1579.8,306 1574.7,309.2 1576.2,303.3 1571.5,299.5 1577.5,299.1Z" fill="#fff" stroke="#008000" stroke-width="1.8" stroke-linejoin="round"/>
<path d="M1625.9,280.9 1628.2,286.5 1634.2,286.9 1629.6,290.8 1631.1,296.6 1625.9,293.4 1620.8,296.6 1622.3,290.8 1617.7,286.9 1623.7,286.5Z" fill="#fff" stroke="#008000" stroke-width="1.8" stroke-linejoin="round"/>
<path d="M1672.1,401 1674.3,406.6 1680.4,407 1675.7,410.9 1677.2,416.7 1672.1,413.5 1667,416.7 1668.4,410.9 1663.8,407 1669.8,406.6Z" fill="#fff" stroke="#008000" stroke-width="1.8" stroke-linejoin="round"/>
<path d="M1718.2,371 1720.5,376.6 1726.5,377 1721.9,380.9 1723.3,386.7 1718.2,383.5 1713.1,386.7 1714.6,380.9 1710,377 1716,376.6Z" fill="#fff" stroke="#008000" stroke-width="1.8" stroke-linejoin="round"/>
<path d="M1764.4,250.9 1766.6,256.5 1772.7,256.9 1768,260.8 1769.5,266.6 1764.4,263.4 1759.3,266.6 1760.7,260.8 1756.1,256.9 1762.1,256.5Z" fill="#fff" stroke="#008000" stroke-width="1.8" stroke-linejoin="round"/>
<path d="M1810.5,172.3 1812.8,177.9 1818.8,178.3 1814.2,182.2 1815.6,188 1810.5,184.8 1805.4,188 1806.9,182.2 1802.3,178.3 1808.3,177.9Z" fill="#fff" stroke="#008000" stroke-width="1.8" stroke-linejoin="round"/>
<path d="M1856.7,204.5 1858.9,210.1 1864.9,210.5 1860.3,214.4 1861.8,220.2 1856.7,217 1851.6,220.2 1853,214.4 1848.4,210.5 1854.4,210.1Z" fill="#fff" stroke="#008000" stroke-width="1.8" stroke-linejoin="round"/>
<path d="M1902.8,374.3 1905.1,379.9 1911.1,380.3 1906.5,384.1 1907.9,390 1902.8,386.8 1897.7,390 1899.2,384.1 1894.5,380.3 1900.6,379.9Z" fill="#fff" stroke="#008000" stroke-width="1.8" stroke-linejoin="round"/>
<path d="M1949,566.2 1951.2,571.8 1957.2,572.2 1952.6,576.1 1954.1,581.9 1949,578.7 1943.8,581.9 1945.3,576.1 1940.7,572.2 1946.7,571.8Z" fill="#fff" stroke="#008000" stroke-width="1.8" stroke-linejoin="round"/>
<path d="M1995.1,665.9 1997.4,671.5 2003.4,671.9 1998.7,675.8 2000.2,681.7 1995.1,678.5 1990,681.7 1991.5,675.8 1986.8,671.9 1992.9,671.5Z" fill="#fff" stroke="#008000" stroke-width="1.8" stroke-linejoin="round"/>
<path d="M2041.2,690.8 2043.5,696.4 2049.5,696.8 2044.9,700.7 2046.4,706.6 2041.2,703.3 2036.1,706.6 2037.6,700.7 2033,696.8 2039,696.4Z" fill="#fff" stroke="#008000" stroke-width="1.8" stroke-linejoin="round"/>
<path d="M2087.4,697.6 2089.6,703.2 2095.7,703.6 2091,707.5 2092.5,713.3 2087.4,710.1 2082.3,713.3 2083.8,707.5 2079.1,703.6 2085.1,703.2Z" fill="#fff" stroke="#008000" stroke-width="1.8" stroke-linejoin="round"/>
<path d="M2133.5,701.8 2135.8,707.4 2141.8,707.8 2137.2,711.7 2138.7,717.5 2133.5,714.3 2128.4,717.5 2129.9,711.7 2125.3,707.8 2131.3,707.4Z" fill="#fff" stroke="#008000" stroke-width="1.8" stroke-linejoin="round"/>
<path d="M2179.7,704.3 2181.9,709.9 2188,710.3 2183.3,714.2 2184.8,720 2179.7,716.8 2174.6,720 2176,714.2 2171.4,710.3 2177.4,709.9Z" fill="#fff" stroke="#008000" stroke-width="1.8" stroke-linejoin="round"/>
<path d="M2225.8,706.2 2228.1,711.8 2234.1,712.2 2229.5,716 2230.9,721.9 2225.8,718.7 2220.7,721.9 2222.2,716 2217.6,712.2 2223.6,711.8Z" fill="#fff" stroke="#008000" stroke-width="1.8" stroke-linejoin="round"/>
<path d="M2272,707.7 2274.2,713.3 2280.2,713.7 2275.6,717.6 2277.1,723.4 2272,720.2 2266.9,723.4 2268.3,717.6 2263.7,713.7 2269.7,713.3Z" fill="#fff" stroke="#008000" stroke-width="1.8" stroke-linejoin="round"/>
<path d="M2318.1,708.9 2320.4,714.5 2326.4,714.9 2321.8,718.8 2323.2,724.6 2318.1,721.4 2313,724.6 2314.5,718.8 2309.8,714.9 2315.9,714.5Z" fill="#fff" stroke="#008000" stroke-width="1.8" stroke-linejoin="round"/>
<path d="M2364.3,709.8 2366.5,715.4 2372.5,715.8 2367.9,719.7 2369.4,725.6 2364.3,722.4 2359.2,725.6 2360.6,719.7 2356,715.8 2362,715.4Z" fill="#fff" stroke="#008000" stroke-width="1.8" stroke-linejoin="round"/>
<path d="M2410.4,710.5 2412.7,716.1 2418.7,716.5 2414.1,720.4 2415.5,726.3 2410.4,723.1 2405.3,726.3 2406.8,720.4 2402.1,716.5 2408.2,716.1Z" fill="#fff" stroke="#008000" stroke-width="1.8" stroke-linejoin="round"/>
<path d="M1524.4,259.6 1526.3,259.4 1528.1,258.9 1530,258.2 1531.8,257.3 1533.7,256.3 1535.5,255 1537.3,253 1539.2,250.6 1541,247.9 1542.9,245 1544.7,242.1 1546.6,239.4 1548.4,236.7 1550.3,234 1552.1,231.2 1554,228.3 1555.8,225.3 1557.7,222.2 1559.5,218.9 1561.3,215.3 1563.2,211.3 1565,207.4 1566.9,203.7 1568.7,200.4 1570.6,197.5 1572.4,194.8 1574.3,192.2 1576.1,189.8 1578,187.7 1579.8,185.9 1581.6,184.2 1583.5,182.7 1585.3,181.3 1587.2,180.2 1589,179.3 1590.9,178.6 1592.7,177.9 1594.6,177.3 1596.4,176.9 1598.3,176.6 1600.1,176.7 1601.9,177.1 1603.8,177.9 1605.6,179 1607.5,180.3 1609.3,181.7 1611.2,183.2 1613,184.8 1614.9,186.6 1616.7,188.9 1618.6,191.6 1620.4,194.4 1622.3,197.3 1624.1,200 1625.9,202.5 1627.8,204.7 1629.6,206.7 1631.5,208.7 1633.3,210.7 1635.2,212.6 1637,214.5 1638.9,216.5 1640.7,218.6 1642.6,220.7 1644.4,222.8 1646.2,224.9 1648.1,227.1 1649.9,229.4 1651.8,231.9 1653.6,234.7 1655.5,238.5 1657.3,242.8 1659.2,245.4 1661,247.5 1662.9,249.2 1664.7,250.6 1666.6,251.6 1668.4,252.2 1670.2,252.6 1672.1,253 1673.9,253.8 1675.8,254.8 1677.6,255.2 1679.5,254.9 1681.3,254.1 1683.2,253 1685,251.7 1686.9,250.3 1688.7,248.6 1690.5,246.5 1692.4,244.1 1694.2,241.7 1696.1,239.4 1697.9,237.2 1699.8,235 1701.6,232.8 1703.5,230.6 1705.3,228.5 1707.2,226.3 1709,224.2 1710.9,222 1712.7,219.9 1714.5,217.7 1716.4,215.5 1718.2,213.2 1720.1,210.7 1721.9,208 1723.8,205.2 1725.6,202.3 1727.5,199.6 1729.3,197 1731.2,194.8 1733,193 1734.8,191.4 1736.7,189.7 1738.5,188.2 1740.4,186.7 1742.2,185.4 1744.1,184.2 1745.9,183.4 1747.8,182.8 1749.6,182.6 1751.5,182.7 1753.3,182.9 1755.2,183.3 1757,183.8 1758.8,184.5 1760.7,185.1 1762.5,185.8 1764.4,186.6 1766.2,187.4 1768.1,188.5 1769.9,189.7 1771.8,191.1 1773.6,192.7 1775.5,194.5 1777.3,196.4 1779.1,198.4 1781,200.6 1782.8,202.9 1784.7,205.5 1786.5,208.8 1788.4,212.6 1790.2,216.7 1792.1,221.2 1793.9,225.7 1795.8,230.1 1797.6,234.4 1799.5,238.9 1801.3,243.4 1803.1,248 1805,252.8 1806.8,257.7 1808.7,262.8 1810.5,268 1812.4,273.4 1814.2,279 1816.1,284.9 1817.9,291 1819.8,297.3 1821.6,304.1 1823.4,311.1 1825.3,318.5 1827.1,326 1829,333.6 1830.8,341.4 1832.7,349 1834.5,356.9 1836.4,364.9 1838.2,373.2 1840.1,381.3 1841.9,389.3 1843.7,397 1845.6,404.2 1847.4,411.2 1849.3,418 1851.1,424.6 1853,431.1 1854.8,437.3 1856.7,443.2 1858.5,448.6 1860.4,453.5 1862.2,458.3 1864.1,463.4 1865.9,469.3 1867.7,476.9 1869.6,486.2 1871.4,496.3 1873.3,506.1 1875.1,514.7 1877,522.7 1878.8,530.4 1880.7,537.8 1882.5,544.9 1884.4,551.5 1886.2,557.7 1888,563.6 1889.9,569.2 1891.7,574.6 1893.6,579.9 1895.4,585.1 1897.3,590.3 1899.1,595.4 1901,600.4 1902.8,605 1904.7,609.5 1906.5,613.8 1908.4,618.1 1910.2,622.3 1912,626.3 1913.9,630.2 1915.7,633.9 1917.6,637.4 1919.4,640.7 1921.3,643.9 1923.1,647 1925,650 1926.8,653 1928.7,655.9 1930.5,658.8 1932.3,661.6 1934.2,664.3 1936,666.8 1937.9,669.3 1939.7,671.6 1941.6,673.8 1943.4,675.9 1945.3,677.8 1947.1,679.6 1949,681.2 1950.8,682.6 1952.7,684 1954.5,685.2 1956.3,686.4 1958.2,687.5 1960,688.5 1961.9,689.5 1963.7,690.5 1965.6,691.4 1967.4,692.3 1969.3,693.3 1971.1,694.3 1973,695.3 1974.8,696.3 1976.6,697.4 1978.5,698.6 1980.3,699.7 1982.2,701 1984,702.1 1985.9,703.3 1987.7,704.4 1989.6,705.4 1991.4,706.3 1993.3,707.1 1995.1,707.8 1997,708.3 1998.8,708.8 2000.6,709.4 2002.5,709.9 2004.3,710.3 2006.2,710.8 2008,711.3 2009.9,711.7 2011.7,712.1 2013.6,712.5 2015.4,712.9 2017.3,713.3 2019.1,713.6 2020.9,713.9 2022.8,714.3 2024.6,714.6 2026.5,714.8 2028.3,715.1 2030.2,715.4 2032,715.6 2033.9,715.8 2035.7,716 2037.6,716.2 2039.4,716.3 2041.2,716.5 2043.1,716.6 2044.9,716.8 2046.8,716.9 2048.6,717 2050.5,717.1 2052.3,717.2 2054.2,717.3 2056,717.4 2057.9,717.5 2059.7,717.6 2061.6,717.7 2063.4,717.8 2065.2,717.9 2067.1,718 2068.9,718 2070.8,718.1 2072.6,718.2 2074.5,718.2 2076.3,718.3 2078.2,718.4 2080,718.4 2081.9,718.5 2083.7,718.6 2085.5,718.6 2087.4,718.7 2089.2,718.7 2091.1,718.8 2092.9,718.8 2094.8,718.9 2096.6,719 2098.5,719 2100.3,719.1 2102.2,719.1 2104,719.2 2105.9,719.2 2107.7,719.2 2109.5,719.3 2111.4,719.3 2113.2,719.4 2115.1,719.4 2116.9,719.5 2118.8,719.5 2120.6,719.5 2122.5,719.6 2124.3,719.6 2126.2,719.6 2128,719.7 2129.8,719.7 2131.7,719.7 2133.5,719.8 2135.4,719.8 2137.2,719.8 2139.1,719.9 2140.9,719.9 2142.8,719.9 2144.6,719.9 2146.5,720 2148.3,720 2150.2,720 2152,720.1 2153.8,720.1 2155.7,720.1 2157.5,720.1 2159.4,720.2 2161.2,720.2 2163.1,720.2 2164.9,720.2 2166.8,720.3 2168.6,720.3 2170.5,720.3 2172.3,720.3 2174.1,720.3 2176,720.4 2177.8,720.4 2179.7,720.4 2181.5,720.4 2183.4,720.5 2185.2,720.5 2187.1,720.5 2188.9,720.5 2190.8,720.5 2192.6,720.6 2194.5,720.6 2196.3,720.6 2198.1,720.6 2200,720.6 2201.8,720.6 2203.7,720.7 2205.5,720.7 2207.4,720.7 2209.2,720.7 2211.1,720.7 2212.9,720.8 2214.8,720.8 2216.6,720.8 2218.4,720.8 2220.3,720.8 2222.1,720.8 2224,720.8 2225.8,720.9 2227.7,720.9 2229.5,720.9 2231.4,720.9 2233.2,720.9 2235.1,720.9 2236.9,721 2238.8,721 2240.6,721 2242.4,721 2244.3,721 2246.1,721 2248,721 2249.8,721.1 2251.7,721.1 2253.5,721.1 2255.4,721.1 2257.2,721.1 2259.1,721.1 2260.9,721.1 2262.7,721.2 2264.6,721.2 2266.4,721.2 2268.3,721.2 2270.1,721.2 2272,721.2 2273.8,721.2 2275.7,721.3 2277.5,721.3 2279.4,721.3 2281.2,721.3 2283,721.3 2284.9,721.3 2286.7,721.3 2288.6,721.4 2290.4,721.4 2292.3,721.4 2294.1,721.4 2296,721.4 2297.8,721.4 2299.7,721.4 2301.5,721.4 2303.4,721.5 2305.2,721.5 2307,721.5 2308.9,721.5 2310.7,721.5 2312.6,721.5 2314.4,721.5 2316.3,721.5 2318.1,721.6 2320,721.6 2321.8,721.6 2323.7,721.6 2325.5,721.6 2327.3,721.6 2329.2,721.6 2331,721.6 2332.9,721.6 2334.7,721.7 2336.6,721.7 2338.4,721.7 2340.3,721.7 2342.1,721.7 2344,721.7 2345.8,721.7 2347.7,721.7 2349.5,721.7 2351.3,721.7 2353.2,721.8 2355,721.8 2356.9,721.8 2358.7,721.8 2360.6,721.8 2362.4,721.8 2364.3,721.8 2366.1,721.8 2368,721.8 2369.8,721.8 2371.6,721.8 2373.5,721.8 2375.3,721.8 2377.2,721.9 2379,721.9 2380.9,721.9 2382.7,721.9 2384.6,721.9 2386.4,721.9 2388.3,721.9 2390.1,721.9 2392,721.9 2393.8,721.9 2395.6,721.9 2397.5,721.9 2399.3,721.9 2401.2,721.9 2403,721.9 2404.9,721.9 2406.7,721.9 2408.6,722 2410.4,722" fill="none" stroke="#000000" stroke-width="5.0" stroke-linejoin="round"/>
<path d="M1533.7,245.6 1544.4,256.3 1533.7,267 1523,256.3Z" fill="#000000"/>
<path d="M1579.8,175.2 1590.5,185.9 1579.8,196.6 1569.1,185.9Z" fill="#000000"/>
<path d="M1625.9,191.8 1636.6,202.5 1625.9,213.2 1615.2,202.5Z" fill="#000000"/>
<path d="M1672.1,242.3 1682.8,253 1672.1,263.7 1661.4,253Z" fill="#000000"/>
<path d="M1718.2,202.5 1728.9,213.2 1718.2,223.9 1707.5,213.2Z" fill="#000000"/>
<path d="M1764.4,175.9 1775.1,186.6 1764.4,197.3 1753.7,186.6Z" fill="#000000"/>
<path d="M1810.5,257.3 1821.2,268 1810.5,278.7 1799.8,268Z" fill="#000000"/>
<path d="M1856.7,432.5 1867.4,443.2 1856.7,453.9 1846,443.2Z" fill="#000000"/>
<path d="M1902.8,594.3 1913.5,605 1902.8,615.7 1892.1,605Z" fill="#000000"/>
<path d="M1949,670.5 1959.7,681.2 1949,691.9 1938.3,681.2Z" fill="#000000"/>
<path d="M1995.1,697.1 2005.8,707.8 1995.1,718.5 1984.4,707.8Z" fill="#000000"/>
<path d="M2041.2,705.8 2051.9,716.5 2041.2,727.2 2030.5,716.5Z" fill="#000000"/>
<path d="M2087.4,708 2098.1,718.7 2087.4,729.4 2076.7,718.7Z" fill="#000000"/>
<path d="M2133.5,709.1 2144.2,719.8 2133.5,730.5 2122.8,719.8Z" fill="#000000"/>
<path d="M2179.7,709.7 2190.4,720.4 2179.7,731.1 2169,720.4Z" fill="#000000"/>
<path d="M2225.8,710.2 2236.5,720.9 2225.8,731.6 2215.1,720.9Z" fill="#000000"/>
<path d="M2272,710.5 2282.7,721.2 2272,731.9 2261.3,721.2Z" fill="#000000"/>
<path d="M2318.1,710.9 2328.8,721.6 2318.1,732.3 2307.4,721.6Z" fill="#000000"/>
<path d="M2364.3,711.1 2375,721.8 2364.3,732.5 2353.6,721.8Z" fill="#000000"/>
<path d="M2410.4,711.3 2421.1,722 2410.4,732.7 2399.7,722Z" fill="#000000"/>
<path d="M1524.4,320.2 1526.3,319.9 1528.1,319.2 1530,318.3 1531.8,317.1 1533.7,315.8 1535.5,314.1 1537.3,311.8 1539.2,308.8 1541,305.4 1542.9,301.6 1544.7,297.6 1546.6,293.3 1548.4,288.9 1550.3,284.6 1552.1,280.4 1554,276.3 1555.8,272.4 1557.7,268.3 1559.5,264.2 1561.3,260 1563.2,255.7 1565,251.6 1566.9,247.6 1568.7,243.6 1570.6,239.7 1572.4,235.8 1574.3,232 1576.1,228.2 1578,224.5 1579.8,220.8 1581.6,217.1 1583.5,213.2 1585.3,209.2 1587.2,205.4 1589,201.7 1590.9,198.3 1592.7,195.4 1594.6,193 1596.4,190.9 1598.3,188.7 1600.1,186.7 1601.9,184.8 1603.8,183.1 1605.6,181.7 1607.5,180.7 1609.3,180.1 1611.2,180 1613,180.1 1614.9,180.4 1616.7,180.9 1618.6,181.4 1620.4,182.1 1622.3,182.9 1624.1,183.8 1625.9,184.8 1627.8,186.4 1629.6,189.1 1631.5,192.5 1633.3,196.3 1635.2,200.2 1637,203.9 1638.9,207.5 1640.7,211.2 1642.6,215 1644.4,218.9 1646.2,223 1648.1,227.1 1649.9,231.4 1651.8,235.7 1653.6,240.2 1655.5,244.9 1657.3,249.6 1659.2,254.4 1661,259.3 1662.9,264.4 1664.7,269.9 1666.6,275.7 1668.4,281.4 1670.2,286.7 1672.1,291.2 1673.9,294.8 1675.8,297.8 1677.6,301 1679.5,305.1 1681.3,310.5 1683.2,316.3 1685,321 1686.9,324.8 1688.7,328.2 1690.5,331.4 1692.4,334.3 1694.2,337.1 1696.1,339.8 1697.9,342.4 1699.8,344.8 1701.6,346.8 1703.5,348.7 1705.3,350.6 1707.2,352.3 1709,354 1710.9,355.6 1712.7,357.1 1714.5,358.5 1716.4,359.8 1718.2,361.1 1720.1,362.3 1721.9,363.4 1723.8,364.5 1725.6,365.5 1727.5,366.4 1729.3,367.4 1731.2,368.3 1733,369.2 1734.8,370.1 1736.7,371.1 1738.5,372.1 1740.4,373.2 1742.2,374.4 1744.1,375.7 1745.9,377.1 1747.8,378.5 1749.6,380 1751.5,381.5 1753.3,382.9 1755.2,384.3 1757,385.6 1758.8,386.9 1760.7,388 1762.5,388.9 1764.4,389.7 1766.2,390.4 1768.1,391.1 1769.9,391.8 1771.8,392.4 1773.6,393 1775.5,393.6 1777.3,394 1779.1,394.4 1781,394.6 1782.8,394.7 1784.7,394.7 1786.5,394.6 1788.4,394.5 1790.2,394.3 1792.1,394.1 1793.9,393.8 1795.8,393.5 1797.6,393.2 1799.5,392.9 1801.3,392.5 1803.1,392.1 1805,391.7 1806.8,391.4 1808.7,391 1810.5,390.6 1812.4,390.2 1814.2,389.7 1816.1,389.2 1817.9,388.6 1819.8,388 1821.6,387.3 1823.4,386.6 1825.3,385.9 1827.1,385.2 1829,384.4 1830.8,383.6 1832.7,382.9 1834.5,382.1 1836.4,381.3 1838.2,380.5 1840.1,379.8 1841.9,379.1 1843.7,378.4 1845.6,377.7 1847.4,377.1 1849.3,376.5 1851.1,376 1853,375.5 1854.8,375.1 1856.7,374.8 1858.5,374.4 1860.4,374.1 1862.2,373.8 1864.1,373.5 1865.9,373.3 1867.7,373 1869.6,372.8 1871.4,372.7 1873.3,372.6 1875.1,372.6 1877,372.6 1878.8,372.7 1880.7,372.7 1882.5,372.8 1884.4,373 1886.2,373.1 1888,373.3 1889.9,373.5 1891.7,373.7 1893.6,374 1895.4,374.2 1897.3,374.5 1899.1,374.8 1901,375.1 1902.8,375.4 1904.7,375.9 1906.5,376.5 1908.4,377.3 1910.2,378.3 1912,379.4 1913.9,380.5 1915.7,381.8 1917.6,383.1 1919.4,384.4 1921.3,385.6 1923.1,386.8 1925,388 1926.8,389.1 1928.7,390.1 1930.5,391.2 1932.3,392.2 1934.2,393.3 1936,394.3 1937.9,395.4 1939.7,396.6 1941.6,397.8 1943.4,399 1945.3,400.3 1947.1,401.7 1949,403.1 1950.8,404.7 1952.7,406.5 1954.5,408.4 1956.3,410.4 1958.2,412.5 1960,414.7 1961.9,417 1963.7,419.3 1965.6,421.6 1967.4,423.9 1969.3,426.2 1971.1,428.4 1973,430.7 1974.8,433 1976.6,435.3 1978.5,437.6 1980.3,439.9 1982.2,442.3 1984,444.7 1985.9,447.2 1987.7,449.7 1989.6,452.3 1991.4,455 1993.3,457.7 1995.1,460.6 1997,463.6 1998.8,466.7 2000.6,470.1 2002.5,473.6 2004.3,477.1 2006.2,480.7 2008,484.3 2009.9,487.9 2011.7,491.5 2013.6,494.9 2015.4,498.2 2017.3,501.3 2019.1,504.4 2020.9,507.3 2022.8,510.2 2024.6,513.1 2026.5,515.9 2028.3,518.7 2030.2,521.5 2032,524.3 2033.9,527.1 2035.7,529.9 2037.6,532.7 2039.4,535.6 2041.2,538.5 2043.1,541.5 2044.9,544.5 2046.8,547.6 2048.6,550.6 2050.5,553.7 2052.3,556.8 2054.2,559.9 2056,563 2057.9,566 2059.7,569.1 2061.6,572.1 2063.4,575.1 2065.2,578 2067.1,581 2068.9,584 2070.8,587 2072.6,590 2074.5,592.9 2076.3,595.8 2078.2,598.7 2080,601.6 2081.9,604.4 2083.7,607.2 2085.5,609.9 2087.4,612.5 2089.2,615.1 2091.1,617.7 2092.9,620.3 2094.8,622.9 2096.6,625.4 2098.5,627.9 2100.3,630.4 2102.2,632.9 2104,635.3 2105.9,637.6 2107.7,639.9 2109.5,642.1 2111.4,644.2 2113.2,646.2 2115.1,648.2 2116.9,650.1 2118.8,651.9 2120.6,653.6 2122.5,655.2 2124.3,656.8 2126.2,658.4 2128,659.9 2129.8,661.3 2131.7,662.7 2133.5,664 2135.4,665.3 2137.2,666.6 2139.1,667.8 2140.9,669.1 2142.8,670.4 2144.6,671.6 2146.5,672.8 2148.3,674 2150.2,675.2 2152,676.4 2153.8,677.5 2155.7,678.6 2157.5,679.7 2159.4,680.8 2161.2,681.8 2163.1,682.9 2164.9,683.8 2166.8,684.8 2168.6,685.7 2170.5,686.6 2172.3,687.5 2174.1,688.3 2176,689.1 2177.8,689.8 2179.7,690.5 2181.5,691.2 2183.4,691.8 2185.2,692.5 2187.1,693.1 2188.9,693.7 2190.8,694.3 2192.6,694.8 2194.5,695.4 2196.3,695.9 2198.1,696.5 2200,697 2201.8,697.5 2203.7,698 2205.5,698.4 2207.4,698.9 2209.2,699.3 2211.1,699.8 2212.9,700.2 2214.8,700.6 2216.6,701.1 2218.4,701.5 2220.3,701.9 2222.1,702.3 2224,702.6 2225.8,703 2227.7,703.4 2229.5,703.7 2231.4,704.1 2233.2,704.5 2235.1,704.8 2236.9,705.1 2238.8,705.5 2240.6,705.8 2242.4,706.1 2244.3,706.4 2246.1,706.7 2248,707 2249.8,707.3 2251.7,707.6 2253.5,707.9 2255.4,708.2 2257.2,708.5 2259.1,708.7 2260.9,709 2262.7,709.3 2264.6,709.5 2266.4,709.8 2268.3,710 2270.1,710.3 2272,710.5 2273.8,710.7 2275.7,711 2277.5,711.2 2279.4,711.4 2281.2,711.6 2283,711.9 2284.9,712.1 2286.7,712.3 2288.6,712.5 2290.4,712.7 2292.3,712.9 2294.1,713.1 2296,713.3 2297.8,713.5 2299.7,713.7 2301.5,713.9 2303.4,714.1 2305.2,714.3 2307,714.5 2308.9,714.6 2310.7,714.8 2312.6,715 2314.4,715.1 2316.3,715.3 2318.1,715.4 2320,715.5 2321.8,715.7 2323.7,715.8 2325.5,715.9 2327.3,716.1 2329.2,716.2 2331,716.3 2332.9,716.4 2334.7,716.6 2336.6,716.7 2338.4,716.8 2340.3,716.9 2342.1,717 2344,717.1 2345.8,717.2 2347.7,717.3 2349.5,717.4 2351.3,717.5 2353.2,717.6 2355,717.7 2356.9,717.8 2358.7,717.9 2360.6,718 2362.4,718 2364.3,718.1 2366.1,718.2 2368,718.3 2369.8,718.4 2371.6,718.5 2373.5,718.5 2375.3,718.6 2377.2,718.7 2379,718.8 2380.9,718.8 2382.7,718.9 2384.6,719 2386.4,719 2388.3,719.1 2390.1,719.2 2392,719.2 2393.8,719.3 2395.6,719.4 2397.5,719.4 2399.3,719.5 2401.2,719.5 2403,719.6 2404.9,719.6 2406.7,719.7 2408.6,719.7 2410.4,719.8" fill="none" stroke="#ff0000" stroke-width="5.0" stroke-linejoin="round"/>
<circle cx="1533.7" cy="315.8" r="8.1" fill="#ff0000"/>
<circle cx="1579.8" cy="220.8" r="8.1" fill="#ff0000"/>
<circle cx="1625.9" cy="184.8" r="8.1" fill="#ff0000"/>
<circle cx="1672.1" cy="291.2" r="8.1" fill="#ff0000"/>
<circle cx="1718.2" cy="361.1" r="8.1" fill="#ff0000"/>
<circle cx="1764.4" cy="389.7" r="8.1" fill="#ff0000"/>
<circle cx="1810.5" cy="390.6" r="8.1" fill="#ff0000"/>
<circle cx="1856.7" cy="374.8" r="8.1" fill="#ff0000"/>
<circle cx="1902.8" cy="375.4" r="8.1" fill="#ff0000"/>
<circle cx="1949" cy="403.1" r="8.1" fill="#ff0000"/>
<circle cx="1995.1" cy="460.6" r="8.1" fill="#ff0000"/>
<circle cx="2041.2" cy="538.5" r="8.1" fill="#ff0000"/>
<circle cx="2087.4" cy="612.5" r="8.1" fill="#ff0000"/>
<circle cx="2133.5" cy="664" r="8.1" fill="#ff0000"/>
<circle cx="2179.7" cy="690.5" r="8.1" fill="#ff0000"/>
<circle cx="2225.8" cy="703" r="8.1" fill="#ff0000"/>
<circle cx="2272" cy="710.5" r="8.1" fill="#ff0000"/>
<circle cx="2318.1" cy="715.4" r="8.1" fill="#ff0000"/>
<circle cx="2364.3" cy="718.1" r="8.1" fill="#ff0000"/>
<circle cx="2410.4" cy="719.8" r="8.1" fill="#ff0000"/>
<path d="M1524.4,326.7 1526.3,325.6 1528.1,324.2 1530,322.8 1531.8,321.3 1533.7,319.6 1535.5,317.9 1537.3,316 1539.2,313.9 1541,311.8 1542.9,309.4 1544.7,307 1546.6,304.3 1548.4,301.4 1550.3,298.2 1552.1,294.6 1554,290.8 1555.8,286.9 1557.7,282.9 1559.5,278.8 1561.3,274.8 1563.2,270.9 1565,267.1 1566.9,263.3 1568.7,259.4 1570.6,255.5 1572.4,251.6 1574.3,247.7 1576.1,244 1578,240.2 1579.8,236.6 1581.6,233.1 1583.5,229.5 1585.3,225.9 1587.2,222.4 1589,218.9 1590.9,215.5 1592.7,212.3 1594.6,209.3 1596.4,206.4 1598.3,203.9 1600.1,201.4 1601.9,198.8 1603.8,196.4 1605.6,194.1 1607.5,192.2 1609.3,190.9 1611.2,190.2 1613,190 1614.9,189.8 1616.7,189.6 1618.6,189.4 1620.4,189.3 1622.3,189.2 1624.1,189.2 1625.9,189.2 1627.8,189.7 1629.6,191.1 1631.5,193.4 1633.3,196.2 1635.2,199.4 1637,202.8 1638.9,206.3 1640.7,209.6 1642.6,212.7 1644.4,215.8 1646.2,219.2 1648.1,222.7 1649.9,226.3 1651.8,229.8 1653.6,233.3 1655.5,236.6 1657.3,239.6 1659.2,242.3 1661,244.7 1662.9,246.8 1664.7,248.9 1666.6,250.9 1668.4,253.1 1670.2,255.4 1672.1,258.1 1673.9,261.4 1675.8,265.2 1677.6,269.4 1679.5,273.7 1681.3,277.7 1683.2,281.3 1685,284.1 1686.9,286.7 1688.7,289.2 1690.5,291.5 1692.4,293.6 1694.2,295.4 1696.1,297 1697.9,298.3 1699.8,299.4 1701.6,300.5 1703.5,301.5 1705.3,302.5 1707.2,303.3 1709,304.1 1710.9,304.9 1712.7,305.6 1714.5,306.2 1716.4,306.8 1718.2,307.3 1720.1,307.8 1721.9,308.3 1723.8,308.8 1725.6,309.3 1727.5,309.7 1729.3,310 1731.2,310.3 1733,310.3 1734.8,310.3 1736.7,310.2 1738.5,310.1 1740.4,309.9 1742.2,309.6 1744.1,309.3 1745.9,309 1747.8,308.7 1749.6,308.4 1751.5,308 1753.3,307.5 1755.2,306.9 1757,306.2 1758.8,305.4 1760.7,304.6 1762.5,303.7 1764.4,302.9 1766.2,301.9 1768.1,300.7 1769.9,299.4 1771.8,298 1773.6,296.5 1775.5,295 1777.3,293.5 1779.1,292 1781,290.6 1782.8,289.2 1784.7,288 1786.5,287 1788.4,286.2 1790.2,285.4 1792.1,284.8 1793.9,284.1 1795.8,283.5 1797.6,282.9 1799.5,282.4 1801.3,281.9 1803.1,281.4 1805,281 1806.8,280.5 1808.7,280.1 1810.5,279.8 1812.4,279.4 1814.2,279 1816.1,278.7 1817.9,278.3 1819.8,277.9 1821.6,277.6 1823.4,277.3 1825.3,277 1827.1,276.8 1829,276.7 1830.8,276.5 1832.7,276.5 1834.5,276.5 1836.4,276.7 1838.2,276.9 1840.1,277.3 1841.9,277.7 1843.7,278.2 1845.6,278.8 1847.4,279.4 1849.3,280.1 1851.1,280.8 1853,281.6 1854.8,282.4 1856.7,283.2 1858.5,284.2 1860.4,285.6 1862.2,287.3 1864.1,289.2 1865.9,291.2 1867.7,293.4 1869.6,295.6 1871.4,297.8 1873.3,299.9 1875.1,301.8 1877,303.6 1878.8,305.4 1880.7,307.3 1882.5,309.3 1884.4,311.4 1886.2,313.8 1888,316.1 1889.9,318.4 1891.7,320.6 1893.6,322.9 1895.4,325.1 1897.3,327.4 1899.1,329.7 1901,332.1 1902.8,334.7 1904.7,337.4 1906.5,340.2 1908.4,343.1 1910.2,346.2 1912,349.3 1913.9,352.4 1915.7,355.7 1917.6,359 1919.4,362.3 1921.3,365.7 1923.1,369.3 1925,373.1 1926.8,377 1928.7,380.9 1930.5,384.8 1932.3,388.7 1934.2,392.5 1936,396.1 1937.9,399.6 1939.7,402.8 1941.6,405.7 1943.4,408.2 1945.3,410.6 1947.1,413.4 1949,416.6 1950.8,420.8 1952.7,426.1 1954.5,431.7 1956.3,437.2 1958.2,442 1960,446.1 1961.9,449.8 1963.7,453.3 1965.6,456.6 1967.4,460 1969.3,463.4 1971.1,467 1973,470.9 1974.8,475.3 1976.6,480.6 1978.5,486.5 1980.3,492.6 1982.2,497.9 1984,502.2 1985.9,505.8 1987.7,509.1 1989.6,512.1 1991.4,515.2 1993.3,518.5 1995.1,522.2 1997,526.4 1998.8,531 2000.6,535.9 2002.5,541 2004.3,546 2006.2,550.9 2008,555.5 2009.9,559.8 2011.7,564.1 2013.6,568.3 2015.4,572.4 2017.3,576.5 2019.1,580.4 2020.9,584.2 2022.8,587.8 2024.6,591.2 2026.5,594.3 2028.3,597.4 2030.2,600.2 2032,603 2033.9,605.7 2035.7,608.3 2037.6,611 2039.4,613.6 2041.2,616.3 2043.1,619.1 2044.9,621.9 2046.8,624.8 2048.6,627.7 2050.5,630.6 2052.3,633.5 2054.2,636.4 2056,639.1 2057.9,641.9 2059.7,644.5 2061.6,647 2063.4,649.3 2065.2,651.5 2067.1,653.6 2068.9,655.6 2070.8,657.5 2072.6,659.3 2074.5,661.1 2076.3,662.9 2078.2,664.5 2080,666.1 2081.9,667.6 2083.7,668.9 2085.5,670.2 2087.4,671.4 2089.2,672.5 2091.1,673.6 2092.9,674.6 2094.8,675.6 2096.6,676.6 2098.5,677.5 2100.3,678.5 2102.2,679.4 2104,680.2 2105.9,681.1 2107.7,681.9 2109.5,682.7 2111.4,683.4 2113.2,684.2 2115.1,684.9 2116.9,685.6 2118.8,686.3 2120.6,687 2122.5,687.7 2124.3,688.3 2126.2,689 2128,689.6 2129.8,690.2 2131.7,690.8 2133.5,691.4 2135.4,692 2137.2,692.5 2139.1,693.1 2140.9,693.7 2142.8,694.2 2144.6,694.7 2146.5,695.3 2148.3,695.8 2150.2,696.3 2152,696.8 2153.8,697.3 2155.7,697.7 2157.5,698.2 2159.4,698.7 2161.2,699.1 2163.1,699.6 2164.9,700 2166.8,700.4 2168.6,700.8 2170.5,701.2 2172.3,701.6 2174.1,702 2176,702.3 2177.8,702.7 2179.7,703 2181.5,703.3 2183.4,703.7 2185.2,704 2187.1,704.3 2188.9,704.5 2190.8,704.8 2192.6,705.1 2194.5,705.3 2196.3,705.6 2198.1,705.8 2200,706.1 2201.8,706.3 2203.7,706.6 2205.5,706.8 2207.4,707 2209.2,707.3 2211.1,707.5 2212.9,707.8 2214.8,708 2216.6,708.3 2218.4,708.5 2220.3,708.8 2222.1,709.1 2224,709.3 2225.8,709.6 2227.7,709.9 2229.5,710.2 2231.4,710.6 2233.2,710.9 2235.1,711.3 2236.9,711.7 2238.8,712 2240.6,712.4 2242.4,712.8 2244.3,713.2 2246.1,713.6 2248,714 2249.8,714.3 2251.7,714.7 2253.5,715.1 2255.4,715.4 2257.2,715.8 2259.1,716.1 2260.9,716.4 2262.7,716.7 2264.6,717 2266.4,717.2 2268.3,717.4 2270.1,717.6 2272,717.8 2273.8,718 2275.7,718.1 2277.5,718.2 2279.4,718.4 2281.2,718.5 2283,718.6 2284.9,718.8 2286.7,718.9 2288.6,719 2290.4,719.1 2292.3,719.2 2294.1,719.3 2296,719.4 2297.8,719.5 2299.7,719.6 2301.5,719.7 2303.4,719.8 2305.2,719.8 2307,719.9 2308.9,720 2310.7,720.1 2312.6,720.1 2314.4,720.2 2316.3,720.3 2318.1,720.3 2320,720.4 2321.8,720.4 2323.7,720.5 2325.5,720.5 2327.3,720.6 2329.2,720.7 2331,720.7 2332.9,720.8 2334.7,720.8 2336.6,720.8 2338.4,720.9 2340.3,720.9 2342.1,721 2344,721 2345.8,721.1 2347.7,721.1 2349.5,721.1 2351.3,721.2 2353.2,721.2 2355,721.3 2356.9,721.3 2358.7,721.3 2360.6,721.3 2362.4,721.4 2364.3,721.4 2366.1,721.4 2368,721.5 2369.8,721.5 2371.6,721.5 2373.5,721.5 2375.3,721.6 2377.2,721.6 2379,721.6 2380.9,721.7 2382.7,721.7 2384.6,721.7 2386.4,721.7 2388.3,721.7 2390.1,721.8 2392,721.8 2393.8,721.8 2395.6,721.8 2397.5,721.9 2399.3,721.9 2401.2,721.9 2403,721.9 2404.9,721.9 2406.7,721.9 2408.6,721.9 2410.4,722" fill="none" stroke="#0000ff" stroke-width="5.0" stroke-linejoin="round"/>
<path d="M1533.7,307.6 1543.9,325.6 1523.5,325.6Z" fill="#0000ff"/>
<path d="M1579.8,224.6 1590,242.6 1569.6,242.6Z" fill="#0000ff"/>
<path d="M1625.9,177.2 1636.1,195.2 1615.7,195.2Z" fill="#0000ff"/>
<path d="M1672.1,246.1 1682.3,264.1 1661.9,264.1Z" fill="#0000ff"/>
<path d="M1718.2,295.3 1728.4,313.3 1708,313.3Z" fill="#0000ff"/>
<path d="M1764.4,290.9 1774.6,308.9 1754.2,308.9Z" fill="#0000ff"/>
<path d="M1810.5,267.8 1820.7,285.8 1800.3,285.8Z" fill="#0000ff"/>
<path d="M1856.7,271.2 1866.9,289.2 1846.5,289.2Z" fill="#0000ff"/>
<path d="M1902.8,322.7 1913,340.7 1892.6,340.7Z" fill="#0000ff"/>
<path d="M1949,404.6 1959.2,422.6 1938.8,422.6Z" fill="#0000ff"/>
<path d="M1995.1,510.2 2005.3,528.2 1984.9,528.2Z" fill="#0000ff"/>
<path d="M2041.2,604.3 2051.4,622.3 2031,622.3Z" fill="#0000ff"/>
<path d="M2087.4,659.4 2097.6,677.4 2077.2,677.4Z" fill="#0000ff"/>
<path d="M2133.5,679.4 2143.7,697.4 2123.3,697.4Z" fill="#0000ff"/>
<path d="M2179.7,691 2189.9,709 2169.5,709Z" fill="#0000ff"/>
<path d="M2225.8,697.6 2236,715.6 2215.6,715.6Z" fill="#0000ff"/>
<path d="M2272,705.8 2282.2,723.8 2261.8,723.8Z" fill="#0000ff"/>
<path d="M2318.1,708.3 2328.3,726.3 2307.9,726.3Z" fill="#0000ff"/>
<path d="M2364.3,709.4 2374.5,727.4 2354.1,727.4Z" fill="#0000ff"/>
<path d="M2410.4,710 2420.6,728 2400.2,728Z" fill="#0000ff"/>
<path d="M1524.4,310.3 1526.3,310.3 1528.1,310.3 1530,310.3 1531.8,310.3 1533.7,310.3 1535.5,309.9 1537.3,308.7 1539.2,307 1541,304.8 1542.9,302.3 1544.7,299.8 1546.6,297.2 1548.4,294.5 1550.3,291.3 1552.1,287.7 1554,283.9 1555.8,279.9 1557.7,275.8 1559.5,271.7 1561.3,267.8 1563.2,264.2 1565,260.9 1566.9,257.6 1568.7,254.5 1570.6,251.4 1572.4,248.4 1574.3,245.4 1576.1,242.5 1578,239.5 1579.8,236.6 1581.6,233.8 1583.5,230.9 1585.3,228 1587.2,225.1 1589,222.3 1590.9,219.5 1592.7,216.9 1594.6,214.2 1596.4,211.7 1598.3,209.4 1600.1,206.9 1601.9,204.4 1603.8,201.9 1605.6,199.5 1607.5,197.4 1609.3,195.5 1611.2,194 1613,193 1614.9,192.3 1616.7,191.6 1618.6,191.1 1620.4,190.6 1622.3,190.2 1624.1,190 1625.9,189.9 1627.8,190.1 1629.6,190.8 1631.5,191.8 1633.3,193 1635.2,194.5 1637,196.2 1638.9,198 1640.7,199.7 1642.6,201.5 1644.4,203.7 1646.2,206.3 1648.1,209.3 1649.9,212.5 1651.8,215.7 1653.6,218.8 1655.5,221.7 1657.3,224.1 1659.2,226.1 1661,227.7 1662.9,229.2 1664.7,230.5 1666.6,231.8 1668.4,233.1 1670.2,234.6 1672.1,236.4 1673.9,238.6 1675.8,241.2 1677.6,244.1 1679.5,247.1 1681.3,250 1683.2,252.7 1685,254.9 1686.9,256.5 1688.7,258 1690.5,259.3 1692.4,260.6 1694.2,261.7 1696.1,262.6 1697.9,263.4 1699.8,264.1 1701.6,264.8 1703.5,265.5 1705.3,266.1 1707.2,266.7 1709,267.2 1710.9,267.7 1712.7,268 1714.5,268.3 1716.4,268.5 1718.2,268.6 1720.1,268.6 1721.9,268.6 1723.8,268.5 1725.6,268.5 1727.5,268.5 1729.3,268.4 1731.2,268.3 1733,268.3 1734.8,268.2 1736.7,268 1738.5,267.7 1740.4,267.4 1742.2,267.1 1744.1,266.7 1745.9,266.3 1747.8,265.8 1749.6,265.4 1751.5,264.9 1753.3,264.3 1755.2,263.8 1757,263.3 1758.8,262.8 1760.7,262.2 1762.5,261.7 1764.4,261.2 1766.2,260.7 1768.1,260.2 1769.9,259.7 1771.8,259.1 1773.6,258.5 1775.5,257.9 1777.3,257.3 1779.1,256.7 1781,256.1 1782.8,255.4 1784.7,254.8 1786.5,254.1 1788.4,253.5 1790.2,252.8 1792.1,252.1 1793.9,251.4 1795.8,250.7 1797.6,249.9 1799.5,249.2 1801.3,248.4 1803.1,247.7 1805,246.9 1806.8,246.2 1808.7,245.5 1810.5,244.8 1812.4,244.2 1814.2,243.5 1816.1,242.8 1817.9,242.1 1819.8,241.4 1821.6,240.7 1823.4,240 1825.3,239.4 1827.1,238.8 1829,238.2 1830.8,237.7 1832.7,237.3 1834.5,236.9 1836.4,236.6 1838.2,236.4 1840.1,236.2 1841.9,236 1843.7,235.8 1845.6,235.6 1847.4,235.4 1849.3,235.3 1851.1,235.2 1853,235.1 1854.8,235 1856.7,235 1858.5,235.2 1860.4,235.8 1862.2,236.6 1864.1,237.6 1865.9,238.7 1867.7,239.9 1869.6,241 1871.4,242.2 1873.3,243.6 1875.1,245.1 1877,246.7 1878.8,248.2 1880.7,249.8 1882.5,251.2 1884.4,252.7 1886.2,254.1 1888,255.6 1889.9,257 1891.7,258.5 1893.6,259.9 1895.4,261.3 1897.3,262.7 1899.1,264.2 1901,265.7 1902.8,267.4 1904.7,269.2 1906.5,271.2 1908.4,273.2 1910.2,275.4 1912,277.7 1913.9,280 1915.7,282.3 1917.6,284.6 1919.4,287.1 1921.3,289.7 1923.1,292.3 1925,295 1926.8,297.6 1928.7,300.3 1930.5,302.9 1932.3,305.5 1934.2,308 1936,310.4 1937.9,312.7 1939.7,315 1941.6,317.3 1943.4,319.6 1945.3,322 1947.1,324.5 1949,327.2 1950.8,330.1 1952.7,333.1 1954.5,336.3 1956.3,339.6 1958.2,343 1960,346.4 1961.9,349.9 1963.7,353.3 1965.6,356.7 1967.4,360 1969.3,363.3 1971.1,366.6 1973,369.9 1974.8,373.2 1976.6,376.5 1978.5,379.8 1980.3,383.1 1982.2,386.4 1984,389.8 1985.9,393.1 1987.7,396.4 1989.6,399.8 1991.4,403.2 1993.3,406.5 1995.1,410 1997,413.8 1998.8,417.8 2000.6,422 2002.5,426.3 2004.3,430.7 2006.2,435.1 2008,439.5 2009.9,444 2011.7,448.3 2013.6,452.5 2015.4,456.6 2017.3,460.4 2019.1,464.1 2020.9,467.7 2022.8,471.2 2024.6,474.5 2026.5,477.9 2028.3,481.2 2030.2,484.6 2032,488 2033.9,491.4 2035.7,495 2037.6,498.7 2039.4,502.6 2041.2,506.6 2043.1,511 2044.9,515.8 2046.8,520.8 2048.6,525.9 2050.5,531 2052.3,535.8 2054.2,540.2 2056,544.2 2057.9,548 2059.7,551.5 2061.6,554.9 2063.4,558.3 2065.2,561.5 2067.1,564.8 2068.9,568.1 2070.8,571.5 2072.6,575 2074.5,578.6 2076.3,582.1 2078.2,585.6 2080,589.1 2081.9,592.5 2083.7,595.7 2085.5,598.8 2087.4,601.7 2089.2,604.4 2091.1,607 2092.9,609.5 2094.8,611.8 2096.6,614.2 2098.5,616.4 2100.3,618.6 2102.2,620.8 2104,623 2105.9,625.2 2107.7,627.4 2109.5,629.7 2111.4,632 2113.2,634.5 2115.1,636.9 2116.9,639.4 2118.8,641.9 2120.6,644.4 2122.5,646.8 2124.3,649.2 2126.2,651.4 2128,653.5 2129.8,655.5 2131.7,657.4 2133.5,659 2135.4,660.5 2137.2,662 2139.1,663.4 2140.9,664.8 2142.8,666.1 2144.6,667.4 2146.5,668.7 2148.3,669.9 2150.2,671.1 2152,672.3 2153.8,673.4 2155.7,674.5 2157.5,675.5 2159.4,676.6 2161.2,677.6 2163.1,678.5 2164.9,679.5 2166.8,680.4 2168.6,681.4 2170.5,682.2 2172.3,683.1 2174.1,684 2176,684.8 2177.8,685.7 2179.7,686.5 2181.5,687.3 2183.4,688.1 2185.2,688.9 2187.1,689.6 2188.9,690.4 2190.8,691.2 2192.6,691.9 2194.5,692.7 2196.3,693.4 2198.1,694.1 2200,694.8 2201.8,695.5 2203.7,696.1 2205.5,696.8 2207.4,697.4 2209.2,698 2211.1,698.6 2212.9,699.2 2214.8,699.7 2216.6,700.2 2218.4,700.7 2220.3,701.2 2222.1,701.7 2224,702.1 2225.8,702.5 2227.7,702.9 2229.5,703.3 2231.4,703.6 2233.2,704 2235.1,704.3 2236.9,704.6 2238.8,704.9 2240.6,705.2 2242.4,705.5 2244.3,705.8 2246.1,706.1 2248,706.4 2249.8,706.6 2251.7,706.9 2253.5,707.1 2255.4,707.4 2257.2,707.6 2259.1,707.9 2260.9,708.1 2262.7,708.4 2264.6,708.6 2266.4,708.9 2268.3,709.1 2270.1,709.4 2272,709.6 2273.8,709.9 2275.7,710.1 2277.5,710.4 2279.4,710.7 2281.2,710.9 2283,711.2 2284.9,711.4 2286.7,711.7 2288.6,711.9 2290.4,712.2 2292.3,712.4 2294.1,712.7 2296,712.9 2297.8,713.2 2299.7,713.4 2301.5,713.7 2303.4,713.9 2305.2,714.1 2307,714.3 2308.9,714.5 2310.7,714.8 2312.6,715 2314.4,715.1 2316.3,715.3 2318.1,715.5 2320,715.7 2321.8,715.9 2323.7,716 2325.5,716.2 2327.3,716.4 2329.2,716.5 2331,716.7 2332.9,716.9 2334.7,717 2336.6,717.2 2338.4,717.3 2340.3,717.5 2342.1,717.6 2344,717.8 2345.8,717.9 2347.7,718.1 2349.5,718.2 2351.3,718.3 2353.2,718.4 2355,718.5 2356.9,718.6 2358.7,718.7 2360.6,718.8 2362.4,718.9 2364.3,719 2366.1,719.1 2368,719.2 2369.8,719.2 2371.6,719.3 2373.5,719.4 2375.3,719.5 2377.2,719.5 2379,719.6 2380.9,719.7 2382.7,719.7 2384.6,719.8 2386.4,719.8 2388.3,719.9 2390.1,720 2392,720 2393.8,720.1 2395.6,720.1 2397.5,720.1 2399.3,720.2 2401.2,720.2 2403,720.2 2404.9,720.3 2406.7,720.3 2408.6,720.3 2410.4,720.3" fill="none" stroke="#008000" stroke-width="5.0" stroke-linejoin="round"/>
<path d="M1533.7,300.7 1536.1,306.9 1542.8,307.4 1537.7,311.7 1539.3,318.1 1533.7,314.6 1528,318.1 1529.6,311.7 1524.5,307.4 1531.2,306.9Z" fill="#008000"/>
<path d="M1579.8,227 1582.3,233.2 1588.9,233.7 1583.8,238 1585.4,244.4 1579.8,240.9 1574.2,244.4 1575.8,238 1570.7,233.7 1577.3,233.2Z" fill="#008000"/>
<path d="M1625.9,180.3 1628.4,186.5 1635.1,187 1630,191.2 1631.6,197.7 1625.9,194.1 1620.3,197.7 1621.9,191.2 1616.8,187 1623.5,186.5Z" fill="#008000"/>
<path d="M1672.1,226.8 1674.6,233 1681.2,233.4 1676.1,237.7 1677.7,244.1 1672.1,240.6 1666.4,244.1 1668.1,237.7 1663,233.4 1669.6,233Z" fill="#008000"/>
<path d="M1718.2,259 1720.7,265.2 1727.4,265.6 1722.3,269.9 1723.9,276.4 1718.2,272.8 1712.6,276.4 1714.2,269.9 1709.1,265.6 1715.8,265.2Z" fill="#008000"/>
<path d="M1764.4,251.6 1766.9,257.8 1773.5,258.2 1768.4,262.5 1770,269 1764.4,265.4 1758.7,269 1760.4,262.5 1755.2,258.2 1761.9,257.8Z" fill="#008000"/>
<path d="M1810.5,235.2 1813,241.4 1819.7,241.9 1814.5,246.1 1816.2,252.6 1810.5,249.1 1804.9,252.6 1806.5,246.1 1801.4,241.9 1808,241.4Z" fill="#008000"/>
<path d="M1856.7,225.4 1859.2,231.6 1865.8,232 1860.7,236.3 1862.3,242.8 1856.7,239.2 1851,242.8 1852.7,236.3 1847.5,232 1854.2,231.6Z" fill="#008000"/>
<path d="M1902.8,257.8 1905.3,264 1911.9,264.4 1906.8,268.7 1908.5,275.1 1902.8,271.6 1897.2,275.1 1898.8,268.7 1893.7,264.4 1900.3,264Z" fill="#008000"/>
<path d="M1949,317.6 1951.4,323.8 1958.1,324.2 1953,328.5 1954.6,335 1949,331.4 1943.3,335 1944.9,328.5 1939.8,324.2 1946.5,323.8Z" fill="#008000"/>
<path d="M1995.1,400.4 1997.6,406.6 2004.2,407 1999.1,411.3 2000.7,417.7 1995.1,414.2 1989.5,417.7 1991.1,411.3 1986,407 1992.6,406.6Z" fill="#008000"/>
<path d="M2041.2,497 2043.7,503.2 2050.4,503.6 2045.3,507.9 2046.9,514.4 2041.2,510.8 2035.6,514.4 2037.2,507.9 2032.1,503.6 2038.8,503.2Z" fill="#008000"/>
<path d="M2087.4,592.1 2089.9,598.3 2096.5,598.7 2091.4,603 2093,609.5 2087.4,605.9 2081.8,609.5 2083.4,603 2078.3,598.7 2084.9,598.3Z" fill="#008000"/>
<path d="M2133.5,649.4 2136,655.6 2142.7,656 2137.6,660.3 2139.2,666.8 2133.5,663.2 2127.9,666.8 2129.5,660.3 2124.4,656 2131.1,655.6Z" fill="#008000"/>
<path d="M2179.7,676.9 2182.2,683.1 2188.8,683.5 2183.7,687.8 2185.3,694.2 2179.7,690.7 2174,694.2 2175.7,687.8 2170.6,683.5 2177.2,683.1Z" fill="#008000"/>
<path d="M2225.8,692.9 2228.3,699.1 2235,699.6 2229.8,703.8 2231.5,710.3 2225.8,706.7 2220.2,710.3 2221.8,703.8 2216.7,699.6 2223.3,699.1Z" fill="#008000"/>
<path d="M2272,700 2274.5,706.2 2281.1,706.7 2276,710.9 2277.6,717.4 2272,713.8 2266.3,717.4 2268,710.9 2262.8,706.7 2269.5,706.2Z" fill="#008000"/>
<path d="M2318.1,705.9 2320.6,712.1 2327.3,712.5 2322.1,716.8 2323.8,723.3 2318.1,719.7 2312.5,723.3 2314.1,716.8 2309,712.5 2315.6,712.1Z" fill="#008000"/>
<path d="M2364.3,709.4 2366.7,715.6 2373.4,716 2368.3,720.3 2369.9,726.8 2364.3,723.2 2358.6,726.8 2360.2,720.3 2355.1,716 2361.8,715.6Z" fill="#008000"/>
<path d="M2410.4,710.7 2412.9,716.9 2419.5,717.3 2414.4,721.6 2416.1,728.1 2410.4,724.5 2404.8,728.1 2406.4,721.6 2401.3,717.3 2407.9,716.9Z" fill="#008000"/>
</g>
<g stroke="#000" stroke-width="2.7" stroke-linecap="round" fill="none">
<path d="M1524.6,122 V777.2"/>
<path d="M1524.6,777.2 H2410.5"/>
<path d="M1524.6,777.1 H1517.8"/>
<path d="M1524.6,722.5 H1511.7"/>
<path d="M1524.6,667.9 H1517.8"/>
<path d="M1524.6,613.3 H1511.7"/>
<path d="M1524.6,558.7 H1517.8"/>
<path d="M1524.6,504.1 H1511.7"/>
<path d="M1524.6,449.6 H1517.8"/>
<path d="M1524.6,395 H1511.7"/>
<path d="M1524.6,340.4 H1517.8"/>
<path d="M1524.6,285.8 H1511.7"/>
<path d="M1524.6,231.2 H1517.8"/>
<path d="M1524.6,176.6 H1511.7"/>
<path d="M1524.6,122 H1517.8"/>
<path d="M1533.7,777.2 V783.6"/>
<path d="M1579.8,777.2 V790"/>
<path d="M1625.9,777.2 V783.6"/>
<path d="M1672.1,777.2 V790"/>
<path d="M1718.2,777.2 V783.6"/>
<path d="M1764.4,777.2 V790"/>
<path d="M1810.5,777.2 V783.6"/>
<path d="M1856.7,777.2 V790"/>
<path d="M1902.8,777.2 V783.6"/>
<path d="M1949,777.2 V790"/>
<path d="M1995.1,777.2 V783.6"/>
<path d="M2041.2,777.2 V790"/>
<path d="M2087.4,777.2 V783.6"/>
<path d="M2133.5,777.2 V790"/>
<path d="M2179.7,777.2 V783.6"/>
<path d="M2225.8,777.2 V790"/>
<path d="M2272,777.2 V783.6"/>
<path d="M2318.1,777.2 V790"/>
<path d="M2364.3,777.2 V783.6"/>
<path d="M2410.4,777.2 V790"/>
</g>
<g font-family="Liberation Sans, Arial, sans-serif" font-size="41.9" fill="#000">
<text x="1502.3" y="735.8" text-anchor="end">0.0</text>
<text x="1502.3" y="626.6" text-anchor="end">0.2</text>
<text x="1502.3" y="517.4" text-anchor="end">0.4</text>
<text x="1502.3" y="408.3" text-anchor="end">0.6</text>
<text x="1502.3" y="299.1" text-anchor="end">0.8</text>
<text x="1502.3" y="189.9" text-anchor="end">1.0</text>
<text x="1579.8" y="831.2" text-anchor="middle">350</text>
<text x="1672.1" y="831.2" text-anchor="middle">400</text>
<text x="1764.4" y="831.2" text-anchor="middle">450</text>
<text x="1856.7" y="831.2" text-anchor="middle">500</text>
<text x="1949" y="831.2" text-anchor="middle">550</text>
<text x="2041.2" y="831.2" text-anchor="middle">600</text>
<text x="2133.5" y="831.2" text-anchor="middle">650</text>
<text x="2225.8" y="831.2" text-anchor="middle">700</text>
<text x="2318.1" y="831.2" text-anchor="middle">750</text>
<text x="2410.4" y="831.2" text-anchor="middle">800</text>
</g>
<text x="1967" y="905.2" text-anchor="middle" font-family="Liberation Sans, Arial, sans-serif" font-weight="bold" font-size="45.9">Wavelength (nm)</text>
<text transform="translate(1415.7,481.4) rotate(-90)" text-anchor="middle" font-family="Liberation Sans, Arial, sans-serif" font-weight="bold" font-size="47.2">Absorbance (a.u.)</text>
<path d="M830.9,144.1 H922.8" stroke="#000000" stroke-width="5.0" stroke-linecap="round"/>
<path d="M876.8,134.2 886.7,144.1 876.8,154 866.9,144.1Z" fill="#fff" stroke="#000000" stroke-width="1.6" stroke-linejoin="miter"/>
<text x="933.5" y="159.1" font-family="Liberation Sans, Arial, sans-serif" font-size="41.9">PMA-CHO</text>
<path d="M830.9,194.6 H922.8" stroke="#ff0000" stroke-width="5.0" stroke-linecap="round"/>
<circle cx="876.8" cy="194.6" r="7.3" fill="#fff" stroke="#ff0000" stroke-width="1.6"/>
<text x="933.5" y="209.6" font-family="Liberation Sans, Arial, sans-serif" font-size="41.9">PMA-DCN</text>
<path d="M830.9,245.2 H922.8" stroke="#0000ff" stroke-width="5.0" stroke-linecap="round"/>
<path d="M876.8,235 885.4,249.9 868.2,249.9Z" fill="#fff" stroke="#0000ff" stroke-width="1.6" stroke-linejoin="miter"/>
<text x="933.5" y="260.2" font-family="Liberation Sans, Arial, sans-serif" font-size="41.9">PMA-CNR</text>
<path d="M830.9,295.7 H922.8" stroke="#008000" stroke-width="5.0" stroke-linecap="round"/>
<path d="M876.8,287 879.1,292.6 885.1,293 880.4,296.9 881.9,302.8 876.8,299.5 871.7,302.8 873.2,296.9 868.5,293 874.5,292.6Z" fill="#fff" stroke="#008000" stroke-width="1.8" stroke-linejoin="round"/>
<text x="933.5" y="310.7" font-family="Liberation Sans, Arial, sans-serif" font-size="41.9">PMA-CNB</text>
<path d="M830.9,346.3 H922.8" stroke="#000000" stroke-width="5.0" stroke-linecap="round"/>
<path d="M876.8,335.6 887.5,346.3 876.8,357 866.1,346.3Z" fill="#000000"/>
<text x="933.5" y="361.3" font-family="Liberation Sans, Arial, sans-serif" font-size="41.9">PMAT-CHO</text>
<path d="M830.9,396.8 H922.8" stroke="#ff0000" stroke-width="5.0" stroke-linecap="round"/>
<circle cx="876.8" cy="396.8" r="8.1" fill="#ff0000"/>
<text x="933.5" y="411.8" font-family="Liberation Sans, Arial, sans-serif" font-size="41.9">PMAT-DCN</text>
<path d="M830.9,447.3 H922.8" stroke="#0000ff" stroke-width="5.0" stroke-linecap="round"/>
<path d="M876.8,435.3 887,453.3 866.6,453.3Z" fill="#0000ff"/>
<text x="933.5" y="462.3" font-family="Liberation Sans, Arial, sans-serif" font-size="41.9">PMAT-CNR</text>
<path d="M830.9,497.9 H922.8" stroke="#008000" stroke-width="5.0" stroke-linecap="round"/>
<path d="M876.8,488.3 879.3,494.5 885.9,494.9 880.8,499.2 882.4,505.6 876.8,502.1 871.2,505.6 872.8,499.2 867.7,494.9 874.3,494.5Z" fill="#008000"/>
<text x="933.5" y="512.9" font-family="Liberation Sans, Arial, sans-serif" font-size="41.9">PMAT-CNB</text>
<path d="M2111.5,128.8 H2202.6" stroke="#000000" stroke-width="5.0" stroke-linecap="round"/>
<path d="M2156.9,118.9 2166.8,128.8 2156.9,138.7 2147,128.8Z" fill="#fff" stroke="#000000" stroke-width="1.6" stroke-linejoin="miter"/>
<text x="2214.8" y="142.9" font-family="Liberation Sans, Arial, sans-serif" font-size="41.9">PMA-CHO</text>
<path d="M2111.5,179.4 H2202.6" stroke="#ff0000" stroke-width="5.0" stroke-linecap="round"/>
<circle cx="2156.9" cy="179.4" r="7.3" fill="#fff" stroke="#ff0000" stroke-width="1.6"/>
<text x="2214.8" y="193.5" font-family="Liberation Sans, Arial, sans-serif" font-size="41.9">PMA-DCN</text>
<path d="M2111.5,229.9 H2202.6" stroke="#0000ff" stroke-width="5.0" stroke-linecap="round"/>
<path d="M2156.9,219.7 2165.5,234.6 2148.3,234.6Z" fill="#fff" stroke="#0000ff" stroke-width="1.6" stroke-linejoin="miter"/>
<text x="2214.8" y="244" font-family="Liberation Sans, Arial, sans-serif" font-size="41.9">PMA-CNR</text>
<path d="M2111.5,280.4 H2202.6" stroke="#008000" stroke-width="5.0" stroke-linecap="round"/>
<path d="M2156.9,271.8 2159.2,277.4 2165.2,277.8 2160.5,281.6 2162,287.5 2156.9,284.3 2151.8,287.5 2153.3,281.6 2148.6,277.8 2154.6,277.4Z" fill="#fff" stroke="#008000" stroke-width="1.8" stroke-linejoin="round"/>
<text x="2214.8" y="294.6" font-family="Liberation Sans, Arial, sans-serif" font-size="41.9">PMA-CNB</text>
<path d="M2111.5,331 H2202.6" stroke="#000000" stroke-width="5.0" stroke-linecap="round"/>
<path d="M2156.9,320.3 2167.6,331 2156.9,341.7 2146.2,331Z" fill="#000000"/>
<text x="2214.8" y="345.1" font-family="Liberation Sans, Arial, sans-serif" font-size="41.9">PMAT-CHO</text>
<path d="M2111.5,381.6 H2202.6" stroke="#ff0000" stroke-width="5.0" stroke-linecap="round"/>
<circle cx="2156.9" cy="381.6" r="8.1" fill="#ff0000"/>
<text x="2214.8" y="395.7" font-family="Liberation Sans, Arial, sans-serif" font-size="41.9">PMAT-DCN</text>
<path d="M2111.5,432.1 H2202.6" stroke="#0000ff" stroke-width="5.0" stroke-linecap="round"/>
<path d="M2156.9,420.1 2167.1,438.1 2146.7,438.1Z" fill="#0000ff"/>
<text x="2214.8" y="446.2" font-family="Liberation Sans, Arial, sans-serif" font-size="41.9">PMAT-CNR</text>
<path d="M2111.5,482.6 H2202.6" stroke="#008000" stroke-width="5.0" stroke-linecap="round"/>
<path d="M2156.9,473 2159.4,479.2 2166,479.7 2160.9,484 2162.5,490.4 2156.9,486.9 2151.3,490.4 2152.9,484 2147.8,479.7 2154.4,479.2Z" fill="#008000"/>
<text x="2214.8" y="496.8" font-family="Liberation Sans, Arial, sans-serif" font-size="41.9">PMAT-CNB</text>
</svg></body></html>
